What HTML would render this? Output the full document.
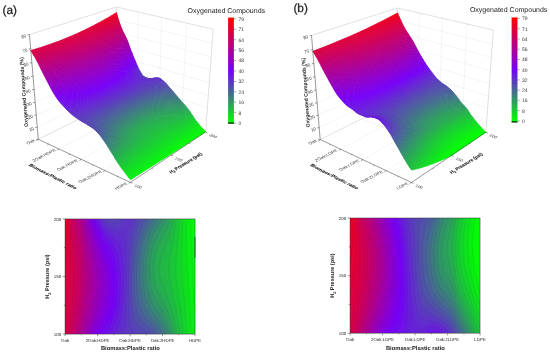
<!DOCTYPE html>
<html><head><meta charset="utf-8"><title>Figure</title><style>html,body{margin:0;padding:0;background:#fff}svg{display:block}</style></head><body>
<svg width="550" height="354" viewBox="0 0 550 354" font-family="'Liberation Sans', sans-serif" text-rendering="geometricPrecision">
<rect width="550" height="354" fill="#fff"/>
<path d="M37.2,127.2 L117.1,89.2 L206.5,120.1 M36.2,114.9 L117,78.2 L207.4,108 M35.1,102.3 L116.9,66.9 L208.3,95.6 M34.1,89.4 L116.7,55.4 L209.2,82.9 M33,76.2 L116.6,43.7 L210.2,69.9 M31.8,62.7 L116.5,31.7 L211.2,56.7 M30.7,48.8 L116.4,19.5 L212.2,43.1 M59,149 L137.4,107.3 L138.3,12 M81.3,159.4 L158.8,115 L161.7,17.4 M105,170.5 L181.5,123.2 L186.6,23.1 M171.1,155.1 L80.5,118.3" fill="none" stroke="#eaeaea" stroke-width="0.5"/>
<path d="M29.5,34.6 L116.3,7 L213.2,29.2 L205.6,131.9 M116.3,7 L117.2,100 M38.3,139.3 L117.2,100 L205.6,131.9" fill="none" stroke="#cbcbcb" stroke-width="0.6"/>
<defs><linearGradient id="sa0" gradientUnits="userSpaceOnUse" x1="31.3" y1="51.3" x2="116.8" y2="14.2"><stop offset="0" stop-color="#da0043"/><stop offset="0.11" stop-color="#da0044"/><stop offset="0.218" stop-color="#da0043"/><stop offset="0.323" stop-color="#da0042"/><stop offset="0.426" stop-color="#dc0040"/><stop offset="0.526" stop-color="#dd003d"/><stop offset="0.625" stop-color="#e00038"/><stop offset="0.721" stop-color="#e30033"/><stop offset="0.816" stop-color="#e6002d"/><stop offset="0.909" stop-color="#ea0026"/><stop offset="1" stop-color="#ef001d"/></linearGradient><linearGradient id="sa1" gradientUnits="userSpaceOnUse" x1="32.3" y1="52.9" x2="117.7" y2="17.2"><stop offset="0" stop-color="#d70049"/><stop offset="0.113" stop-color="#d70048"/><stop offset="0.222" stop-color="#d80046"/><stop offset="0.328" stop-color="#d90044"/><stop offset="0.432" stop-color="#db0042"/><stop offset="0.533" stop-color="#dc003f"/><stop offset="0.631" stop-color="#de003c"/><stop offset="0.727" stop-color="#e00038"/><stop offset="0.82" stop-color="#e20034"/><stop offset="0.911" stop-color="#e40030"/><stop offset="1" stop-color="#e7002b"/></linearGradient><linearGradient id="sa2" gradientUnits="userSpaceOnUse" x1="33.3" y1="54.5" x2="118.6" y2="20.1"><stop offset="0" stop-color="#d3004f"/><stop offset="0.115" stop-color="#d5004c"/><stop offset="0.226" stop-color="#d70049"/><stop offset="0.333" stop-color="#d80047"/><stop offset="0.437" stop-color="#d90044"/><stop offset="0.538" stop-color="#db0042"/><stop offset="0.636" stop-color="#dc0040"/><stop offset="0.731" stop-color="#dd003e"/><stop offset="0.824" stop-color="#de003c"/><stop offset="0.913" stop-color="#df003a"/><stop offset="1" stop-color="#e00039"/></linearGradient><linearGradient id="sa3" gradientUnits="userSpaceOnUse" x1="34.3" y1="56.3" x2="119.5" y2="22.8"><stop offset="0" stop-color="#d00055"/><stop offset="0.116" stop-color="#d20051"/><stop offset="0.229" stop-color="#d5004d"/><stop offset="0.337" stop-color="#d6004a"/><stop offset="0.442" stop-color="#d80047"/><stop offset="0.544" stop-color="#d90045"/><stop offset="0.641" stop-color="#da0044"/><stop offset="0.736" stop-color="#da0043"/><stop offset="0.827" stop-color="#da0043"/><stop offset="0.915" stop-color="#d90044"/><stop offset="1" stop-color="#d90045"/></linearGradient><linearGradient id="sa4" gradientUnits="userSpaceOnUse" x1="35.4" y1="58.1" x2="120.4" y2="25.3"><stop offset="0" stop-color="#cc005c"/><stop offset="0.118" stop-color="#d00056"/><stop offset="0.232" stop-color="#d20051"/><stop offset="0.341" stop-color="#d4004d"/><stop offset="0.446" stop-color="#d6004a"/><stop offset="0.548" stop-color="#d70049"/><stop offset="0.646" stop-color="#d70048"/><stop offset="0.739" stop-color="#d70049"/><stop offset="0.83" stop-color="#d6004a"/><stop offset="0.917" stop-color="#d4004d"/><stop offset="1" stop-color="#d20051"/></linearGradient><linearGradient id="sa5" gradientUnits="userSpaceOnUse" x1="36.4" y1="60" x2="121.3" y2="27.7"><stop offset="0" stop-color="#c80063"/><stop offset="0.119" stop-color="#cc005b"/><stop offset="0.234" stop-color="#d00055"/><stop offset="0.344" stop-color="#d20051"/><stop offset="0.45" stop-color="#d4004e"/><stop offset="0.552" stop-color="#d5004c"/><stop offset="0.649" stop-color="#d5004c"/><stop offset="0.743" stop-color="#d4004e"/><stop offset="0.832" stop-color="#d20051"/><stop offset="0.918" stop-color="#d00056"/><stop offset="1" stop-color="#cc005c"/></linearGradient><linearGradient id="sa6" gradientUnits="userSpaceOnUse" x1="37.4" y1="61.9" x2="122.2" y2="29.9"><stop offset="0" stop-color="#c4006a"/><stop offset="0.12" stop-color="#c90061"/><stop offset="0.236" stop-color="#cd005a"/><stop offset="0.347" stop-color="#d00055"/><stop offset="0.453" stop-color="#d20052"/><stop offset="0.555" stop-color="#d30050"/><stop offset="0.653" stop-color="#d20051"/><stop offset="0.746" stop-color="#d10053"/><stop offset="0.835" stop-color="#ce0058"/><stop offset="0.919" stop-color="#cb005e"/><stop offset="1" stop-color="#c60066"/></linearGradient><linearGradient id="sa7" gradientUnits="userSpaceOnUse" x1="38.5" y1="64" x2="123.1" y2="31.9"><stop offset="0" stop-color="#c00072"/><stop offset="0.122" stop-color="#c60068"/><stop offset="0.238" stop-color="#ca0060"/><stop offset="0.35" stop-color="#cd005a"/><stop offset="0.457" stop-color="#cf0056"/><stop offset="0.558" stop-color="#d00055"/><stop offset="0.656" stop-color="#d00055"/><stop offset="0.748" stop-color="#ce0059"/><stop offset="0.837" stop-color="#cb005e"/><stop offset="0.92" stop-color="#c70065"/><stop offset="1" stop-color="#c2006f"/></linearGradient><linearGradient id="sa8" gradientUnits="userSpaceOnUse" x1="39.5" y1="66.1" x2="124" y2="33.6"><stop offset="0" stop-color="#bb007b"/><stop offset="0.123" stop-color="#c2006f"/><stop offset="0.24" stop-color="#c70066"/><stop offset="0.352" stop-color="#cb005f"/><stop offset="0.459" stop-color="#cd005b"/><stop offset="0.561" stop-color="#ce0059"/><stop offset="0.659" stop-color="#cd005a"/><stop offset="0.751" stop-color="#cb005d"/><stop offset="0.839" stop-color="#c80063"/><stop offset="0.922" stop-color="#c3006c"/><stop offset="1" stop-color="#bd0077"/></linearGradient><linearGradient id="sa9" gradientUnits="userSpaceOnUse" x1="40.6" y1="68.3" x2="124.9" y2="35.3"><stop offset="0" stop-color="#b70083"/><stop offset="0.124" stop-color="#be0076"/><stop offset="0.242" stop-color="#c3006c"/><stop offset="0.355" stop-color="#c80064"/><stop offset="0.462" stop-color="#ca0060"/><stop offset="0.564" stop-color="#cb005e"/><stop offset="0.661" stop-color="#cb005f"/><stop offset="0.753" stop-color="#c90062"/><stop offset="0.84" stop-color="#c50069"/><stop offset="0.923" stop-color="#c00072"/><stop offset="1" stop-color="#b9007e"/></linearGradient><linearGradient id="sa10" gradientUnits="userSpaceOnUse" x1="41.6" y1="70.4" x2="125.8" y2="37"><stop offset="0" stop-color="#b2008b"/><stop offset="0.124" stop-color="#ba007d"/><stop offset="0.243" stop-color="#c00072"/><stop offset="0.357" stop-color="#c4006a"/><stop offset="0.464" stop-color="#c70065"/><stop offset="0.567" stop-color="#c80063"/><stop offset="0.664" stop-color="#c80064"/><stop offset="0.756" stop-color="#c60068"/><stop offset="0.842" stop-color="#c2006f"/><stop offset="0.924" stop-color="#bc0079"/><stop offset="1" stop-color="#b50086"/></linearGradient><linearGradient id="sa11" gradientUnits="userSpaceOnUse" x1="42.7" y1="72.5" x2="126.7" y2="38.8"><stop offset="0" stop-color="#ae0093"/><stop offset="0.125" stop-color="#b60084"/><stop offset="0.245" stop-color="#bc0079"/><stop offset="0.358" stop-color="#c10070"/><stop offset="0.466" stop-color="#c4006b"/><stop offset="0.569" stop-color="#c50069"/><stop offset="0.666" stop-color="#c5006a"/><stop offset="0.757" stop-color="#c2006e"/><stop offset="0.843" stop-color="#be0076"/><stop offset="0.924" stop-color="#b80080"/><stop offset="1" stop-color="#b1008e"/></linearGradient><linearGradient id="sa12" gradientUnits="userSpaceOnUse" x1="43.7" y1="74.6" x2="127.6" y2="40.9"><stop offset="0" stop-color="#a9009b"/><stop offset="0.126" stop-color="#b2008c"/><stop offset="0.246" stop-color="#b90080"/><stop offset="0.36" stop-color="#bd0077"/><stop offset="0.468" stop-color="#c00071"/><stop offset="0.571" stop-color="#c2006f"/><stop offset="0.668" stop-color="#c10071"/><stop offset="0.759" stop-color="#be0075"/><stop offset="0.845" stop-color="#ba007d"/><stop offset="0.925" stop-color="#b30089"/><stop offset="1" stop-color="#ab0098"/></linearGradient><linearGradient id="sa13" gradientUnits="userSpaceOnUse" x1="44.8" y1="76.6" x2="128.5" y2="43.3"><stop offset="0" stop-color="#a500a3"/><stop offset="0.126" stop-color="#ae0093"/><stop offset="0.247" stop-color="#b50087"/><stop offset="0.361" stop-color="#ba007e"/><stop offset="0.47" stop-color="#bd0078"/><stop offset="0.573" stop-color="#be0076"/><stop offset="0.669" stop-color="#bd0078"/><stop offset="0.76" stop-color="#ba007d"/><stop offset="0.846" stop-color="#b50086"/><stop offset="0.926" stop-color="#ae0093"/><stop offset="1" stop-color="#a500a3"/></linearGradient><linearGradient id="sa14" gradientUnits="userSpaceOnUse" x1="45.8" y1="78.6" x2="129.4" y2="45.9"><stop offset="0" stop-color="#a100ab"/><stop offset="0.127" stop-color="#aa009a"/><stop offset="0.248" stop-color="#b1008d"/><stop offset="0.363" stop-color="#b60084"/><stop offset="0.472" stop-color="#b9007f"/><stop offset="0.575" stop-color="#ba007d"/><stop offset="0.671" stop-color="#b80080"/><stop offset="0.762" stop-color="#b50086"/><stop offset="0.847" stop-color="#b00090"/><stop offset="0.926" stop-color="#a8009d"/><stop offset="1" stop-color="#9e00af"/></linearGradient><linearGradient id="sa15" gradientUnits="userSpaceOnUse" x1="46.9" y1="80.6" x2="130.2" y2="48.4"><stop offset="0" stop-color="#9c00b3"/><stop offset="0.128" stop-color="#a600a1"/><stop offset="0.249" stop-color="#ad0094"/><stop offset="0.365" stop-color="#b2008b"/><stop offset="0.474" stop-color="#b50086"/><stop offset="0.576" stop-color="#b60085"/><stop offset="0.673" stop-color="#b40087"/><stop offset="0.764" stop-color="#b0008e"/><stop offset="0.848" stop-color="#a09"/><stop offset="0.927" stop-color="#a200a8"/><stop offset="1" stop-color="#9800bb"/></linearGradient><linearGradient id="sa16" gradientUnits="userSpaceOnUse" x1="47.9" y1="82.6" x2="131.1" y2="50.8"><stop offset="0" stop-color="#9800ba"/><stop offset="0.128" stop-color="#a200a8"/><stop offset="0.25" stop-color="#a9009b"/><stop offset="0.366" stop-color="#af0092"/><stop offset="0.475" stop-color="#b1008c"/><stop offset="0.578" stop-color="#b2008b"/><stop offset="0.675" stop-color="#b0008f"/><stop offset="0.765" stop-color="#ac0096"/><stop offset="0.849" stop-color="#a600a2"/><stop offset="0.928" stop-color="#9d00b2"/><stop offset="1" stop-color="#9200c6"/></linearGradient><linearGradient id="sa17" gradientUnits="userSpaceOnUse" x1="48.9" y1="84.6" x2="132" y2="53.1"><stop offset="0" stop-color="#9400c2"/><stop offset="0.129" stop-color="#9e00af"/><stop offset="0.252" stop-color="#a600a1"/><stop offset="0.368" stop-color="#ab0098"/><stop offset="0.477" stop-color="#ae0093"/><stop offset="0.58" stop-color="#ae0092"/><stop offset="0.677" stop-color="#ac0095"/><stop offset="0.767" stop-color="#a8009e"/><stop offset="0.851" stop-color="#a100aa"/><stop offset="0.928" stop-color="#9800bb"/><stop offset="1" stop-color="#8c00d1"/></linearGradient><linearGradient id="sa18" gradientUnits="userSpaceOnUse" x1="50" y1="86.6" x2="132.9" y2="55.3"><stop offset="0" stop-color="#9000ca"/><stop offset="0.13" stop-color="#9a00b6"/><stop offset="0.253" stop-color="#a200a8"/><stop offset="0.37" stop-color="#a8009e"/><stop offset="0.479" stop-color="#ab0098"/><stop offset="0.583" stop-color="#ab0098"/><stop offset="0.679" stop-color="#a9009c"/><stop offset="0.769" stop-color="#a400a5"/><stop offset="0.852" stop-color="#9d00b2"/><stop offset="0.929" stop-color="#9300c4"/><stop offset="1" stop-color="#8600db"/></linearGradient><linearGradient id="sa19" gradientUnits="userSpaceOnUse" x1="51" y1="88.5" x2="133.8" y2="57.4"><stop offset="0" stop-color="#8c00d1"/><stop offset="0.131" stop-color="#9700bd"/><stop offset="0.254" stop-color="#9f00ae"/><stop offset="0.371" stop-color="#a500a4"/><stop offset="0.481" stop-color="#a8009e"/><stop offset="0.585" stop-color="#a8009e"/><stop offset="0.681" stop-color="#a500a2"/><stop offset="0.771" stop-color="#a000ac"/><stop offset="0.853" stop-color="#9800ba"/><stop offset="0.93" stop-color="#8e00cd"/><stop offset="1" stop-color="#8100e5"/></linearGradient><linearGradient id="sa20" gradientUnits="userSpaceOnUse" x1="52" y1="90.4" x2="134.7" y2="59.5"><stop offset="0" stop-color="#8800d8"/><stop offset="0.131" stop-color="#9300c3"/><stop offset="0.255" stop-color="#9c00b4"/><stop offset="0.373" stop-color="#a100a9"/><stop offset="0.483" stop-color="#a400a4"/><stop offset="0.586" stop-color="#a500a4"/><stop offset="0.683" stop-color="#a200a9"/><stop offset="0.772" stop-color="#9c00b2"/><stop offset="0.855" stop-color="#9400c1"/><stop offset="0.931" stop-color="#8900d5"/><stop offset="1" stop-color="#7b00ef"/></linearGradient><linearGradient id="sa21" gradientUnits="userSpaceOnUse" x1="53.1" y1="92.1" x2="135.6" y2="61.6"><stop offset="0" stop-color="#8400de"/><stop offset="0.132" stop-color="#9000c9"/><stop offset="0.256" stop-color="#9900b9"/><stop offset="0.374" stop-color="#9e00af"/><stop offset="0.484" stop-color="#a100aa"/><stop offset="0.588" stop-color="#a100aa"/><stop offset="0.684" stop-color="#9e00af"/><stop offset="0.773" stop-color="#9900b9"/><stop offset="0.856" stop-color="#9000c9"/><stop offset="0.931" stop-color="#8400de"/><stop offset="1" stop-color="#7600f8"/></linearGradient><linearGradient id="sa22" gradientUnits="userSpaceOnUse" x1="54.1" y1="93.8" x2="136.4" y2="63.7"><stop offset="0" stop-color="#8100e4"/><stop offset="0.132" stop-color="#8d00cf"/><stop offset="0.257" stop-color="#9600bf"/><stop offset="0.375" stop-color="#9b00b4"/><stop offset="0.486" stop-color="#9e00af"/><stop offset="0.589" stop-color="#9e00af"/><stop offset="0.685" stop-color="#9b00b5"/><stop offset="0.774" stop-color="#9500c0"/><stop offset="0.856" stop-color="#8c00d1"/><stop offset="0.932" stop-color="#8000e7"/><stop offset="1" stop-color="#710aee"/></linearGradient><linearGradient id="sa23" gradientUnits="userSpaceOnUse" x1="55.1" y1="95.4" x2="137.3" y2="65.8"><stop offset="0" stop-color="#7e00ea"/><stop offset="0.133" stop-color="#8a00d4"/><stop offset="0.258" stop-color="#9300c4"/><stop offset="0.376" stop-color="#9800ba"/><stop offset="0.487" stop-color="#9b00b5"/><stop offset="0.59" stop-color="#9b00b5"/><stop offset="0.687" stop-color="#9800bb"/><stop offset="0.775" stop-color="#9100c7"/><stop offset="0.857" stop-color="#8800d8"/><stop offset="0.932" stop-color="#7b00ef"/><stop offset="1" stop-color="#6d14e4"/></linearGradient><linearGradient id="sa24" gradientUnits="userSpaceOnUse" x1="56.1" y1="97" x2="138.2" y2="67.8"><stop offset="0" stop-color="#7b00f0"/><stop offset="0.133" stop-color="#8700da"/><stop offset="0.258" stop-color="#9000c9"/><stop offset="0.377" stop-color="#9600bf"/><stop offset="0.488" stop-color="#9800ba"/><stop offset="0.591" stop-color="#9800bb"/><stop offset="0.687" stop-color="#9400c1"/><stop offset="0.776" stop-color="#8d00ce"/><stop offset="0.858" stop-color="#8400e0"/><stop offset="0.932" stop-color="#7600f7"/><stop offset="1" stop-color="#681ddb"/></linearGradient><linearGradient id="sa25" gradientUnits="userSpaceOnUse" x1="57.1" y1="98.4" x2="139.1" y2="69.6"><stop offset="0" stop-color="#7800f5"/><stop offset="0.133" stop-color="#8400df"/><stop offset="0.259" stop-color="#8d00ce"/><stop offset="0.377" stop-color="#9300c4"/><stop offset="0.488" stop-color="#9500bf"/><stop offset="0.592" stop-color="#9500c0"/><stop offset="0.688" stop-color="#9100c7"/><stop offset="0.777" stop-color="#8a00d4"/><stop offset="0.858" stop-color="#8000e6"/><stop offset="0.933" stop-color="#7307f1"/><stop offset="1" stop-color="#6526d3"/></linearGradient><linearGradient id="sa26" gradientUnits="userSpaceOnUse" x1="58.1" y1="99.8" x2="140" y2="71.1"><stop offset="0" stop-color="#7502f6"/><stop offset="0.133" stop-color="#8100e4"/><stop offset="0.259" stop-color="#8a00d3"/><stop offset="0.378" stop-color="#9000c9"/><stop offset="0.489" stop-color="#9200c5"/><stop offset="0.592" stop-color="#9200c6"/><stop offset="0.688" stop-color="#8e00cd"/><stop offset="0.777" stop-color="#8700da"/><stop offset="0.858" stop-color="#7c00ec"/><stop offset="0.933" stop-color="#700deb"/><stop offset="1" stop-color="#612dcd"/></linearGradient><linearGradient id="sa27" gradientUnits="userSpaceOnUse" x1="59.1" y1="101.1" x2="140.9" y2="72.6"><stop offset="0" stop-color="#7306f2"/><stop offset="0.133" stop-color="#7f00e8"/><stop offset="0.259" stop-color="#8800d8"/><stop offset="0.378" stop-color="#8d00ce"/><stop offset="0.489" stop-color="#9000ca"/><stop offset="0.592" stop-color="#8f00cb"/><stop offset="0.688" stop-color="#8b00d2"/><stop offset="0.777" stop-color="#8300e0"/><stop offset="0.858" stop-color="#7900f3"/><stop offset="0.933" stop-color="#6d14e5"/><stop offset="1" stop-color="#5e33c6"/></linearGradient><linearGradient id="sa28" gradientUnits="userSpaceOnUse" x1="60.1" y1="102.3" x2="141.8" y2="74"><stop offset="0" stop-color="#710aee"/><stop offset="0.133" stop-color="#7c00ec"/><stop offset="0.259" stop-color="#8500dd"/><stop offset="0.377" stop-color="#8b00d3"/><stop offset="0.488" stop-color="#8d00cf"/><stop offset="0.592" stop-color="#8c00d1"/><stop offset="0.688" stop-color="#8800d8"/><stop offset="0.777" stop-color="#8000e5"/><stop offset="0.858" stop-color="#7600f8"/><stop offset="0.933" stop-color="#6a1adf"/><stop offset="1" stop-color="#5b3ac0"/></linearGradient><linearGradient id="sa29" gradientUnits="userSpaceOnUse" x1="61.1" y1="103.5" x2="142.6" y2="75.3"><stop offset="0" stop-color="#700eea"/><stop offset="0.133" stop-color="#7a00f1"/><stop offset="0.259" stop-color="#8300e1"/><stop offset="0.377" stop-color="#8800d8"/><stop offset="0.488" stop-color="#8a00d4"/><stop offset="0.592" stop-color="#8900d6"/><stop offset="0.688" stop-color="#8500dd"/><stop offset="0.777" stop-color="#7d00eb"/><stop offset="0.858" stop-color="#7306f2"/><stop offset="0.932" stop-color="#6720d9"/><stop offset="1" stop-color="#593fba"/></linearGradient><linearGradient id="sa30" gradientUnits="userSpaceOnUse" x1="62.1" y1="104.6" x2="143.5" y2="76.4"><stop offset="0" stop-color="#6e11e7"/><stop offset="0.133" stop-color="#7800f5"/><stop offset="0.258" stop-color="#8000e6"/><stop offset="0.377" stop-color="#8500dc"/><stop offset="0.487" stop-color="#8700d9"/><stop offset="0.591" stop-color="#8600db"/><stop offset="0.687" stop-color="#8200e3"/><stop offset="0.776" stop-color="#7a00f0"/><stop offset="0.858" stop-color="#710bed"/><stop offset="0.932" stop-color="#6524d5"/><stop offset="1" stop-color="#5743b6"/></linearGradient><linearGradient id="sa31" gradientUnits="userSpaceOnUse" x1="63.1" y1="105.7" x2="144.4" y2="77.1"><stop offset="0" stop-color="#6c15e4"/><stop offset="0.132" stop-color="#7601f7"/><stop offset="0.258" stop-color="#7e00ea"/><stop offset="0.376" stop-color="#8200e1"/><stop offset="0.487" stop-color="#8400de"/><stop offset="0.59" stop-color="#8300e0"/><stop offset="0.686" stop-color="#7f00e8"/><stop offset="0.775" stop-color="#7800f4"/><stop offset="0.857" stop-color="#6f0fe9"/><stop offset="0.932" stop-color="#6428d1"/><stop offset="1" stop-color="#5646b4"/></linearGradient><linearGradient id="sa32" gradientUnits="userSpaceOnUse" x1="64.1" y1="106.7" x2="145.4" y2="77.4"><stop offset="0" stop-color="#6b18e1"/><stop offset="0.132" stop-color="#7405f3"/><stop offset="0.257" stop-color="#7b00ef"/><stop offset="0.375" stop-color="#8000e7"/><stop offset="0.485" stop-color="#8100e3"/><stop offset="0.589" stop-color="#8000e5"/><stop offset="0.685" stop-color="#7c00ec"/><stop offset="0.774" stop-color="#7601f7"/><stop offset="0.856" stop-color="#6d12e6"/><stop offset="0.931" stop-color="#632ad0"/><stop offset="1" stop-color="#5646b4"/></linearGradient><linearGradient id="sa33" gradientUnits="userSpaceOnUse" x1="65.1" y1="107.8" x2="146.3" y2="77.8"><stop offset="0" stop-color="#691bdd"/><stop offset="0.132" stop-color="#7209ef"/><stop offset="0.256" stop-color="#7800f4"/><stop offset="0.373" stop-color="#7d00ec"/><stop offset="0.484" stop-color="#7e00e9"/><stop offset="0.587" stop-color="#7e00ea"/><stop offset="0.683" stop-color="#7a00f1"/><stop offset="0.773" stop-color="#7405f3"/><stop offset="0.855" stop-color="#6c16e3"/><stop offset="0.931" stop-color="#622bce"/><stop offset="1" stop-color="#5546b4"/></linearGradient><linearGradient id="sa34" gradientUnits="userSpaceOnUse" x1="66.1" y1="108.8" x2="147.2" y2="78.1"><stop offset="0" stop-color="#681fda"/><stop offset="0.131" stop-color="#700deb"/><stop offset="0.255" stop-color="#7601f7"/><stop offset="0.372" stop-color="#7a00f1"/><stop offset="0.482" stop-color="#7c00ee"/><stop offset="0.585" stop-color="#7b00f0"/><stop offset="0.682" stop-color="#7700f6"/><stop offset="0.771" stop-color="#7209ef"/><stop offset="0.854" stop-color="#6b19e0"/><stop offset="0.93" stop-color="#612dcc"/><stop offset="1" stop-color="#5547b3"/></linearGradient><linearGradient id="sa35" gradientUnits="userSpaceOnUse" x1="67.1" y1="109.9" x2="148.1" y2="78.4"><stop offset="0" stop-color="#6622d7"/><stop offset="0.13" stop-color="#6e11e7"/><stop offset="0.254" stop-color="#7306f3"/><stop offset="0.371" stop-color="#7700f6"/><stop offset="0.48" stop-color="#7900f3"/><stop offset="0.583" stop-color="#7800f5"/><stop offset="0.68" stop-color="#7503f5"/><stop offset="0.769" stop-color="#700deb"/><stop offset="0.853" stop-color="#691cdd"/><stop offset="0.929" stop-color="#602fca"/><stop offset="1" stop-color="#5547b3"/></linearGradient><linearGradient id="sa36" gradientUnits="userSpaceOnUse" x1="68.1" y1="110.9" x2="149" y2="78.8"><stop offset="0" stop-color="#6525d4"/><stop offset="0.13" stop-color="#6c16e3"/><stop offset="0.253" stop-color="#710aee"/><stop offset="0.369" stop-color="#7403f5"/><stop offset="0.478" stop-color="#7601f7"/><stop offset="0.581" stop-color="#7502f6"/><stop offset="0.678" stop-color="#7307f1"/><stop offset="0.767" stop-color="#6e11e7"/><stop offset="0.851" stop-color="#681fda"/><stop offset="0.929" stop-color="#5f31c8"/><stop offset="1" stop-color="#5547b3"/></linearGradient><linearGradient id="sa37" gradientUnits="userSpaceOnUse" x1="69.1" y1="111.9" x2="149.9" y2="79"><stop offset="0" stop-color="#6428d1"/><stop offset="0.129" stop-color="#6a19df"/><stop offset="0.251" stop-color="#6f0fe9"/><stop offset="0.367" stop-color="#7209f0"/><stop offset="0.476" stop-color="#7306f2"/><stop offset="0.579" stop-color="#7307f1"/><stop offset="0.675" stop-color="#700cec"/><stop offset="0.765" stop-color="#6c15e3"/><stop offset="0.85" stop-color="#6622d7"/><stop offset="0.928" stop-color="#5f32c7"/><stop offset="1" stop-color="#5547b3"/></linearGradient><linearGradient id="sa38" gradientUnits="userSpaceOnUse" x1="70" y1="112.8" x2="150.9" y2="79"><stop offset="0" stop-color="#622acf"/><stop offset="0.128" stop-color="#681ddc"/><stop offset="0.249" stop-color="#6d14e5"/><stop offset="0.364" stop-color="#700eea"/><stop offset="0.473" stop-color="#710bed"/><stop offset="0.576" stop-color="#700cec"/><stop offset="0.672" stop-color="#6e11e8"/><stop offset="0.763" stop-color="#6b19e0"/><stop offset="0.848" stop-color="#6524d5"/><stop offset="0.927" stop-color="#5e33c6"/><stop offset="1" stop-color="#5645b5"/></linearGradient><linearGradient id="sa39" gradientUnits="userSpaceOnUse" x1="71" y1="113.6" x2="151.8" y2="78.8"><stop offset="0" stop-color="#612ccd"/><stop offset="0.126" stop-color="#6721d8"/><stop offset="0.247" stop-color="#6b19e0"/><stop offset="0.361" stop-color="#6d13e5"/><stop offset="0.469" stop-color="#6e11e8"/><stop offset="0.572" stop-color="#6e12e7"/><stop offset="0.668" stop-color="#6c15e3"/><stop offset="0.759" stop-color="#691cdd"/><stop offset="0.845" stop-color="#6426d3"/><stop offset="0.925" stop-color="#5f33c7"/><stop offset="1" stop-color="#5743b7"/></linearGradient><linearGradient id="sa40" gradientUnits="userSpaceOnUse" x1="72" y1="114.5" x2="152.8" y2="78.5"><stop offset="0" stop-color="#602ecb"/><stop offset="0.125" stop-color="#6525d4"/><stop offset="0.244" stop-color="#681ddc"/><stop offset="0.357" stop-color="#6b19e0"/><stop offset="0.465" stop-color="#6c16e2"/><stop offset="0.567" stop-color="#6b17e2"/><stop offset="0.664" stop-color="#6a1adf"/><stop offset="0.756" stop-color="#681fda"/><stop offset="0.842" stop-color="#6427d2"/><stop offset="0.924" stop-color="#5f32c7"/><stop offset="1" stop-color="#593fba"/></linearGradient><linearGradient id="sa41" gradientUnits="userSpaceOnUse" x1="73" y1="115.3" x2="153.7" y2="78.2"><stop offset="0" stop-color="#6030c9"/><stop offset="0.123" stop-color="#6328d1"/><stop offset="0.241" stop-color="#6622d7"/><stop offset="0.353" stop-color="#681edb"/><stop offset="0.461" stop-color="#691cdd"/><stop offset="0.563" stop-color="#691cdd"/><stop offset="0.66" stop-color="#681edb"/><stop offset="0.752" stop-color="#6623d6"/><stop offset="0.839" stop-color="#6329d0"/><stop offset="0.922" stop-color="#5f32c8"/><stop offset="1" stop-color="#5a3cbd"/></linearGradient><linearGradient id="sa42" gradientUnits="userSpaceOnUse" x1="74" y1="116" x2="154.6" y2="78.1"><stop offset="0" stop-color="#5f32c7"/><stop offset="0.122" stop-color="#622cce"/><stop offset="0.238" stop-color="#6427d2"/><stop offset="0.349" stop-color="#6623d6"/><stop offset="0.456" stop-color="#6622d7"/><stop offset="0.558" stop-color="#6721d7"/><stop offset="0.655" stop-color="#6623d6"/><stop offset="0.748" stop-color="#6426d3"/><stop offset="0.836" stop-color="#622bce"/><stop offset="0.92" stop-color="#5f32c8"/><stop offset="1" stop-color="#5b3ac0"/></linearGradient><linearGradient id="sa43" gradientUnits="userSpaceOnUse" x1="75" y1="116.8" x2="155.6" y2="78"><stop offset="0" stop-color="#5e34c5"/><stop offset="0.12" stop-color="#602fca"/><stop offset="0.235" stop-color="#622bce"/><stop offset="0.345" stop-color="#6329d0"/><stop offset="0.451" stop-color="#6427d2"/><stop offset="0.553" stop-color="#6427d2"/><stop offset="0.65" stop-color="#6428d1"/><stop offset="0.743" stop-color="#632acf"/><stop offset="0.833" stop-color="#612dcc"/><stop offset="0.918" stop-color="#5f32c7"/><stop offset="1" stop-color="#5c38c2"/></linearGradient><linearGradient id="sa44" gradientUnits="userSpaceOnUse" x1="76" y1="117.5" x2="156.5" y2="77.9"><stop offset="0" stop-color="#5d36c4"/><stop offset="0.118" stop-color="#5f32c7"/><stop offset="0.231" stop-color="#6030c9"/><stop offset="0.34" stop-color="#612ecb"/><stop offset="0.446" stop-color="#612dcc"/><stop offset="0.547" stop-color="#612dcc"/><stop offset="0.645" stop-color="#612dcc"/><stop offset="0.739" stop-color="#612ecb"/><stop offset="0.829" stop-color="#6030c9"/><stop offset="0.916" stop-color="#5f32c7"/><stop offset="1" stop-color="#5d35c4"/></linearGradient><linearGradient id="sa45" gradientUnits="userSpaceOnUse" x1="77" y1="118.3" x2="157.5" y2="77.8"><stop offset="0" stop-color="#5c37c2"/><stop offset="0.116" stop-color="#5d36c4"/><stop offset="0.227" stop-color="#5e35c5"/><stop offset="0.335" stop-color="#5e34c6"/><stop offset="0.44" stop-color="#5e33c6"/><stop offset="0.541" stop-color="#5f33c7"/><stop offset="0.639" stop-color="#5f32c7"/><stop offset="0.734" stop-color="#5f32c7"/><stop offset="0.825" stop-color="#5f33c7"/><stop offset="0.914" stop-color="#5e33c6"/><stop offset="1" stop-color="#5e34c6"/></linearGradient><linearGradient id="sa46" gradientUnits="userSpaceOnUse" x1="78" y1="119" x2="158.4" y2="77.9"><stop offset="0" stop-color="#5c39c1"/><stop offset="0.113" stop-color="#5b39c0"/><stop offset="0.223" stop-color="#5b3ac0"/><stop offset="0.33" stop-color="#5b3ac0"/><stop offset="0.434" stop-color="#5b3ac0"/><stop offset="0.535" stop-color="#5c39c0"/><stop offset="0.633" stop-color="#5c38c1"/><stop offset="0.728" stop-color="#5c37c2"/><stop offset="0.821" stop-color="#5d36c4"/><stop offset="0.912" stop-color="#5e34c5"/><stop offset="1" stop-color="#5f32c7"/></linearGradient><linearGradient id="sa47" gradientUnits="userSpaceOnUse" x1="79" y1="119.6" x2="159.4" y2="78.1"><stop offset="0" stop-color="#5b3ac0"/><stop offset="0.111" stop-color="#5a3dbd"/><stop offset="0.219" stop-color="#593fbb"/><stop offset="0.325" stop-color="#5840ba"/><stop offset="0.428" stop-color="#5840b9"/><stop offset="0.528" stop-color="#5840ba"/><stop offset="0.627" stop-color="#593fbb"/><stop offset="0.723" stop-color="#5a3dbd"/><stop offset="0.817" stop-color="#5b3ac0"/><stop offset="0.909" stop-color="#5d36c3"/><stop offset="1" stop-color="#5f32c8"/></linearGradient><linearGradient id="sa48" gradientUnits="userSpaceOnUse" x1="80" y1="120.3" x2="160.3" y2="78.5"><stop offset="0" stop-color="#5b3bbf"/><stop offset="0.109" stop-color="#5840ba"/><stop offset="0.216" stop-color="#5744b6"/><stop offset="0.32" stop-color="#5646b4"/><stop offset="0.422" stop-color="#5547b3"/><stop offset="0.522" stop-color="#5547b3"/><stop offset="0.621" stop-color="#5645b4"/><stop offset="0.718" stop-color="#5743b7"/><stop offset="0.813" stop-color="#593fbb"/><stop offset="0.907" stop-color="#5c39c0"/><stop offset="1" stop-color="#5f32c7"/></linearGradient><linearGradient id="sa49" gradientUnits="userSpaceOnUse" x1="81" y1="120.9" x2="161.3" y2="79.1"><stop offset="0" stop-color="#5a3cbe"/><stop offset="0.107" stop-color="#5743b7"/><stop offset="0.212" stop-color="#5448b2"/><stop offset="0.315" stop-color="#534cae"/><stop offset="0.417" stop-color="#524eac"/><stop offset="0.517" stop-color="#524eac"/><stop offset="0.615" stop-color="#534cae"/><stop offset="0.713" stop-color="#5449b1"/><stop offset="0.81" stop-color="#5744b6"/><stop offset="0.905" stop-color="#5a3dbd"/><stop offset="1" stop-color="#5e34c5"/></linearGradient><linearGradient id="sa50" gradientUnits="userSpaceOnUse" x1="82" y1="121.5" x2="162.2" y2="79.9"><stop offset="0" stop-color="#5a3dbd"/><stop offset="0.105" stop-color="#5646b4"/><stop offset="0.209" stop-color="#524dad"/><stop offset="0.311" stop-color="#5052a8"/><stop offset="0.412" stop-color="#4f55a6"/><stop offset="0.512" stop-color="#4f55a5"/><stop offset="0.611" stop-color="#4f53a7"/><stop offset="0.709" stop-color="#514fab"/><stop offset="0.806" stop-color="#5449b1"/><stop offset="0.903" stop-color="#5841b9"/><stop offset="1" stop-color="#5d37c3"/></linearGradient><linearGradient id="sa51" gradientUnits="userSpaceOnUse" x1="83" y1="122" x2="163.2" y2="80.8"><stop offset="0" stop-color="#593ebc"/><stop offset="0.104" stop-color="#5449b1"/><stop offset="0.206" stop-color="#5051a9"/><stop offset="0.307" stop-color="#4e57a3"/><stop offset="0.407" stop-color="#4c5ba0"/><stop offset="0.507" stop-color="#4c5c9f"/><stop offset="0.606" stop-color="#4c5aa0"/><stop offset="0.705" stop-color="#4e56a4"/><stop offset="0.803" stop-color="#514fab"/><stop offset="0.902" stop-color="#5646b4"/><stop offset="1" stop-color="#5b3ac0"/></linearGradient><linearGradient id="sa52" gradientUnits="userSpaceOnUse" x1="84" y1="122.6" x2="164.1" y2="81.7"><stop offset="0" stop-color="#593ebb"/><stop offset="0.102" stop-color="#534baf"/><stop offset="0.203" stop-color="#4e56a5"/><stop offset="0.304" stop-color="#4b5d9e"/><stop offset="0.403" stop-color="#49619a"/><stop offset="0.503" stop-color="#496298"/><stop offset="0.602" stop-color="#49619a"/><stop offset="0.701" stop-color="#4b5c9e"/><stop offset="0.801" stop-color="#4f55a6"/><stop offset="0.9" stop-color="#544ab0"/><stop offset="1" stop-color="#5a3dbd"/></linearGradient><linearGradient id="sa53" gradientUnits="userSpaceOnUse" x1="85" y1="123.2" x2="165" y2="82.5"><stop offset="0" stop-color="#593fba"/><stop offset="0.101" stop-color="#524eac"/><stop offset="0.201" stop-color="#4d59a1"/><stop offset="0.3" stop-color="#496299"/><stop offset="0.4" stop-color="#476794"/><stop offset="0.499" stop-color="#466893"/><stop offset="0.598" stop-color="#466794"/><stop offset="0.698" stop-color="#496299"/><stop offset="0.798" stop-color="#4c5aa1"/><stop offset="0.899" stop-color="#524fac"/><stop offset="1" stop-color="#5840ba"/></linearGradient><linearGradient id="sa54" gradientUnits="userSpaceOnUse" x1="86.1" y1="123.8" x2="166" y2="83.5"><stop offset="0" stop-color="#5840ba"/><stop offset="0.1" stop-color="#5150aa"/><stop offset="0.199" stop-color="#4b5d9d"/><stop offset="0.298" stop-color="#476694"/><stop offset="0.397" stop-color="#446c8f"/><stop offset="0.496" stop-color="#436e8d"/><stop offset="0.595" stop-color="#446d8e"/><stop offset="0.695" stop-color="#466893"/><stop offset="0.796" stop-color="#4a5f9b"/><stop offset="0.897" stop-color="#4f53a7"/><stop offset="1" stop-color="#5744b6"/></linearGradient><linearGradient id="sa55" gradientUnits="userSpaceOnUse" x1="87.1" y1="124.5" x2="166.9" y2="84.5"><stop offset="0" stop-color="#5841b9"/><stop offset="0.099" stop-color="#5053a7"/><stop offset="0.197" stop-color="#49619a"/><stop offset="0.295" stop-color="#446b90"/><stop offset="0.394" stop-color="#42718a"/><stop offset="0.493" stop-color="#407487"/><stop offset="0.592" stop-color="#417389"/><stop offset="0.693" stop-color="#436e8d"/><stop offset="0.794" stop-color="#476596"/><stop offset="0.896" stop-color="#4d58a2"/><stop offset="1" stop-color="#5548b2"/></linearGradient><linearGradient id="sa56" gradientUnits="userSpaceOnUse" x1="88.1" y1="125.1" x2="167.9" y2="85.6"><stop offset="0" stop-color="#5742b8"/><stop offset="0.098" stop-color="#4f55a5"/><stop offset="0.195" stop-color="#486496"/><stop offset="0.293" stop-color="#426f8c"/><stop offset="0.391" stop-color="#3f7685"/><stop offset="0.49" stop-color="#3e7982"/><stop offset="0.59" stop-color="#3e7883"/><stop offset="0.691" stop-color="#417388"/><stop offset="0.792" stop-color="#456a91"/><stop offset="0.895" stop-color="#4b5d9e"/><stop offset="1" stop-color="#534cae"/></linearGradient><linearGradient id="sa57" gradientUnits="userSpaceOnUse" x1="89.1" y1="125.7" x2="168.8" y2="86.7"><stop offset="0" stop-color="#5743b7"/><stop offset="0.097" stop-color="#4d58a3"/><stop offset="0.194" stop-color="#466893"/><stop offset="0.291" stop-color="#407487"/><stop offset="0.389" stop-color="#3d7b80"/><stop offset="0.488" stop-color="#3b7f7d"/><stop offset="0.588" stop-color="#3c7e7d"/><stop offset="0.689" stop-color="#3e7982"/><stop offset="0.791" stop-color="#42708c"/><stop offset="0.895" stop-color="#496299"/><stop offset="1" stop-color="#5150aa"/></linearGradient><linearGradient id="sa58" gradientUnits="userSpaceOnUse" x1="90.1" y1="126.4" x2="169.7" y2="87.8"><stop offset="0" stop-color="#5644b6"/><stop offset="0.096" stop-color="#4c5aa0"/><stop offset="0.192" stop-color="#446b90"/><stop offset="0.289" stop-color="#3e7883"/><stop offset="0.387" stop-color="#3b807b"/><stop offset="0.486" stop-color="#398477"/><stop offset="0.586" stop-color="#398378"/><stop offset="0.687" stop-color="#3c7e7d"/><stop offset="0.789" stop-color="#407586"/><stop offset="0.894" stop-color="#466794"/><stop offset="1" stop-color="#4f54a6"/></linearGradient><linearGradient id="sa59" gradientUnits="userSpaceOnUse" x1="91.2" y1="127" x2="170.7" y2="88.9"><stop offset="0" stop-color="#5646b4"/><stop offset="0.095" stop-color="#4b5c9e"/><stop offset="0.191" stop-color="#436f8c"/><stop offset="0.288" stop-color="#3d7c7f"/><stop offset="0.385" stop-color="#388577"/><stop offset="0.484" stop-color="#378973"/><stop offset="0.584" stop-color="#378973"/><stop offset="0.685" stop-color="#398478"/><stop offset="0.788" stop-color="#3e7a81"/><stop offset="0.893" stop-color="#446b8f"/><stop offset="1" stop-color="#4d58a2"/></linearGradient><linearGradient id="sa60" gradientUnits="userSpaceOnUse" x1="92.2" y1="127.7" x2="171.6" y2="89.9"><stop offset="0" stop-color="#5547b3"/><stop offset="0.095" stop-color="#4a5f9c"/><stop offset="0.19" stop-color="#417289"/><stop offset="0.286" stop-color="#3b807b"/><stop offset="0.383" stop-color="#368a72"/><stop offset="0.482" stop-color="#348e6e"/><stop offset="0.582" stop-color="#348e6e"/><stop offset="0.683" stop-color="#378973"/><stop offset="0.787" stop-color="#3b7f7d"/><stop offset="0.892" stop-color="#42708b"/><stop offset="1" stop-color="#4b5c9e"/></linearGradient><linearGradient id="sa61" gradientUnits="userSpaceOnUse" x1="93.2" y1="128.5" x2="172.6" y2="91"><stop offset="0" stop-color="#5448b2"/><stop offset="0.094" stop-color="#496199"/><stop offset="0.189" stop-color="#407586"/><stop offset="0.285" stop-color="#398477"/><stop offset="0.382" stop-color="#348e6e"/><stop offset="0.48" stop-color="#329369"/><stop offset="0.58" stop-color="#329369"/><stop offset="0.682" stop-color="#348e6e"/><stop offset="0.786" stop-color="#398478"/><stop offset="0.892" stop-color="#407586"/><stop offset="1" stop-color="#49619a"/></linearGradient><linearGradient id="sa62" gradientUnits="userSpaceOnUse" x1="94.3" y1="129.3" x2="173.5" y2="92.1"><stop offset="0" stop-color="#544ab0"/><stop offset="0.093" stop-color="#486497"/><stop offset="0.188" stop-color="#3e7983"/><stop offset="0.283" stop-color="#378873"/><stop offset="0.38" stop-color="#329369"/><stop offset="0.479" stop-color="#309864"/><stop offset="0.579" stop-color="#309864"/><stop offset="0.681" stop-color="#329369"/><stop offset="0.785" stop-color="#378973"/><stop offset="0.891" stop-color="#3e7982"/><stop offset="1" stop-color="#476596"/></linearGradient><linearGradient id="sa63" gradientUnits="userSpaceOnUse" x1="95.3" y1="130.3" x2="174.5" y2="93.2"><stop offset="0" stop-color="#524dad"/><stop offset="0.093" stop-color="#466794"/><stop offset="0.187" stop-color="#3c7d7f"/><stop offset="0.282" stop-color="#358c6f"/><stop offset="0.379" stop-color="#309765"/><stop offset="0.477" stop-color="#2e9d60"/><stop offset="0.577" stop-color="#2d9d5f"/><stop offset="0.68" stop-color="#309864"/><stop offset="0.784" stop-color="#358d6e"/><stop offset="0.891" stop-color="#3c7e7e"/><stop offset="1" stop-color="#456992"/></linearGradient><linearGradient id="sa64" gradientUnits="userSpaceOnUse" x1="96.4" y1="131.3" x2="175.4" y2="94.3"><stop offset="0" stop-color="#5150aa"/><stop offset="0.093" stop-color="#456b90"/><stop offset="0.186" stop-color="#3b807b"/><stop offset="0.281" stop-color="#33916b"/><stop offset="0.378" stop-color="#2e9c61"/><stop offset="0.476" stop-color="#2ba15b"/><stop offset="0.576" stop-color="#2ba15b"/><stop offset="0.679" stop-color="#2e9c60"/><stop offset="0.783" stop-color="#32926a"/><stop offset="0.89" stop-color="#3a8279"/><stop offset="1" stop-color="#436d8e"/></linearGradient><linearGradient id="sa65" gradientUnits="userSpaceOnUse" x1="97.4" y1="132.4" x2="176.4" y2="95.4"><stop offset="0" stop-color="#5053a7"/><stop offset="0.092" stop-color="#436e8d"/><stop offset="0.186" stop-color="#398478"/><stop offset="0.281" stop-color="#319568"/><stop offset="0.377" stop-color="#2ca05d"/><stop offset="0.476" stop-color="#29a557"/><stop offset="0.576" stop-color="#29a657"/><stop offset="0.678" stop-color="#2ca15c"/><stop offset="0.783" stop-color="#309666"/><stop offset="0.89" stop-color="#388775"/><stop offset="1" stop-color="#41718a"/></linearGradient><linearGradient id="sa66" gradientUnits="userSpaceOnUse" x1="98.5" y1="133.6" x2="177.3" y2="96.5"><stop offset="0" stop-color="#4e57a4"/><stop offset="0.092" stop-color="#417289"/><stop offset="0.186" stop-color="#378874"/><stop offset="0.281" stop-color="#309864"/><stop offset="0.377" stop-color="#2aa359"/><stop offset="0.476" stop-color="#28a954"/><stop offset="0.576" stop-color="#28a953"/><stop offset="0.678" stop-color="#2aa458"/><stop offset="0.783" stop-color="#2f9a62"/><stop offset="0.89" stop-color="#368b71"/><stop offset="1" stop-color="#407686"/></linearGradient><linearGradient id="sa67" gradientUnits="userSpaceOnUse" x1="99.6" y1="134.9" x2="178.3" y2="97.6"><stop offset="0" stop-color="#4c5aa0"/><stop offset="0.093" stop-color="#407586"/><stop offset="0.186" stop-color="#368b71"/><stop offset="0.281" stop-color="#2e9b61"/><stop offset="0.378" stop-color="#29a656"/><stop offset="0.476" stop-color="#26ac51"/><stop offset="0.576" stop-color="#26ac50"/><stop offset="0.679" stop-color="#28a855"/><stop offset="0.783" stop-color="#2d9e5f"/><stop offset="0.89" stop-color="#348e6d"/><stop offset="1" stop-color="#3e7a81"/></linearGradient><linearGradient id="sa68" gradientUnits="userSpaceOnUse" x1="100.6" y1="136.2" x2="179.2" y2="98.7"><stop offset="0" stop-color="#4a5e9c"/><stop offset="0.093" stop-color="#3e7983"/><stop offset="0.187" stop-color="#348e6e"/><stop offset="0.282" stop-color="#2d9e5e"/><stop offset="0.379" stop-color="#28a954"/><stop offset="0.477" stop-color="#25ae4e"/><stop offset="0.578" stop-color="#25af4e"/><stop offset="0.68" stop-color="#27ab52"/><stop offset="0.784" stop-color="#2ca15c"/><stop offset="0.891" stop-color="#32926a"/><stop offset="1" stop-color="#3c7e7d"/></linearGradient><linearGradient id="sa69" gradientUnits="userSpaceOnUse" x1="101.7" y1="137.5" x2="180.2" y2="99.8"><stop offset="0" stop-color="#486398"/><stop offset="0.094" stop-color="#3c7c7f"/><stop offset="0.188" stop-color="#33916b"/><stop offset="0.284" stop-color="#2ca05c"/><stop offset="0.381" stop-color="#27ab52"/><stop offset="0.479" stop-color="#24b14c"/><stop offset="0.579" stop-color="#24b14c"/><stop offset="0.681" stop-color="#26ad50"/><stop offset="0.785" stop-color="#2aa459"/><stop offset="0.891" stop-color="#319667"/><stop offset="1" stop-color="#3a8279"/></linearGradient><linearGradient id="sa70" gradientUnits="userSpaceOnUse" x1="102.8" y1="139" x2="181.1" y2="100.9"><stop offset="0" stop-color="#466893"/><stop offset="0.094" stop-color="#3b807b"/><stop offset="0.189" stop-color="#319468"/><stop offset="0.285" stop-color="#2ba359"/><stop offset="0.383" stop-color="#26ad50"/><stop offset="0.481" stop-color="#23b34a"/><stop offset="0.581" stop-color="#23b34a"/><stop offset="0.683" stop-color="#25af4e"/><stop offset="0.786" stop-color="#29a756"/><stop offset="0.892" stop-color="#2f9963"/><stop offset="1" stop-color="#388775"/></linearGradient><linearGradient id="sa71" gradientUnits="userSpaceOnUse" x1="103.9" y1="140.6" x2="182.1" y2="102.1"><stop offset="0" stop-color="#436d8e"/><stop offset="0.095" stop-color="#398477"/><stop offset="0.191" stop-color="#309765"/><stop offset="0.287" stop-color="#29a657"/><stop offset="0.385" stop-color="#25af4e"/><stop offset="0.483" stop-color="#22b448"/><stop offset="0.583" stop-color="#22b548"/><stop offset="0.685" stop-color="#24b14b"/><stop offset="0.788" stop-color="#28a954"/><stop offset="0.893" stop-color="#2e9c60"/><stop offset="1" stop-color="#368b71"/></linearGradient><linearGradient id="sa72" gradientUnits="userSpaceOnUse" x1="104.9" y1="142.1" x2="183" y2="103.2"><stop offset="0" stop-color="#417389"/><stop offset="0.096" stop-color="#378973"/><stop offset="0.192" stop-color="#2f9a62"/><stop offset="0.289" stop-color="#28a855"/><stop offset="0.387" stop-color="#24b14c"/><stop offset="0.486" stop-color="#22b647"/><stop offset="0.586" stop-color="#21b746"/><stop offset="0.687" stop-color="#23b34a"/><stop offset="0.79" stop-color="#27ac51"/><stop offset="0.894" stop-color="#2ca05d"/><stop offset="1" stop-color="#348f6d"/></linearGradient><linearGradient id="sa73" gradientUnits="userSpaceOnUse" x1="106" y1="143.7" x2="184" y2="104.3"><stop offset="0" stop-color="#3e7883"/><stop offset="0.097" stop-color="#358d6f"/><stop offset="0.194" stop-color="#2d9e5f"/><stop offset="0.292" stop-color="#27aa52"/><stop offset="0.39" stop-color="#23b34a"/><stop offset="0.488" stop-color="#21b845"/><stop offset="0.588" stop-color="#21b944"/><stop offset="0.689" stop-color="#22b548"/><stop offset="0.791" stop-color="#25ae4f"/><stop offset="0.895" stop-color="#2ba35a"/><stop offset="1" stop-color="#329369"/></linearGradient><linearGradient id="sa74" gradientUnits="userSpaceOnUse" x1="107.1" y1="145.4" x2="184.9" y2="105.4"><stop offset="0" stop-color="#3c7e7e"/><stop offset="0.098" stop-color="#33916b"/><stop offset="0.196" stop-color="#2ba15b"/><stop offset="0.294" stop-color="#26ad50"/><stop offset="0.392" stop-color="#22b548"/><stop offset="0.491" stop-color="#20ba43"/><stop offset="0.591" stop-color="#20ba43"/><stop offset="0.691" stop-color="#21b746"/><stop offset="0.793" stop-color="#24b04c"/><stop offset="0.896" stop-color="#29a657"/><stop offset="1" stop-color="#309765"/></linearGradient><linearGradient id="sa75" gradientUnits="userSpaceOnUse" x1="108.2" y1="147.1" x2="185.9" y2="106.5"><stop offset="0" stop-color="#398478"/><stop offset="0.099" stop-color="#319666"/><stop offset="0.198" stop-color="#2aa558"/><stop offset="0.296" stop-color="#25b04d"/><stop offset="0.395" stop-color="#21b845"/><stop offset="0.494" stop-color="#1fbc41"/><stop offset="0.594" stop-color="#1fbc41"/><stop offset="0.694" stop-color="#20b944"/><stop offset="0.795" stop-color="#23b34a"/><stop offset="0.897" stop-color="#28a954"/><stop offset="1" stop-color="#2e9c61"/></linearGradient><linearGradient id="sa76" gradientUnits="userSpaceOnUse" x1="109.3" y1="148.9" x2="186.9" y2="107.6"><stop offset="0" stop-color="#368a71"/><stop offset="0.1" stop-color="#2e9b61"/><stop offset="0.199" stop-color="#28a954"/><stop offset="0.299" stop-color="#23b34a"/><stop offset="0.398" stop-color="#20ba43"/><stop offset="0.497" stop-color="#1ebe3f"/><stop offset="0.596" stop-color="#1ebe3f"/><stop offset="0.696" stop-color="#1fbc42"/><stop offset="0.797" stop-color="#22b647"/><stop offset="0.898" stop-color="#26ad50"/><stop offset="1" stop-color="#2ca05c"/></linearGradient><linearGradient id="sa77" gradientUnits="userSpaceOnUse" x1="110.4" y1="150.7" x2="187.8" y2="108.8"><stop offset="0" stop-color="#33916b"/><stop offset="0.101" stop-color="#2ca05c"/><stop offset="0.201" stop-color="#26ad50"/><stop offset="0.301" stop-color="#22b647"/><stop offset="0.4" stop-color="#1fbd41"/><stop offset="0.5" stop-color="#1dc03d"/><stop offset="0.599" stop-color="#1dc13d"/><stop offset="0.699" stop-color="#1ebe3f"/><stop offset="0.799" stop-color="#21b944"/><stop offset="0.899" stop-color="#24b04d"/><stop offset="1" stop-color="#2aa558"/></linearGradient><linearGradient id="sa78" gradientUnits="userSpaceOnUse" x1="111.4" y1="152.5" x2="188.8" y2="110.1"><stop offset="0" stop-color="#309765"/><stop offset="0.102" stop-color="#2aa557"/><stop offset="0.203" stop-color="#24b14c"/><stop offset="0.303" stop-color="#20b944"/><stop offset="0.403" stop-color="#1dbf3e"/><stop offset="0.503" stop-color="#1cc23b"/><stop offset="0.602" stop-color="#1cc33a"/><stop offset="0.701" stop-color="#1dc13d"/><stop offset="0.801" stop-color="#1fbc41"/><stop offset="0.9" stop-color="#23b449"/><stop offset="1" stop-color="#28aa53"/></linearGradient><linearGradient id="sa79" gradientUnits="userSpaceOnUse" x1="112.5" y1="154.2" x2="189.7" y2="111.4"><stop offset="0" stop-color="#2d9d5f"/><stop offset="0.103" stop-color="#27aa53"/><stop offset="0.205" stop-color="#22b548"/><stop offset="0.306" stop-color="#1fbd41"/><stop offset="0.406" stop-color="#1cc23b"/><stop offset="0.506" stop-color="#1bc538"/><stop offset="0.605" stop-color="#1bc638"/><stop offset="0.704" stop-color="#1bc43a"/><stop offset="0.803" stop-color="#1ebf3e"/><stop offset="0.901" stop-color="#21b845"/><stop offset="1" stop-color="#25af4e"/></linearGradient><linearGradient id="sa80" gradientUnits="userSpaceOnUse" x1="113.6" y1="156" x2="190.7" y2="112.7"><stop offset="0" stop-color="#2aa459"/><stop offset="0.104" stop-color="#25af4e"/><stop offset="0.207" stop-color="#21b944"/><stop offset="0.309" stop-color="#1dc03d"/><stop offset="0.41" stop-color="#1bc539"/><stop offset="0.509" stop-color="#1ac836"/><stop offset="0.608" stop-color="#19c835"/><stop offset="0.707" stop-color="#1ac737"/><stop offset="0.805" stop-color="#1cc33b"/><stop offset="0.903" stop-color="#1fbd40"/><stop offset="1" stop-color="#22b448"/></linearGradient><linearGradient id="sa81" gradientUnits="userSpaceOnUse" x1="114.7" y1="157.8" x2="191.6" y2="114.1"><stop offset="0" stop-color="#27aa53"/><stop offset="0.106" stop-color="#23b449"/><stop offset="0.21" stop-color="#1fbd41"/><stop offset="0.312" stop-color="#1cc33a"/><stop offset="0.413" stop-color="#1ac836"/><stop offset="0.513" stop-color="#18ca33"/><stop offset="0.612" stop-color="#18cb33"/><stop offset="0.71" stop-color="#19ca34"/><stop offset="0.807" stop-color="#1ac637"/><stop offset="0.904" stop-color="#1dc13c"/><stop offset="1" stop-color="#20ba43"/></linearGradient><linearGradient id="sa82" gradientUnits="userSpaceOnUse" x1="115.8" y1="159.6" x2="192.6" y2="115.6"><stop offset="0" stop-color="#25b04d"/><stop offset="0.107" stop-color="#20b944"/><stop offset="0.212" stop-color="#1dc13d"/><stop offset="0.315" stop-color="#1ac637"/><stop offset="0.417" stop-color="#18cb33"/><stop offset="0.517" stop-color="#17cd31"/><stop offset="0.615" stop-color="#17ce30"/><stop offset="0.713" stop-color="#17cd31"/><stop offset="0.809" stop-color="#18ca33"/><stop offset="0.905" stop-color="#1ac637"/><stop offset="1" stop-color="#1dc03d"/></linearGradient><linearGradient id="sa83" gradientUnits="userSpaceOnUse" x1="116.9" y1="161.3" x2="193.5" y2="117"><stop offset="0" stop-color="#22b647"/><stop offset="0.108" stop-color="#1ebe3f"/><stop offset="0.214" stop-color="#1bc539"/><stop offset="0.318" stop-color="#19ca34"/><stop offset="0.42" stop-color="#17ce30"/><stop offset="0.52" stop-color="#16d02e"/><stop offset="0.619" stop-color="#15d12d"/><stop offset="0.716" stop-color="#16d02e"/><stop offset="0.812" stop-color="#17ce30"/><stop offset="0.906" stop-color="#18cb33"/><stop offset="1" stop-color="#1ac638"/></linearGradient><linearGradient id="sa84" gradientUnits="userSpaceOnUse" x1="118" y1="162.9" x2="194.5" y2="118.4"><stop offset="0" stop-color="#1fbc41"/><stop offset="0.109" stop-color="#1cc33b"/><stop offset="0.216" stop-color="#19c935"/><stop offset="0.321" stop-color="#17cd31"/><stop offset="0.423" stop-color="#16d02d"/><stop offset="0.523" stop-color="#15d32b"/><stop offset="0.622" stop-color="#14d42a"/><stop offset="0.718" stop-color="#14d32a"/><stop offset="0.814" stop-color="#15d22c"/><stop offset="0.907" stop-color="#16cf2e"/><stop offset="1" stop-color="#18cc32"/></linearGradient><linearGradient id="sa85" gradientUnits="userSpaceOnUse" x1="119.1" y1="164.5" x2="195.4" y2="119.7"><stop offset="0" stop-color="#1dc13c"/><stop offset="0.11" stop-color="#1ac736"/><stop offset="0.218" stop-color="#17cc31"/><stop offset="0.323" stop-color="#16d02d"/><stop offset="0.426" stop-color="#14d42a"/><stop offset="0.526" stop-color="#13d628"/><stop offset="0.624" stop-color="#13d727"/><stop offset="0.721" stop-color="#13d727"/><stop offset="0.815" stop-color="#13d628"/><stop offset="0.908" stop-color="#14d42a"/><stop offset="1" stop-color="#15d12d"/></linearGradient><linearGradient id="sa86" gradientUnits="userSpaceOnUse" x1="120.1" y1="166.1" x2="196.4" y2="121"><stop offset="0" stop-color="#1ac637"/><stop offset="0.111" stop-color="#18cc32"/><stop offset="0.22" stop-color="#16d02e"/><stop offset="0.325" stop-color="#14d42a"/><stop offset="0.428" stop-color="#13d727"/><stop offset="0.528" stop-color="#12d925"/><stop offset="0.627" stop-color="#11da24"/><stop offset="0.723" stop-color="#11da24"/><stop offset="0.817" stop-color="#11da24"/><stop offset="0.909" stop-color="#12d826"/><stop offset="1" stop-color="#13d628"/></linearGradient><linearGradient id="sa87" gradientUnits="userSpaceOnUse" x1="121.2" y1="167.6" x2="197.3" y2="122.2"><stop offset="0" stop-color="#18cb32"/><stop offset="0.112" stop-color="#16d02e"/><stop offset="0.221" stop-color="#14d42a"/><stop offset="0.327" stop-color="#12d727"/><stop offset="0.43" stop-color="#11da24"/><stop offset="0.531" stop-color="#10dc22"/><stop offset="0.629" stop-color="#10dd21"/><stop offset="0.725" stop-color="#10dd21"/><stop offset="0.818" stop-color="#10dd21"/><stop offset="0.91" stop-color="#10dc22"/><stop offset="1" stop-color="#11db23"/></linearGradient><linearGradient id="sa88" gradientUnits="userSpaceOnUse" x1="122.3" y1="169.1" x2="198.3" y2="123.5"><stop offset="0" stop-color="#16d02d"/><stop offset="0.113" stop-color="#14d42a"/><stop offset="0.222" stop-color="#12d826"/><stop offset="0.328" stop-color="#11db23"/><stop offset="0.432" stop-color="#10dd21"/><stop offset="0.533" stop-color="#0fdf1f"/><stop offset="0.631" stop-color="#0ee01e"/><stop offset="0.726" stop-color="#0ee11d"/><stop offset="0.82" stop-color="#0ee11d"/><stop offset="0.911" stop-color="#0ee11e"/><stop offset="1" stop-color="#0ee01e"/></linearGradient><linearGradient id="sa89" gradientUnits="userSpaceOnUse" x1="123.4" y1="170.6" x2="199.3" y2="124.7"><stop offset="0" stop-color="#13d529"/><stop offset="0.113" stop-color="#12d825"/><stop offset="0.223" stop-color="#10db23"/><stop offset="0.33" stop-color="#0fde20"/><stop offset="0.434" stop-color="#0ee01e"/><stop offset="0.534" stop-color="#0de21c"/><stop offset="0.632" stop-color="#0de31b"/><stop offset="0.728" stop-color="#0ce41a"/><stop offset="0.821" stop-color="#0ce51a"/><stop offset="0.911" stop-color="#0ce51a"/><stop offset="1" stop-color="#0ce41a"/></linearGradient><linearGradient id="sa90" gradientUnits="userSpaceOnUse" x1="124.5" y1="172" x2="200.2" y2="125.8"><stop offset="0" stop-color="#11da24"/><stop offset="0.114" stop-color="#10dd21"/><stop offset="0.224" stop-color="#0fdf1f"/><stop offset="0.331" stop-color="#0ee21d"/><stop offset="0.435" stop-color="#0de41b"/><stop offset="0.536" stop-color="#0ce519"/><stop offset="0.634" stop-color="#0be718"/><stop offset="0.729" stop-color="#0be817"/><stop offset="0.822" stop-color="#0be816"/><stop offset="0.912" stop-color="#0ae916"/><stop offset="1" stop-color="#0ae916"/></linearGradient><linearGradient id="sa91" gradientUnits="userSpaceOnUse" x1="125.6" y1="173.5" x2="201.2" y2="127"><stop offset="0" stop-color="#0fde20"/><stop offset="0.114" stop-color="#0ee11d"/><stop offset="0.225" stop-color="#0de31b"/><stop offset="0.332" stop-color="#0ce519"/><stop offset="0.436" stop-color="#0be717"/><stop offset="0.537" stop-color="#0ae916"/><stop offset="0.635" stop-color="#0aea14"/><stop offset="0.73" stop-color="#09eb13"/><stop offset="0.823" stop-color="#09ec13"/><stop offset="0.913" stop-color="#08ed12"/><stop offset="1" stop-color="#08ed11"/></linearGradient><linearGradient id="sa92" gradientUnits="userSpaceOnUse" x1="126.7" y1="174.9" x2="202.2" y2="128.1"><stop offset="0" stop-color="#0de31b"/><stop offset="0.115" stop-color="#0ce519"/><stop offset="0.226" stop-color="#0be717"/><stop offset="0.333" stop-color="#0ae916"/><stop offset="0.437" stop-color="#09ea14"/><stop offset="0.538" stop-color="#09ec12"/><stop offset="0.636" stop-color="#08ed11"/><stop offset="0.731" stop-color="#08ef10"/><stop offset="0.823" stop-color="#07f00f"/><stop offset="0.913" stop-color="#07f10e"/><stop offset="1" stop-color="#06f10d"/></linearGradient><linearGradient id="sa93" gradientUnits="userSpaceOnUse" x1="127.8" y1="176.3" x2="203.2" y2="129.2"><stop offset="0" stop-color="#0be717"/><stop offset="0.115" stop-color="#0ae915"/><stop offset="0.226" stop-color="#09eb14"/><stop offset="0.334" stop-color="#09ed12"/><stop offset="0.438" stop-color="#08ee10"/><stop offset="0.539" stop-color="#07ef0f"/><stop offset="0.637" stop-color="#07f10e"/><stop offset="0.732" stop-color="#06f20d"/><stop offset="0.824" stop-color="#05f30b"/><stop offset="0.913" stop-color="#05f40a"/><stop offset="1" stop-color="#04f509"/></linearGradient><linearGradient id="sa94" gradientUnits="userSpaceOnUse" x1="128.9" y1="177.7" x2="204.2" y2="130.3"><stop offset="0" stop-color="#09ec13"/><stop offset="0.115" stop-color="#08ed11"/><stop offset="0.227" stop-color="#07ef10"/><stop offset="0.335" stop-color="#07f00e"/><stop offset="0.439" stop-color="#06f20d"/><stop offset="0.54" stop-color="#06f30c"/><stop offset="0.638" stop-color="#05f40a"/><stop offset="0.732" stop-color="#04f609"/><stop offset="0.824" stop-color="#04f708"/><stop offset="0.913" stop-color="#03f807"/><stop offset="1" stop-color="#03f905"/></linearGradient><linearGradient id="sa95" gradientUnits="userSpaceOnUse" x1="130" y1="179.1" x2="205.1" y2="131.4"><stop offset="0" stop-color="#07f00f"/><stop offset="0.116" stop-color="#06f10d"/><stop offset="0.227" stop-color="#06f30c"/><stop offset="0.335" stop-color="#05f40b"/><stop offset="0.439" stop-color="#04f509"/><stop offset="0.54" stop-color="#04f708"/><stop offset="0.638" stop-color="#03f807"/><stop offset="0.733" stop-color="#03f906"/><stop offset="0.825" stop-color="#02fb04"/><stop offset="0.914" stop-color="#01fc03"/><stop offset="1" stop-color="#01fd02"/></linearGradient></defs>
<g stroke-width="0.8" stroke-linejoin="round"><path d="M30.8,50.5 40.6,47.5 50.1,44.3 59.3,41 68.2,37.4 76.8,33.7 85.2,29.8 93.3,25.7 101.2,21.5 108.9,17.2 116.4,12.6 117.3,15.7 109.8,19.5 102.1,23.3 94.2,27 86.1,30.7 77.7,34.4 69.1,38 60.2,41.6 51.1,45.1 41.6,48.6 31.8,52.1Z" fill="url(#sa0)" stroke="url(#sa0)"/><path d="M31.8,52.1 41.6,48.6 51.1,45.1 60.2,41.6 69.1,38 77.7,34.4 86.1,30.7 94.2,27 102.1,23.3 109.8,19.5 117.3,15.7 118.2,18.6 110.7,21.8 103,25.1 95.1,28.4 87,31.7 78.7,35.2 70,38.7 61.2,42.3 52,46 42.6,49.8 32.8,53.7Z" fill="url(#sa1)" stroke="url(#sa1)"/><path d="M32.8,53.7 42.6,49.8 52,46 61.2,42.3 70,38.7 78.7,35.2 87,31.7 95.1,28.4 103,25.1 110.7,21.8 118.2,18.6 119.1,21.4 111.6,24 104,26.8 96.1,29.7 87.9,32.8 79.6,36.1 71,39.5 62.1,43.2 53,47.1 43.5,51.1 33.8,55.4Z" fill="url(#sa2)" stroke="url(#sa2)"/><path d="M33.8,55.4 43.5,51.1 53,47.1 62.1,43.2 71,39.5 79.6,36.1 87.9,32.8 96.1,29.7 104,26.8 111.6,24 119.1,21.4 120,24.1 112.5,26.1 104.9,28.5 97,31.1 88.9,33.9 80.5,37 71.9,40.4 63,44.1 53.9,48.2 44.5,52.5 34.9,57.2Z" fill="url(#sa3)" stroke="url(#sa3)"/><path d="M34.9,57.2 44.5,52.5 53.9,48.2 63,44.1 71.9,40.4 80.5,37 88.9,33.9 97,31.1 104.9,28.5 112.5,26.1 120,24.1 120.9,26.5 113.4,28.2 105.8,30.1 97.9,32.4 89.8,35 81.4,38.1 72.8,41.4 64,45.2 54.9,49.4 45.5,54 35.9,59Z" fill="url(#sa4)" stroke="url(#sa4)"/><path d="M35.9,59 45.5,54 54.9,49.4 64,45.2 72.8,41.4 81.4,38.1 89.8,35 97.9,32.4 105.8,30.1 113.4,28.2 120.9,26.5 121.8,28.8 114.4,30.1 106.7,31.7 98.8,33.8 90.7,36.2 82.4,39.1 73.8,42.5 64.9,46.3 55.8,50.7 46.5,55.5 36.9,60.9Z" fill="url(#sa5)" stroke="url(#sa5)"/><path d="M36.9,60.9 46.5,55.5 55.8,50.7 64.9,46.3 73.8,42.5 82.4,39.1 90.7,36.2 98.8,33.8 106.7,31.7 114.4,30.1 121.8,28.8 122.7,30.9 115.3,31.9 107.6,33.2 99.8,35.1 91.7,37.4 83.3,40.3 74.7,43.6 65.9,47.6 56.8,52.1 47.5,57.2 38,62.9Z" fill="url(#sa6)" stroke="url(#sa6)"/><path d="M38,62.9 47.5,57.2 56.8,52.1 65.9,47.6 74.7,43.6 83.3,40.3 91.7,37.4 99.8,35.1 107.6,33.2 115.3,31.9 122.7,30.9 123.6,32.8 116.2,33.5 108.5,34.6 100.7,36.3 92.6,38.6 84.2,41.4 75.7,44.9 66.9,48.9 57.8,53.6 48.5,59 39,65Z" fill="url(#sa7)" stroke="url(#sa7)"/><path d="M39,65 48.5,59 57.8,53.6 66.9,48.9 75.7,44.9 84.2,41.4 92.6,38.6 100.7,36.3 108.5,34.6 116.2,33.5 123.6,32.8 124.5,34.5 117.1,35 109.5,36 101.6,37.6 93.5,39.8 85.2,42.7 76.6,46.2 67.8,50.3 58.8,55.2 49.5,60.8 40.1,67.2Z" fill="url(#sa8)" stroke="url(#sa8)"/><path d="M40.1,67.2 49.5,60.8 58.8,55.2 67.8,50.3 76.6,46.2 85.2,42.7 93.5,39.8 101.6,37.6 109.5,36 117.1,35 124.5,34.5 125.3,36.1 118,36.4 110.4,37.3 102.5,38.9 94.5,41 86.1,43.9 77.6,47.5 68.8,51.8 59.8,56.8 50.6,62.7 41.1,69.4Z" fill="url(#sa9)" stroke="url(#sa9)"/><path d="M41.1,69.4 50.6,62.7 59.8,56.8 68.8,51.8 77.6,47.5 86.1,43.9 94.5,41 102.5,38.9 110.4,37.3 118,36.4 125.3,36.1 126.2,37.9 118.9,38 111.3,38.8 103.5,40.3 95.4,42.5 87.1,45.3 78.6,49 69.8,53.3 60.8,58.5 51.6,64.6 42.2,71.5Z" fill="url(#sa10)" stroke="url(#sa10)"/><path d="M42.2,71.5 51.6,64.6 60.8,58.5 69.8,53.3 78.6,49 87.1,45.3 95.4,42.5 103.5,40.3 111.3,38.8 118.9,38 126.2,37.9 127.1,39.8 119.8,39.9 112.2,40.6 104.4,41.9 96.3,44.1 88,46.9 79.5,50.6 70.8,55 61.8,60.3 52.6,66.5 43.2,73.5Z" fill="url(#sa11)" stroke="url(#sa11)"/><path d="M43.2,73.5 52.6,66.5 61.8,60.3 70.8,55 79.5,50.6 88,46.9 96.3,44.1 104.4,41.9 112.2,40.6 119.8,39.9 127.1,39.8 128,42.1 120.7,41.9 113.1,42.5 105.3,43.8 97.3,45.8 89,48.6 80.5,52.2 71.8,56.7 62.8,62.1 53.6,68.4 44.3,75.6Z" fill="url(#sa12)" stroke="url(#sa12)"/><path d="M44.3,75.6 53.6,68.4 62.8,62.1 71.8,56.7 80.5,52.2 89,48.6 97.3,45.8 105.3,43.8 113.1,42.5 120.7,41.9 128,42.1 128.9,44.6 121.6,44.2 114.1,44.6 106.3,45.7 98.2,47.6 90,50.4 81.5,54 72.7,58.5 63.8,63.9 54.6,70.3 45.3,77.6Z" fill="url(#sa13)" stroke="url(#sa13)"/><path d="M45.3,77.6 54.6,70.3 63.8,63.9 72.7,58.5 81.5,54 90,50.4 98.2,47.6 106.3,45.7 114.1,44.6 121.6,44.2 128.9,44.6 129.8,47.2 122.5,46.6 115,46.7 107.2,47.7 99.2,49.5 90.9,52.1 82.4,55.7 73.7,60.2 64.8,65.7 55.7,72.1 46.3,79.6Z" fill="url(#sa14)" stroke="url(#sa14)"/><path d="M46.3,79.6 55.7,72.1 64.8,65.7 73.7,60.2 82.4,55.7 90.9,52.1 99.2,49.5 107.2,47.7 115,46.7 122.5,46.6 129.8,47.2 130.7,49.6 123.4,48.8 115.9,48.8 108.2,49.6 100.1,51.3 91.9,53.8 83.4,57.4 74.7,61.9 65.8,67.4 56.7,74 47.4,81.6Z" fill="url(#sa15)" stroke="url(#sa15)"/><path d="M47.4,81.6 56.7,74 65.8,67.4 74.7,61.9 83.4,57.4 91.9,53.8 100.1,51.3 108.2,49.6 115.9,48.8 123.4,48.8 130.7,49.6 131.6,51.9 124.3,50.9 116.8,50.7 109.1,51.4 101.1,53 92.9,55.5 84.4,59 75.7,63.5 66.8,69.1 57.7,75.8 48.4,83.6Z" fill="url(#sa16)" stroke="url(#sa16)"/><path d="M48.4,83.6 57.7,75.8 66.8,69.1 75.7,63.5 84.4,59 92.9,55.5 101.1,53 109.1,51.4 116.8,50.7 124.3,50.9 131.6,51.9 132.5,54.2 125.2,53 117.8,52.6 110,53.1 102,54.6 93.8,57.1 85.4,60.6 76.7,65.1 67.8,70.8 58.7,77.6 49.5,85.6Z" fill="url(#sa17)" stroke="url(#sa17)"/><path d="M49.5,85.6 58.7,77.6 67.8,70.8 76.7,65.1 85.4,60.6 93.8,57.1 102,54.6 110,53.1 117.8,52.6 125.2,53 132.5,54.2 133.3,56.4 126.1,54.9 118.7,54.4 111,54.8 103,56.2 94.8,58.6 86.3,62.1 77.7,66.7 68.8,72.5 59.7,79.4 50.5,87.6Z" fill="url(#sa18)" stroke="url(#sa18)"/><path d="M50.5,87.6 59.7,79.4 68.8,72.5 77.7,66.7 86.3,62.1 94.8,58.6 103,56.2 111,54.8 118.7,54.4 126.1,54.9 133.3,56.4 134.2,58.5 127,56.9 119.6,56.2 111.9,56.5 103.9,57.7 95.7,60.1 87.3,63.6 78.7,68.2 69.8,74.1 60.8,81.1 51.5,89.5Z" fill="url(#sa19)" stroke="url(#sa19)"/><path d="M51.5,89.5 60.8,81.1 69.8,74.1 78.7,68.2 87.3,63.6 95.7,60.1 103.9,57.7 111.9,56.5 119.6,56.2 127,56.9 134.2,58.5 135.1,60.6 127.9,58.8 120.5,57.9 112.8,58.1 104.9,59.3 96.7,61.6 88.3,65.1 79.6,69.7 70.8,75.6 61.8,82.8 52.6,91.3Z" fill="url(#sa20)" stroke="url(#sa20)"/><path d="M52.6,91.3 61.8,82.8 70.8,75.6 79.6,69.7 88.3,65.1 96.7,61.6 104.9,59.3 112.8,58.1 120.5,57.9 127.9,58.8 135.1,60.6 136,62.7 128.9,60.7 121.4,59.7 113.8,59.7 105.8,60.9 97.7,63.1 89.2,66.5 80.6,71.2 71.8,77.1 62.8,84.4 53.6,93Z" fill="url(#sa21)" stroke="url(#sa21)"/><path d="M53.6,93 62.8,84.4 71.8,77.1 80.6,71.2 89.2,66.5 97.7,63.1 105.8,60.9 113.8,59.7 121.4,59.7 128.9,60.7 136,62.7 136.9,64.8 129.8,62.6 122.4,61.5 114.7,61.4 106.8,62.4 98.6,64.6 90.2,68 81.6,72.6 72.8,78.6 63.8,85.9 54.6,94.6Z" fill="url(#sa22)" stroke="url(#sa22)"/><path d="M54.6,94.6 63.8,85.9 72.8,78.6 81.6,72.6 90.2,68 98.6,64.6 106.8,62.4 114.7,61.4 122.4,61.5 129.8,62.6 136.9,64.8 137.8,66.8 130.7,64.5 123.3,63.2 115.6,63 107.7,63.9 99.6,66 91.2,69.4 82.6,74 73.8,80 64.8,87.4 55.6,96.2Z" fill="url(#sa23)" stroke="url(#sa23)"/><path d="M55.6,96.2 64.8,87.4 73.8,80 82.6,74 91.2,69.4 99.6,66 107.7,63.9 115.6,63 123.3,63.2 130.7,64.5 137.8,66.8 138.6,68.7 131.6,66.3 124.2,64.9 116.6,64.6 108.7,65.4 100.5,67.5 92.2,70.8 83.6,75.5 74.8,81.5 65.8,88.9 56.6,97.7Z" fill="url(#sa24)" stroke="url(#sa24)"/><path d="M56.6,97.7 65.8,88.9 74.8,81.5 83.6,75.5 92.2,70.8 100.5,67.5 108.7,65.4 116.6,64.6 124.2,64.9 131.6,66.3 138.6,68.7 139.5,70.4 132.5,67.9 125.1,66.4 117.5,66.1 109.6,66.9 101.5,68.9 93.1,72.2 84.5,76.9 75.7,82.9 66.8,90.3 57.6,99.1Z" fill="url(#sa25)" stroke="url(#sa25)"/><path d="M57.6,99.1 66.8,90.3 75.7,82.9 84.5,76.9 93.1,72.2 101.5,68.9 109.6,66.9 117.5,66.1 125.1,66.4 132.5,67.9 139.5,70.4 140.4,71.8 133.4,69.3 126,67.9 118.4,67.5 110.6,68.3 102.5,70.3 94.1,73.6 85.5,78.3 76.7,84.2 67.8,91.6 58.6,100.5Z" fill="url(#sa26)" stroke="url(#sa26)"/><path d="M58.6,100.5 67.8,91.6 76.7,84.2 85.5,78.3 94.1,73.6 102.5,70.3 110.6,68.3 118.4,67.5 126,67.9 133.4,69.3 140.4,71.8 141.3,73.3 134.3,70.8 127,69.3 119.4,69 111.5,69.7 103.4,71.7 95.1,75 86.5,79.6 77.7,85.6 68.8,92.9 59.6,101.7Z" fill="url(#sa27)" stroke="url(#sa27)"/><path d="M59.6,101.7 68.8,92.9 77.7,85.6 86.5,79.6 95.1,75 103.4,71.7 111.5,69.7 119.4,69 127,69.3 134.3,70.8 141.3,73.3 142.2,74.7 135.2,72.2 127.9,70.8 120.3,70.4 112.5,71.1 104.4,73.1 96,76.4 87.5,80.9 78.7,86.8 69.7,94.2 60.6,102.9Z" fill="url(#sa28)" stroke="url(#sa28)"/><path d="M60.6,102.9 69.7,94.2 78.7,86.8 87.5,80.9 96,76.4 104.4,73.1 112.5,71.1 120.3,70.4 127.9,70.8 135.2,72.2 142.2,74.7 143.1,75.9 136.1,73.5 128.8,72.1 121.2,71.7 113.4,72.5 105.3,74.5 97,77.7 88.5,82.3 79.7,88.1 70.7,95.4 61.6,104Z" fill="url(#sa29)" stroke="url(#sa29)"/><path d="M61.6,104 70.7,95.4 79.7,88.1 88.5,82.3 97,77.7 105.3,74.5 113.4,72.5 121.2,71.7 128.8,72.1 136.1,73.5 143.1,75.9 144,76.8 137,74.5 129.7,73.2 122.2,73 114.4,73.8 106.3,75.9 98,79.1 89.4,83.6 80.7,89.4 71.7,96.6 62.6,105.1Z" fill="url(#sa30)" stroke="url(#sa30)"/><path d="M62.6,105.1 71.7,96.6 80.7,89.4 89.4,83.6 98,79.1 106.3,75.9 114.4,73.8 122.2,73 129.7,73.2 137,74.5 144,76.8 144.9,77.3 137.9,75.2 130.7,74.2 123.1,74.1 115.3,75.1 107.3,77.2 99,80.5 90.4,85 81.7,90.8 72.7,97.8 63.6,106.2Z" fill="url(#sa31)" stroke="url(#sa31)"/><path d="M63.6,106.2 72.7,97.8 81.7,90.8 90.4,85 99,80.5 107.3,77.2 115.3,75.1 123.1,74.1 130.7,74.2 137.9,75.2 144.9,77.3 145.8,77.6 138.8,75.9 131.6,75.1 124.1,75.2 116.3,76.4 108.2,78.6 99.9,81.9 91.4,86.4 82.7,92.1 73.7,99.1 64.6,107.3Z" fill="url(#sa32)" stroke="url(#sa32)"/><path d="M64.6,107.3 73.7,99.1 82.7,92.1 91.4,86.4 99.9,81.9 108.2,78.6 116.3,76.4 124.1,75.2 131.6,75.1 138.8,75.9 145.8,77.6 146.7,78 139.7,76.5 132.5,76 125,76.3 117.2,77.6 109.2,80 100.9,83.3 92.4,87.8 83.7,93.5 74.7,100.3 65.6,108.3Z" fill="url(#sa33)" stroke="url(#sa33)"/><path d="M65.6,108.3 74.7,100.3 83.7,93.5 92.4,87.8 100.9,83.3 109.2,80 117.2,77.6 125,76.3 132.5,76 139.7,76.5 146.7,78 147.6,78.3 140.7,77.2 133.4,76.8 125.9,77.4 118.2,78.9 110.2,81.3 101.9,84.8 93.4,89.3 84.7,94.8 75.7,101.5 66.6,109.4Z" fill="url(#sa34)" stroke="url(#sa34)"/><path d="M66.6,109.4 75.7,101.5 84.7,94.8 93.4,89.3 101.9,84.8 110.2,81.3 118.2,78.9 125.9,77.4 133.4,76.8 140.7,77.2 147.6,78.3 148.6,78.6 141.6,77.8 134.4,77.7 126.9,78.5 119.1,80.2 111.1,82.7 102.9,86.2 94.4,90.7 85.7,96.2 76.7,102.8 67.6,110.4Z" fill="url(#sa35)" stroke="url(#sa35)"/><path d="M67.6,110.4 76.7,102.8 85.7,96.2 94.4,90.7 102.9,86.2 111.1,82.7 119.1,80.2 126.9,78.5 134.4,77.7 141.6,77.8 148.6,78.6 149.5,78.9 142.5,78.4 135.3,78.6 127.8,79.6 120.1,81.4 112.1,84.1 103.9,87.6 95.4,92.1 86.7,97.5 77.7,103.9 68.6,111.4Z" fill="url(#sa36)" stroke="url(#sa36)"/><path d="M68.6,111.4 77.7,103.9 86.7,97.5 95.4,92.1 103.9,87.6 112.1,84.1 120.1,81.4 127.8,79.6 135.3,78.6 142.5,78.4 149.5,78.9 150.4,79.1 143.4,78.9 136.2,79.4 128.8,80.7 121,82.6 113.1,85.4 104.8,89 96.4,93.5 87.7,98.8 78.7,105.1 69.6,112.3Z" fill="url(#sa37)" stroke="url(#sa37)"/><path d="M69.6,112.3 78.7,105.1 87.7,98.8 96.4,93.5 104.8,89 113.1,85.4 121,82.6 128.8,80.7 136.2,79.4 143.4,78.9 150.4,79.1 151.3,79 144.4,79.2 137.2,80.1 129.7,81.6 122,83.8 114,86.8 105.8,90.5 97.4,94.9 88.7,100.2 79.7,106.3 70.5,113.2Z" fill="url(#sa38)" stroke="url(#sa38)"/><path d="M70.5,113.2 79.7,106.3 88.7,100.2 97.4,94.9 105.8,90.5 114,86.8 122,83.8 129.7,81.6 137.2,80.1 144.4,79.2 151.3,79 152.3,78.7 145.3,79.4 138.1,80.7 130.7,82.6 122.9,85 115,88.1 106.8,91.9 98.3,96.3 89.7,101.5 80.7,107.4 71.5,114Z" fill="url(#sa39)" stroke="url(#sa39)"/><path d="M71.5,114 80.7,107.4 89.7,101.5 98.3,96.3 106.8,91.9 115,88.1 122.9,85 130.7,82.6 138.1,80.7 145.3,79.4 152.3,78.7 153.2,78.4 146.3,79.6 139,81.3 131.6,83.5 123.9,86.2 116,89.5 107.8,93.3 99.3,97.8 90.7,102.8 81.7,108.5 72.5,114.9Z" fill="url(#sa40)" stroke="url(#sa40)"/><path d="M72.5,114.9 81.7,108.5 90.7,102.8 99.3,97.8 107.8,93.3 116,89.5 123.9,86.2 131.6,83.5 139,81.3 146.3,79.6 153.2,78.4 154.2,78.1 147.2,79.8 140,81.9 132.5,84.5 124.9,87.4 116.9,90.9 108.8,94.8 100.3,99.2 91.7,104.1 82.7,109.6 73.5,115.7Z" fill="url(#sa41)" stroke="url(#sa41)"/><path d="M73.5,115.7 82.7,109.6 91.7,104.1 100.3,99.2 108.8,94.8 116.9,90.9 124.9,87.4 132.5,84.5 140,81.9 147.2,79.8 154.2,78.1 155.1,78 148.1,80.2 140.9,82.7 133.5,85.5 125.8,88.7 117.9,92.3 109.7,96.2 101.3,100.6 92.7,105.4 83.7,110.7 74.5,116.4Z" fill="url(#sa42)" stroke="url(#sa42)"/><path d="M74.5,116.4 83.7,110.7 92.7,105.4 101.3,100.6 109.7,96.2 117.9,92.3 125.8,88.7 133.5,85.5 140.9,82.7 148.1,80.2 155.1,78 156.1,77.9 149.1,80.6 141.9,83.4 134.4,86.6 126.8,90 118.9,93.7 110.7,97.7 102.3,102.1 93.7,106.8 84.7,111.8 75.5,117.2Z" fill="url(#sa43)" stroke="url(#sa43)"/><path d="M75.5,117.2 84.7,111.8 93.7,106.8 102.3,102.1 110.7,97.7 118.9,93.7 126.8,90 134.4,86.6 141.9,83.4 149.1,80.6 156.1,77.9 157,77.9 150,80.9 142.8,84.2 135.4,87.7 127.7,91.3 119.9,95.2 111.7,99.3 103.3,103.6 94.7,108.1 85.7,112.9 76.5,117.9Z" fill="url(#sa44)" stroke="url(#sa44)"/><path d="M76.5,117.9 85.7,112.9 94.7,108.1 103.3,103.6 111.7,99.3 119.9,95.2 127.7,91.3 135.4,87.7 142.8,84.2 150,80.9 157,77.9 158,77.8 151,81.4 143.8,85.1 136.4,88.9 128.7,92.8 120.8,96.8 112.7,100.9 104.3,105.1 95.7,109.5 86.7,114 77.5,118.6Z" fill="url(#sa45)" stroke="url(#sa45)"/><path d="M77.5,118.6 86.7,114 95.7,109.5 104.3,105.1 112.7,100.9 120.8,96.8 128.7,92.8 136.4,88.9 143.8,85.1 151,81.4 158,77.8 158.9,78 151.9,82 144.7,86.1 137.3,90.2 129.7,94.3 121.8,98.4 113.7,102.5 105.3,106.7 96.7,110.9 87.8,115.1 78.5,119.3Z" fill="url(#sa46)" stroke="url(#sa46)"/><path d="M78.5,119.3 87.8,115.1 96.7,110.9 105.3,106.7 113.7,102.5 121.8,98.4 129.7,94.3 137.3,90.2 144.7,86.1 151.9,82 158.9,78 159.9,78.3 152.9,82.8 145.7,87.2 138.3,91.6 130.6,95.9 122.8,100.1 114.7,104.2 106.3,108.3 97.7,112.3 88.8,116.1 79.5,119.9Z" fill="url(#sa47)" stroke="url(#sa47)"/><path d="M79.5,119.9 88.8,116.1 97.7,112.3 106.3,108.3 114.7,104.2 122.8,100.1 130.6,95.9 138.3,91.6 145.7,87.2 152.9,82.8 159.9,78.3 160.8,78.8 153.8,83.7 146.6,88.5 139.2,93.1 131.6,97.5 123.8,101.8 115.7,105.9 107.3,109.9 98.7,113.6 89.8,117.2 80.5,120.6Z" fill="url(#sa48)" stroke="url(#sa48)"/><path d="M80.5,120.6 89.8,117.2 98.7,113.6 107.3,109.9 115.7,105.9 123.8,101.8 131.6,97.5 139.2,93.1 146.6,88.5 153.8,83.7 160.8,78.8 161.8,79.5 154.7,84.8 147.5,89.8 140.2,94.7 132.6,99.2 124.7,103.5 116.7,107.6 108.3,111.4 99.7,115 90.8,118.2 81.5,121.2Z" fill="url(#sa49)" stroke="url(#sa49)"/><path d="M81.5,121.2 90.8,118.2 99.7,115 108.3,111.4 116.7,107.6 124.7,103.5 132.6,99.2 140.2,94.7 147.5,89.8 154.7,84.8 161.8,79.5 162.7,80.4 155.7,85.9 148.5,91.2 141.1,96.2 133.5,100.9 125.7,105.2 117.7,109.3 109.3,112.9 100.7,116.2 91.8,119.2 82.5,121.8Z" fill="url(#sa50)" stroke="url(#sa50)"/><path d="M82.5,121.8 91.8,119.2 100.7,116.2 109.3,112.9 117.7,109.3 125.7,105.2 133.5,100.9 141.1,96.2 148.5,91.2 155.7,85.9 162.7,80.4 163.6,81.2 156.6,87.1 149.4,92.6 142.1,97.8 134.5,102.5 126.7,106.9 118.7,110.8 110.3,114.4 101.7,117.5 92.8,120.2 83.5,122.3Z" fill="url(#sa51)" stroke="url(#sa51)"/><path d="M83.5,122.3 92.8,120.2 101.7,117.5 110.3,114.4 118.7,110.8 126.7,106.9 134.5,102.5 142.1,97.8 149.4,92.6 156.6,87.1 163.6,81.2 164.6,82.1 157.6,88.2 150.4,94 143,99.2 135.5,104.1 127.7,108.4 119.6,112.4 111.3,115.8 102.7,118.7 93.8,121.1 84.5,122.9Z" fill="url(#sa52)" stroke="url(#sa52)"/><path d="M84.5,122.9 93.8,121.1 102.7,118.7 111.3,115.8 119.6,112.4 127.7,108.4 135.5,104.1 143,99.2 150.4,94 157.6,88.2 164.6,82.1 165.5,83 158.5,89.4 151.3,95.3 144,100.7 136.4,105.6 128.6,110 120.6,113.8 112.3,117.1 103.8,119.9 94.8,122 85.5,123.5Z" fill="url(#sa53)" stroke="url(#sa53)"/><path d="M85.5,123.5 94.8,122 103.8,119.9 112.3,117.1 120.6,113.8 128.6,110 136.4,105.6 144,100.7 151.3,95.3 158.5,89.4 165.5,83 166.5,84 159.4,90.6 152.3,96.6 144.9,102.1 137.4,107.1 129.6,111.4 121.6,115.2 113.4,118.4 104.8,121 95.9,122.9 86.6,124.1Z" fill="url(#sa54)" stroke="url(#sa54)"/><path d="M86.6,124.1 95.9,122.9 104.8,121 113.4,118.4 121.6,115.2 129.6,111.4 137.4,107.1 144.9,102.1 152.3,96.6 159.4,90.6 166.5,84 167.4,85.1 160.4,91.8 153.2,98 145.9,103.5 138.4,108.5 130.6,112.9 122.6,116.6 114.4,119.7 105.8,122.1 96.9,123.8 87.6,124.8Z" fill="url(#sa55)" stroke="url(#sa55)"/><path d="M87.6,124.8 96.9,123.8 105.8,122.1 114.4,119.7 122.6,116.6 130.6,112.9 138.4,108.5 145.9,103.5 153.2,98 160.4,91.8 167.4,85.1 168.3,86.2 161.3,93 154.2,99.3 146.8,105 139.3,110 131.6,114.3 123.6,118 115.4,121 106.8,123.2 97.9,124.7 88.6,125.4Z" fill="url(#sa56)" stroke="url(#sa56)"/><path d="M88.6,125.4 97.9,124.7 106.8,123.2 115.4,121 123.6,118 131.6,114.3 139.3,110 146.8,105 154.2,99.3 161.3,93 168.3,86.2 169.3,87.3 162.3,94.3 155.1,100.7 147.8,106.4 140.3,111.4 132.6,115.7 124.6,119.4 116.4,122.2 107.8,124.3 98.9,125.6 89.6,126Z" fill="url(#sa57)" stroke="url(#sa57)"/><path d="M89.6,126 98.9,125.6 107.8,124.3 116.4,122.2 124.6,119.4 132.6,115.7 140.3,111.4 147.8,106.4 155.1,100.7 162.3,94.3 169.3,87.3 170.2,88.3 163.2,95.5 156.1,102 148.8,107.7 141.3,112.8 133.6,117.1 125.6,120.7 117.4,123.4 108.8,125.4 99.9,126.5 90.7,126.7Z" fill="url(#sa58)" stroke="url(#sa58)"/><path d="M90.7,126.7 99.9,126.5 108.8,125.4 117.4,123.4 125.6,120.7 133.6,117.1 141.3,112.8 148.8,107.7 156.1,102 163.2,95.5 170.2,88.3 171.2,89.4 164.2,96.7 157,103.2 149.7,109.1 142.2,114.1 134.5,118.4 126.6,122 118.4,124.6 109.9,126.5 101,127.4 91.7,127.4Z" fill="url(#sa59)" stroke="url(#sa59)"/><path d="M91.7,127.4 101,127.4 109.9,126.5 118.4,124.6 126.6,122 134.5,118.4 142.2,114.1 149.7,109.1 157,103.2 164.2,96.7 171.2,89.4 172.1,90.5 165.1,97.9 158,104.5 150.7,110.4 143.2,115.5 135.5,119.7 127.6,123.2 119.4,125.8 110.9,127.5 102,128.3 92.7,128.1Z" fill="url(#sa60)" stroke="url(#sa60)"/><path d="M92.7,128.1 102,128.3 110.9,127.5 119.4,125.8 127.6,123.2 135.5,119.7 143.2,115.5 150.7,110.4 158,104.5 165.1,97.9 172.1,90.5 173,91.6 166.1,99.1 158.9,105.8 151.6,111.7 144.2,116.8 136.5,121.1 128.6,124.5 120.4,127 111.9,128.6 103,129.3 93.8,128.9Z" fill="url(#sa61)" stroke="url(#sa61)"/><path d="M93.8,128.9 103,129.3 111.9,128.6 120.4,127 128.6,124.5 136.5,121.1 144.2,116.8 151.6,111.7 158.9,105.8 166.1,99.1 173,91.6 174,92.7 167,100.2 159.9,107 152.6,113 145.2,118.1 137.5,122.4 129.6,125.8 121.4,128.3 112.9,129.8 104.1,130.3 94.8,129.8Z" fill="url(#sa62)" stroke="url(#sa62)"/><path d="M94.8,129.8 104.1,130.3 112.9,129.8 121.4,128.3 129.6,125.8 137.5,122.4 145.2,118.1 152.6,113 159.9,107 167,100.2 174,92.7 174.9,93.8 168,101.4 160.8,108.2 153.6,114.2 146.1,119.4 138.5,123.7 130.6,127 122.4,129.5 113.9,131 105.1,131.4 95.9,130.8Z" fill="url(#sa63)" stroke="url(#sa63)"/><path d="M95.9,130.8 105.1,131.4 113.9,131 122.4,129.5 130.6,127 138.5,123.7 146.1,119.4 153.6,114.2 160.8,108.2 168,101.4 174.9,93.8 175.9,94.9 168.9,102.5 161.8,109.4 154.5,115.4 147.1,120.6 139.5,124.9 131.6,128.3 123.4,130.7 115,132.1 106.2,132.6 96.9,131.9Z" fill="url(#sa64)" stroke="url(#sa64)"/><path d="M96.9,131.9 106.2,132.6 115,132.1 123.4,130.7 131.6,128.3 139.5,124.9 147.1,120.6 154.5,115.4 161.8,109.4 168.9,102.5 175.9,94.9 176.8,96 169.9,103.6 162.8,110.5 155.5,116.5 148.1,121.7 140.5,126 132.6,129.4 124.5,131.8 116,133.3 107.2,133.7 98,133Z" fill="url(#sa65)" stroke="url(#sa65)"/><path d="M98,133 107.2,133.7 116,133.3 124.5,131.8 132.6,129.4 140.5,126 148.1,121.7 155.5,116.5 162.8,110.5 169.9,103.6 176.8,96 177.8,97.1 170.8,104.7 163.7,111.5 156.5,117.6 149.1,122.7 141.5,127 133.6,130.4 125.5,132.9 117,134.4 108.2,134.9 99,134.2Z" fill="url(#sa66)" stroke="url(#sa66)"/><path d="M99,134.2 108.2,134.9 117,134.4 125.5,132.9 133.6,130.4 141.5,127 149.1,122.7 156.5,117.6 163.7,111.5 170.8,104.7 177.8,97.1 178.7,98.2 171.8,105.7 164.7,112.5 157.5,118.5 150.1,123.6 142.5,127.9 134.6,131.4 126.5,133.9 118.1,135.4 109.3,136 100.1,135.5Z" fill="url(#sa67)" stroke="url(#sa67)"/><path d="M100.1,135.5 109.3,136 118.1,135.4 126.5,133.9 134.6,131.4 142.5,127.9 150.1,123.6 157.5,118.5 164.7,112.5 171.8,105.7 178.7,98.2 179.7,99.3 172.7,106.7 165.7,113.4 158.5,119.3 151.1,124.5 143.5,128.8 135.6,132.2 127.5,134.8 119.1,136.5 110.3,137.2 101.2,136.8Z" fill="url(#sa68)" stroke="url(#sa68)"/><path d="M101.2,136.8 110.3,137.2 119.1,136.5 127.5,134.8 135.6,132.2 143.5,128.8 151.1,124.5 158.5,119.3 165.7,113.4 172.7,106.7 179.7,99.3 180.6,100.4 173.7,107.7 166.7,114.3 159.4,120.2 152.1,125.3 144.5,129.6 136.6,133.1 128.5,135.7 120.1,137.5 111.4,138.4 102.2,138.3Z" fill="url(#sa69)" stroke="url(#sa69)"/><path d="M102.2,138.3 111.4,138.4 120.1,137.5 128.5,135.7 136.6,133.1 144.5,129.6 152.1,125.3 159.4,120.2 166.7,114.3 173.7,107.7 180.6,100.4 181.6,101.5 174.7,108.7 167.6,115.2 160.4,120.9 153,126 145.5,130.3 137.6,133.9 129.6,136.6 121.2,138.6 112.4,139.7 103.3,139.8Z" fill="url(#sa70)" stroke="url(#sa70)"/><path d="M103.3,139.8 112.4,139.7 121.2,138.6 129.6,136.6 137.6,133.9 145.5,130.3 153,126 160.4,120.9 167.6,115.2 174.7,108.7 181.6,101.5 182.5,102.6 175.6,109.6 168.6,116 161.4,121.7 154,126.7 146.5,131.1 138.7,134.7 130.6,137.6 122.2,139.7 113.5,140.9 104.4,141.4Z" fill="url(#sa71)" stroke="url(#sa71)"/><path d="M104.4,141.4 113.5,140.9 122.2,139.7 130.6,137.6 138.7,134.7 146.5,131.1 154,126.7 161.4,121.7 168.6,116 175.6,109.6 182.5,102.6 183.5,103.7 176.6,110.6 169.6,116.8 162.4,122.4 155.1,127.4 147.5,131.8 139.7,135.5 131.6,138.5 123.3,140.7 114.6,142.2 105.5,142.9Z" fill="url(#sa72)" stroke="url(#sa72)"/><path d="M105.5,142.9 114.6,142.2 123.3,140.7 131.6,138.5 139.7,135.5 147.5,131.8 155.1,127.4 162.4,122.4 169.6,116.8 176.6,110.6 183.5,103.7 184.5,104.8 177.6,111.5 170.6,117.6 163.4,123.2 156.1,128.1 148.5,132.5 140.7,136.3 132.6,139.4 124.3,141.8 115.6,143.6 106.6,144.6Z" fill="url(#sa73)" stroke="url(#sa73)"/><path d="M106.6,144.6 115.6,143.6 124.3,141.8 132.6,139.4 140.7,136.3 148.5,132.5 156.1,128.1 163.4,123.2 170.6,117.6 177.6,111.5 184.5,104.8 185.4,105.9 178.6,112.4 171.6,118.4 164.4,123.9 157.1,128.9 149.5,133.3 141.7,137.1 133.7,140.3 125.3,143 116.7,145 107.6,146.3Z" fill="url(#sa74)" stroke="url(#sa74)"/><path d="M107.6,146.3 116.7,145 125.3,143 133.7,140.3 141.7,137.1 149.5,133.3 157.1,128.9 164.4,123.9 171.6,118.4 178.6,112.4 185.4,105.9 186.4,107.1 179.5,113.4 172.6,119.3 165.4,124.7 158.1,129.6 150.5,134 142.7,138 134.7,141.3 126.4,144.2 117.7,146.4 108.7,148Z" fill="url(#sa75)" stroke="url(#sa75)"/><path d="M108.7,148 117.7,146.4 126.4,144.2 134.7,141.3 142.7,138 150.5,134 158.1,129.6 165.4,124.7 172.6,119.3 179.5,113.4 186.4,107.1 187.3,108.2 180.5,114.4 173.5,120.2 166.4,125.5 159.1,130.4 151.5,134.9 143.8,138.9 135.7,142.4 127.4,145.4 118.8,147.9 109.8,149.8Z" fill="url(#sa76)" stroke="url(#sa76)"/><path d="M109.8,149.8 118.8,147.9 127.4,145.4 135.7,142.4 143.8,138.9 151.5,134.9 159.1,130.4 166.4,125.5 173.5,120.2 180.5,114.4 187.3,108.2 188.3,109.4 181.5,115.4 174.5,121.1 167.4,126.4 160.1,131.3 152.6,135.7 144.8,139.8 136.8,143.4 128.5,146.6 119.9,149.4 110.9,151.6Z" fill="url(#sa77)" stroke="url(#sa77)"/><path d="M110.9,151.6 119.9,149.4 128.5,146.6 136.8,143.4 144.8,139.8 152.6,135.7 160.1,131.3 167.4,126.4 174.5,121.1 181.5,115.4 188.3,109.4 189.2,110.7 182.5,116.6 175.5,122.1 168.4,127.3 161.1,132.1 153.6,136.6 145.8,140.7 137.8,144.5 129.5,147.9 120.9,150.8 112,153.4Z" fill="url(#sa78)" stroke="url(#sa78)"/><path d="M112,153.4 120.9,150.8 129.5,147.9 137.8,144.5 145.8,140.7 153.6,136.6 161.1,132.1 168.4,127.3 175.5,122.1 182.5,116.6 189.2,110.7 190.2,112 183.4,117.7 176.5,123.1 169.4,128.2 162.1,133 154.6,137.5 146.9,141.7 138.9,145.6 130.6,149.1 122,152.3 113.1,155.1Z" fill="url(#sa79)" stroke="url(#sa79)"/><path d="M113.1,155.1 122,152.3 130.6,149.1 138.9,145.6 146.9,141.7 154.6,137.5 162.1,133 169.4,128.2 176.5,123.1 183.4,117.7 190.2,112 191.1,113.4 184.4,118.9 177.5,124.2 170.4,129.2 163.1,133.9 155.6,138.4 147.9,142.7 139.9,146.7 131.6,150.4 123.1,153.8 114.2,156.9Z" fill="url(#sa80)" stroke="url(#sa80)"/><path d="M114.2,156.9 123.1,153.8 131.6,150.4 139.9,146.7 147.9,142.7 155.6,138.4 163.1,133.9 170.4,129.2 177.5,124.2 184.4,118.9 191.1,113.4 192.1,114.8 185.4,120.1 178.5,125.2 171.4,130.1 164.1,134.8 156.7,139.4 148.9,143.7 140.9,147.7 132.7,151.6 124.1,155.3 115.2,158.7Z" fill="url(#sa81)" stroke="url(#sa81)"/><path d="M115.2,158.7 124.1,155.3 132.7,151.6 140.9,147.7 148.9,143.7 156.7,139.4 164.1,134.8 171.4,130.1 178.5,125.2 185.4,120.1 192.1,114.8 193,116.3 186.3,121.4 179.5,126.3 172.4,131.1 165.2,135.8 157.7,140.3 150,144.6 142,148.8 133.7,152.9 125.2,156.7 116.3,160.4Z" fill="url(#sa82)" stroke="url(#sa82)"/><path d="M116.3,160.4 125.2,156.7 133.7,152.9 142,148.8 150,144.6 157.7,140.3 165.2,135.8 172.4,131.1 179.5,126.3 186.3,121.4 193,116.3 194,117.7 187.3,122.6 180.5,127.4 173.4,132.1 166.2,136.7 158.7,141.3 151,145.7 143,149.9 134.8,154.1 126.3,158.2 117.4,162.1Z" fill="url(#sa83)" stroke="url(#sa83)"/><path d="M117.4,162.1 126.3,158.2 134.8,154.1 143,149.9 151,145.7 158.7,141.3 166.2,136.7 173.4,132.1 180.5,127.4 187.3,122.6 194,117.7 194.9,119.1 188.3,123.8 181.5,128.5 174.4,133.2 167.2,137.7 159.7,142.2 152,146.7 144.1,151 135.9,155.3 127.3,159.6 118.5,163.7Z" fill="url(#sa84)" stroke="url(#sa84)"/><path d="M118.5,163.7 127.3,159.6 135.9,155.3 144.1,151 152,146.7 159.7,142.2 167.2,137.7 174.4,133.2 181.5,128.5 188.3,123.8 194.9,119.1 195.9,120.4 189.3,125 182.5,129.6 175.4,134.2 168.2,138.7 160.8,143.2 153.1,147.7 145.1,152.1 136.9,156.5 128.4,160.9 119.6,165.3Z" fill="url(#sa85)" stroke="url(#sa85)"/><path d="M119.6,165.3 128.4,160.9 136.9,156.5 145.1,152.1 153.1,147.7 160.8,143.2 168.2,138.7 175.4,134.2 182.5,129.6 189.3,125 195.9,120.4 196.9,121.6 190.2,126.2 183.4,130.7 176.4,135.2 169.2,139.7 161.8,144.2 154.1,148.7 146.2,153.2 138,157.8 129.5,162.3 120.7,166.8Z" fill="url(#sa86)" stroke="url(#sa86)"/><path d="M120.7,166.8 129.5,162.3 138,157.8 146.2,153.2 154.1,148.7 161.8,144.2 169.2,139.7 176.4,135.2 183.4,130.7 190.2,126.2 196.9,121.6 197.8,122.9 191.2,127.3 184.4,131.7 177.5,136.2 170.3,140.7 162.8,145.2 155.2,149.8 147.2,154.4 139,159 130.6,163.6 121.8,168.4Z" fill="url(#sa87)" stroke="url(#sa87)"/><path d="M121.8,168.4 130.6,163.6 139,159 147.2,154.4 155.2,149.8 162.8,145.2 170.3,140.7 177.5,136.2 184.4,131.7 191.2,127.3 197.8,122.9 198.8,124.1 192.2,128.4 185.4,132.8 178.5,137.2 171.3,141.7 163.9,146.2 156.2,150.8 148.3,155.5 140.1,160.2 131.6,165 122.9,169.8Z" fill="url(#sa88)" stroke="url(#sa88)"/><path d="M122.9,169.8 131.6,165 140.1,160.2 148.3,155.5 156.2,150.8 163.9,146.2 171.3,141.7 178.5,137.2 185.4,132.8 192.2,128.4 198.8,124.1 199.8,125.2 193.2,129.5 186.4,133.9 179.5,138.3 172.3,142.7 164.9,147.3 157.3,151.9 149.4,156.6 141.2,161.4 132.7,166.3 124,171.3Z" fill="url(#sa89)" stroke="url(#sa89)"/><path d="M124,171.3 132.7,166.3 141.2,161.4 149.4,156.6 157.3,151.9 164.9,147.3 172.3,142.7 179.5,138.3 186.4,133.9 193.2,129.5 199.8,125.2 200.7,126.4 194.2,130.6 187.4,134.9 180.5,139.3 173.3,143.8 165.9,148.4 158.3,153 150.4,157.8 142.2,162.7 133.8,167.7 125.1,172.8Z" fill="url(#sa90)" stroke="url(#sa90)"/><path d="M125.1,172.8 133.8,167.7 142.2,162.7 150.4,157.8 158.3,153 165.9,148.4 173.3,143.8 180.5,139.3 187.4,134.9 194.2,130.6 200.7,126.4 201.7,127.6 195.2,131.7 188.4,136 181.5,140.4 174.4,144.8 167,149.4 159.3,154.1 151.5,158.9 143.3,163.9 134.9,169 126.2,174.2Z" fill="url(#sa91)" stroke="url(#sa91)"/><path d="M126.2,174.2 134.9,169 143.3,163.9 151.5,158.9 159.3,154.1 167,149.4 174.4,144.8 181.5,140.4 188.4,136 195.2,131.7 201.7,127.6 202.7,128.7 196.2,132.8 189.4,137.1 182.5,141.4 175.4,145.9 168,150.5 160.4,155.3 152.5,160.1 144.4,165.1 136,170.3 127.2,175.6Z" fill="url(#sa92)" stroke="url(#sa92)"/><path d="M127.2,175.6 136,170.3 144.4,165.1 152.5,160.1 160.4,155.3 168,150.5 175.4,145.9 182.5,141.4 189.4,137.1 196.2,132.8 202.7,128.7 203.7,129.8 197.2,133.9 190.5,138.1 183.5,142.5 176.4,147 169.1,151.6 161.4,156.4 153.6,161.3 145.5,166.4 137.1,171.6 128.3,177Z" fill="url(#sa93)" stroke="url(#sa93)"/><path d="M128.3,177 137.1,171.6 145.5,166.4 153.6,161.3 161.4,156.4 169.1,151.6 176.4,147 183.5,142.5 190.5,138.1 197.2,133.9 203.7,129.8 204.6,130.8 198.2,135 191.5,139.2 184.6,143.6 177.4,148.1 170.1,152.8 162.5,157.6 154.7,162.5 146.5,167.6 138.1,172.9 129.4,178.4Z" fill="url(#sa94)" stroke="url(#sa94)"/><path d="M129.4,178.4 138.1,172.9 146.5,167.6 154.7,162.5 162.5,157.6 170.1,152.8 177.4,148.1 184.6,143.6 191.5,139.2 198.2,135 204.6,130.8 205.6,131.9 199.1,136 192.5,140.3 185.6,144.7 178.5,149.2 171.1,153.9 163.6,158.7 155.7,163.7 147.6,168.9 139.2,174.2 130.5,179.8Z" fill="url(#sa95)" stroke="url(#sa95)"/></g>
<path d="M29.5,34.6 L38.3,139.3 L130.5,182.4 L205.6,131.9 M38.3,139.3 l-2,0.4 M37.2,127.2 l-2,0.4 M36.2,114.9 l-2,0.4 M35.1,102.3 l-2,0.4 M34.1,89.4 l-2,0.4 M33,76.2 l-2,0.4 M31.8,62.7 l-2,0.4 M30.7,48.8 l-2,0.4 M29.5,34.6 l-2,0.4 M38.3,139.3 l-1.8,1.2 M59,149 l-1.8,1.2 M81.3,159.4 l-1.8,1.2 M105,170.5 l-1.8,1.2 M130.5,182.4 l-1.8,1.2 M48.5,144.1 l-1,0.7 M70,154.1 l-1,0.7 M92.9,164.8 l-1,0.7 M117.6,176.3 l-1,0.7 M130.5,182.4 l2,0.9 M171.1,155.1 l2,0.9 M205.6,131.9 l2,0.9 M151.7,168.2 l1.1,0.5 M189,143.1 l1.1,0.5" fill="none" stroke="#444" stroke-width="0.55"/>
<text transform="translate(34.3 129.5) rotate(-22)" font-size="4.5" text-anchor="end" fill="#333">10</text>
<text transform="translate(33.3 117.2) rotate(-22)" font-size="4.5" text-anchor="end" fill="#333">20</text>
<text transform="translate(32.2 104.6) rotate(-22)" font-size="4.5" text-anchor="end" fill="#333">30</text>
<text transform="translate(31.2 91.7) rotate(-22)" font-size="4.5" text-anchor="end" fill="#333">40</text>
<text transform="translate(30.1 78.5) rotate(-22)" font-size="4.5" text-anchor="end" fill="#333">50</text>
<text transform="translate(28.9 65) rotate(-22)" font-size="4.5" text-anchor="end" fill="#333">60</text>
<text transform="translate(27.8 51.1) rotate(-22)" font-size="4.5" text-anchor="end" fill="#333">70</text>
<text transform="translate(26.6 36.9) rotate(-22)" font-size="4.5" text-anchor="end" fill="#333">80</text>
<text transform="translate(25.5 91.9) rotate(-94)" font-size="5.1" font-weight="bold" text-anchor="middle" fill="#222">Oxygenated Compounds (%)</text>
<text transform="matrix(0.891 -0.454 0.600 0.660 35.353 140.979)" font-size="4.6" text-anchor="end" fill="#333">Oak</text>
<text transform="matrix(0.891 -0.454 0.600 0.660 56.143 150.694)" font-size="4.6" text-anchor="end" fill="#333">2Oak:HDPE</text>
<text transform="matrix(0.891 -0.454 0.600 0.660 78.350 161.071)" font-size="4.6" text-anchor="end" fill="#333">Oak:HDPE</text>
<text transform="matrix(0.891 -0.454 0.600 0.660 102.125 172.180)" font-size="4.6" text-anchor="end" fill="#333">Oak:2HDPE</text>
<text transform="matrix(0.891 -0.454 0.600 0.660 127.639 184.102)" font-size="4.6" text-anchor="end" fill="#333">HDPE</text>
<text transform="matrix(0.891 0.454 -0.720 0.500 51.650 177.371)" font-size="5.2" text-anchor="middle" font-weight="bold" stroke="#222" stroke-width="0.12" fill="#222">Biomass:Plastic ratio</text>
<text transform="matrix(0.940 0.342 -0.600 0.620 133.539 186.202)" font-size="4.6" fill="#333">100</text>
<text transform="matrix(0.940 0.342 -0.600 0.620 174.082 158.932)" font-size="4.6" fill="#333">150</text>
<text transform="matrix(0.940 0.342 -0.600 0.620 208.628 135.695)" font-size="4.6" fill="#333">200</text>
<text transform="matrix(0.785 -0.479 0.640 0.660 186.682 164.132)" font-size="5.0" text-anchor="middle" font-weight="bold" stroke="#222" stroke-width="0.12" fill="#222">H<tspan font-size="3.4" dy="1">2</tspan><tspan dy="-1"> Pressure (psi)</tspan></text>
<text x="187.6" y="13" font-size="7" fill="#222">Oxygenated Compounds</text>
<defs><linearGradient id="g228" x1="0" y1="0" x2="0" y2="1"><stop offset="0.011" stop-color="#f00"/><stop offset="0.504" stop-color="#7600f8"/><stop offset="0.996" stop-color="#0f0"/></linearGradient></defs>
<rect x="228.1" y="17.6" width="5.8" height="105.9" fill="url(#g228)"/>
<rect x="228.1" y="122.5" width="5.8" height="1.2" fill="#111"/>
<rect x="228.1" y="17.3" width="5.8" height="0.7" fill="#e99"/>
<text x="238.4" y="20.6" font-size="5" fill="#333">79</text>
<text x="238.4" y="31" font-size="5" fill="#333">71</text>
<text x="238.4" y="41.5" font-size="5" fill="#333">64</text>
<text x="238.4" y="51.9" font-size="5" fill="#333">56</text>
<text x="238.4" y="62.3" font-size="5" fill="#333">48</text>
<text x="238.4" y="72.8" font-size="5" fill="#333">40</text>
<text x="238.4" y="83.2" font-size="5" fill="#333">32</text>
<text x="238.4" y="93.6" font-size="5" fill="#333">24</text>
<text x="238.4" y="104" font-size="5" fill="#333">16</text>
<text x="238.4" y="114.5" font-size="5" fill="#333">8</text>
<text x="238.4" y="124.9" font-size="5" fill="#333">0</text>
<path d="M234.2 18.8h1.8M234.2 29.2h1.8M234.2 39.7h1.8M234.2 50.1h1.8M234.2 60.5h1.8M234.2 71h1.8M234.2 81.4h1.8M234.2 91.8h1.8M234.2 102.2h1.8M234.2 112.7h1.8M234.2 123.1h1.8" stroke="#444" stroke-width="0.5" fill="none"/>
<text x="2.5" y="13.8" font-size="11.8" fill="#222" stroke="#222" stroke-width="0.25">(a)</text>
<defs><linearGradient id="ha0" x1="0" y1="0" x2="0" y2="1"><stop offset="0" stop-color="#ed0021"/><stop offset="0.125" stop-color="#e8002a"/><stop offset="0.25" stop-color="#e40032"/><stop offset="0.375" stop-color="#e00038"/><stop offset="0.5" stop-color="#dd003d"/><stop offset="0.625" stop-color="#db0041"/><stop offset="0.75" stop-color="#da0043"/><stop offset="0.875" stop-color="#d90044"/><stop offset="1" stop-color="#d90044"/></linearGradient><linearGradient id="ha1" x1="0" y1="0" x2="0" y2="1"><stop offset="0" stop-color="#e20035"/><stop offset="0.125" stop-color="#e00038"/><stop offset="0.25" stop-color="#de003b"/><stop offset="0.375" stop-color="#dd003e"/><stop offset="0.5" stop-color="#db0041"/><stop offset="0.625" stop-color="#d90044"/><stop offset="0.75" stop-color="#d80047"/><stop offset="0.875" stop-color="#d6004a"/><stop offset="1" stop-color="#d4004d"/></linearGradient><linearGradient id="ha2" x1="0" y1="0" x2="0" y2="1"><stop offset="0" stop-color="#d70048"/><stop offset="0.125" stop-color="#d90045"/><stop offset="0.25" stop-color="#d90044"/><stop offset="0.375" stop-color="#d90044"/><stop offset="0.5" stop-color="#d90046"/><stop offset="0.625" stop-color="#d70048"/><stop offset="0.75" stop-color="#d5004c"/><stop offset="0.875" stop-color="#d20051"/><stop offset="1" stop-color="#cf0057"/></linearGradient><linearGradient id="ha3" x1="0" y1="0" x2="0" y2="1"><stop offset="0" stop-color="#ce0059"/><stop offset="0.125" stop-color="#d20052"/><stop offset="0.25" stop-color="#d4004d"/><stop offset="0.375" stop-color="#d5004b"/><stop offset="0.5" stop-color="#d6004b"/><stop offset="0.625" stop-color="#d4004d"/><stop offset="0.75" stop-color="#d20051"/><stop offset="0.875" stop-color="#ce0058"/><stop offset="1" stop-color="#ca0061"/></linearGradient><linearGradient id="ha4" x1="0" y1="0" x2="0" y2="1"><stop offset="0" stop-color="#c60068"/><stop offset="0.125" stop-color="#cb005d"/><stop offset="0.25" stop-color="#cf0056"/><stop offset="0.375" stop-color="#d20052"/><stop offset="0.5" stop-color="#d20051"/><stop offset="0.625" stop-color="#d10053"/><stop offset="0.75" stop-color="#ce0058"/><stop offset="0.875" stop-color="#ca0060"/><stop offset="1" stop-color="#c4006c"/></linearGradient><linearGradient id="ha5" x1="0" y1="0" x2="0" y2="1"><stop offset="0" stop-color="#bf0074"/><stop offset="0.125" stop-color="#c60067"/><stop offset="0.25" stop-color="#cb005e"/><stop offset="0.375" stop-color="#ce0059"/><stop offset="0.5" stop-color="#cf0057"/><stop offset="0.625" stop-color="#cd005a"/><stop offset="0.75" stop-color="#ca0060"/><stop offset="0.875" stop-color="#c5006a"/><stop offset="1" stop-color="#bd0078"/></linearGradient><linearGradient id="ha6" x1="0" y1="0" x2="0" y2="1"><stop offset="0" stop-color="#b9007f"/><stop offset="0.125" stop-color="#c10070"/><stop offset="0.25" stop-color="#c70066"/><stop offset="0.375" stop-color="#ca0060"/><stop offset="0.5" stop-color="#cb005e"/><stop offset="0.625" stop-color="#c90061"/><stop offset="0.75" stop-color="#c50068"/><stop offset="0.875" stop-color="#bf0074"/><stop offset="1" stop-color="#b60084"/></linearGradient><linearGradient id="ha7" x1="0" y1="0" x2="0" y2="1"><stop offset="0" stop-color="#b2008b"/><stop offset="0.125" stop-color="#bc007a"/><stop offset="0.25" stop-color="#c2006f"/><stop offset="0.375" stop-color="#c60068"/><stop offset="0.5" stop-color="#c70066"/><stop offset="0.625" stop-color="#c50069"/><stop offset="0.75" stop-color="#c00071"/><stop offset="0.875" stop-color="#b9007e"/><stop offset="1" stop-color="#af0090"/></linearGradient><linearGradient id="ha8" x1="0" y1="0" x2="0" y2="1"><stop offset="0" stop-color="#ab0098"/><stop offset="0.125" stop-color="#b50086"/><stop offset="0.25" stop-color="#bc0079"/><stop offset="0.375" stop-color="#c00072"/><stop offset="0.5" stop-color="#c10070"/><stop offset="0.625" stop-color="#c00073"/><stop offset="0.75" stop-color="#bb007b"/><stop offset="0.875" stop-color="#b30089"/><stop offset="1" stop-color="#a9009c"/></linearGradient><linearGradient id="ha9" x1="0" y1="0" x2="0" y2="1"><stop offset="0" stop-color="#a200a9"/><stop offset="0.125" stop-color="#ad0095"/><stop offset="0.25" stop-color="#b50086"/><stop offset="0.375" stop-color="#ba007d"/><stop offset="0.5" stop-color="#bc007a"/><stop offset="0.625" stop-color="#ba007d"/><stop offset="0.75" stop-color="#b50085"/><stop offset="0.875" stop-color="#ae0093"/><stop offset="1" stop-color="#a300a7"/></linearGradient><linearGradient id="ha10" x1="0" y1="0" x2="0" y2="1"><stop offset="0" stop-color="#9800bb"/><stop offset="0.125" stop-color="#a400a4"/><stop offset="0.25" stop-color="#ae0093"/><stop offset="0.375" stop-color="#b30089"/><stop offset="0.5" stop-color="#b60085"/><stop offset="0.625" stop-color="#b50087"/><stop offset="0.75" stop-color="#b0008f"/><stop offset="0.875" stop-color="#a8009e"/><stop offset="1" stop-color="#9c00b3"/></linearGradient><linearGradient id="ha11" x1="0" y1="0" x2="0" y2="1"><stop offset="0" stop-color="#8f00cb"/><stop offset="0.125" stop-color="#9d00b2"/><stop offset="0.25" stop-color="#a7009f"/><stop offset="0.375" stop-color="#ad0094"/><stop offset="0.5" stop-color="#b0008f"/><stop offset="0.625" stop-color="#af0090"/><stop offset="0.75" stop-color="#ab0099"/><stop offset="0.875" stop-color="#a200a8"/><stop offset="1" stop-color="#9600be"/></linearGradient><linearGradient id="ha12" x1="0" y1="0" x2="0" y2="1"><stop offset="0" stop-color="#8600da"/><stop offset="0.125" stop-color="#9600bf"/><stop offset="0.25" stop-color="#a100aa"/><stop offset="0.375" stop-color="#a8009d"/><stop offset="0.5" stop-color="#ab0098"/><stop offset="0.625" stop-color="#a09"/><stop offset="0.75" stop-color="#a600a2"/><stop offset="0.875" stop-color="#9d00b2"/><stop offset="1" stop-color="#9000c9"/></linearGradient><linearGradient id="ha13" x1="0" y1="0" x2="0" y2="1"><stop offset="0" stop-color="#7e00e9"/><stop offset="0.125" stop-color="#8f00cb"/><stop offset="0.25" stop-color="#9b00b5"/><stop offset="0.375" stop-color="#a300a7"/><stop offset="0.5" stop-color="#a600a0"/><stop offset="0.625" stop-color="#a600a2"/><stop offset="0.75" stop-color="#a100ab"/><stop offset="0.875" stop-color="#9700bb"/><stop offset="1" stop-color="#8a00d4"/></linearGradient><linearGradient id="ha14" x1="0" y1="0" x2="0" y2="1"><stop offset="0" stop-color="#7600f7"/><stop offset="0.125" stop-color="#8800d8"/><stop offset="0.25" stop-color="#9500c0"/><stop offset="0.375" stop-color="#9e00b0"/><stop offset="0.5" stop-color="#a200a9"/><stop offset="0.625" stop-color="#a100aa"/><stop offset="0.75" stop-color="#9c00b3"/><stop offset="0.875" stop-color="#9300c4"/><stop offset="1" stop-color="#8500de"/></linearGradient><linearGradient id="ha15" x1="0" y1="0" x2="0" y2="1"><stop offset="0" stop-color="#6f0eea"/><stop offset="0.125" stop-color="#8100e4"/><stop offset="0.25" stop-color="#8f00cb"/><stop offset="0.375" stop-color="#9800ba"/><stop offset="0.5" stop-color="#9d00b2"/><stop offset="0.625" stop-color="#9d00b2"/><stop offset="0.75" stop-color="#9800bb"/><stop offset="0.875" stop-color="#8e00cc"/><stop offset="1" stop-color="#8000e7"/></linearGradient><linearGradient id="ha16" x1="0" y1="0" x2="0" y2="1"><stop offset="0" stop-color="#691cdd"/><stop offset="0.125" stop-color="#7b00f0"/><stop offset="0.25" stop-color="#8900d5"/><stop offset="0.375" stop-color="#9300c3"/><stop offset="0.5" stop-color="#9800ba"/><stop offset="0.625" stop-color="#9800ba"/><stop offset="0.75" stop-color="#9300c3"/><stop offset="0.875" stop-color="#8a00d4"/><stop offset="1" stop-color="#7b00ef"/></linearGradient><linearGradient id="ha17" x1="0" y1="0" x2="0" y2="1"><stop offset="0" stop-color="#6328d1"/><stop offset="0.125" stop-color="#7502f6"/><stop offset="0.25" stop-color="#8400de"/><stop offset="0.375" stop-color="#8e00cc"/><stop offset="0.5" stop-color="#9400c2"/><stop offset="0.625" stop-color="#9400c2"/><stop offset="0.75" stop-color="#8f00ca"/><stop offset="0.875" stop-color="#8600dc"/><stop offset="1" stop-color="#7700f7"/></linearGradient><linearGradient id="ha18" x1="0" y1="0" x2="0" y2="1"><stop offset="0" stop-color="#5f32c7"/><stop offset="0.125" stop-color="#710ced"/><stop offset="0.25" stop-color="#7f00e7"/><stop offset="0.375" stop-color="#8a00d4"/><stop offset="0.5" stop-color="#8f00ca"/><stop offset="0.625" stop-color="#9000c9"/><stop offset="0.75" stop-color="#8b00d2"/><stop offset="0.875" stop-color="#8200e3"/><stop offset="1" stop-color="#7405f3"/></linearGradient><linearGradient id="ha19" x1="0" y1="0" x2="0" y2="1"><stop offset="0" stop-color="#5b3bbe"/><stop offset="0.125" stop-color="#6c15e4"/><stop offset="0.25" stop-color="#7a00f0"/><stop offset="0.375" stop-color="#8500dc"/><stop offset="0.5" stop-color="#8b00d2"/><stop offset="0.625" stop-color="#8c00d1"/><stop offset="0.75" stop-color="#8700d8"/><stop offset="0.875" stop-color="#7e00e9"/><stop offset="1" stop-color="#710bed"/></linearGradient><linearGradient id="ha20" x1="0" y1="0" x2="0" y2="1"><stop offset="0" stop-color="#5743b7"/><stop offset="0.125" stop-color="#691ddc"/><stop offset="0.25" stop-color="#7600f8"/><stop offset="0.375" stop-color="#8100e4"/><stop offset="0.5" stop-color="#8700da"/><stop offset="0.625" stop-color="#8800d8"/><stop offset="0.75" stop-color="#8400df"/><stop offset="0.875" stop-color="#7b00ef"/><stop offset="1" stop-color="#6e11e8"/></linearGradient><linearGradient id="ha21" x1="0" y1="0" x2="0" y2="1"><stop offset="0" stop-color="#5646b4"/><stop offset="0.125" stop-color="#6622d7"/><stop offset="0.25" stop-color="#7306f2"/><stop offset="0.375" stop-color="#7d00eb"/><stop offset="0.5" stop-color="#8200e1"/><stop offset="0.625" stop-color="#8300e0"/><stop offset="0.75" stop-color="#8000e6"/><stop offset="0.875" stop-color="#7700f6"/><stop offset="1" stop-color="#6c16e3"/></linearGradient><linearGradient id="ha22" x1="0" y1="0" x2="0" y2="1"><stop offset="0" stop-color="#5546b4"/><stop offset="0.125" stop-color="#6525d4"/><stop offset="0.25" stop-color="#710bed"/><stop offset="0.375" stop-color="#7900f2"/><stop offset="0.5" stop-color="#7e00e9"/><stop offset="0.625" stop-color="#7f00e8"/><stop offset="0.75" stop-color="#7c00ee"/><stop offset="0.875" stop-color="#7404f4"/><stop offset="1" stop-color="#6a1ade"/></linearGradient><linearGradient id="ha23" x1="0" y1="0" x2="0" y2="1"><stop offset="0" stop-color="#5547b3"/><stop offset="0.125" stop-color="#6328d1"/><stop offset="0.25" stop-color="#6e11e8"/><stop offset="0.375" stop-color="#7601f7"/><stop offset="0.5" stop-color="#7a00f1"/><stop offset="0.625" stop-color="#7b00ef"/><stop offset="0.75" stop-color="#7800f5"/><stop offset="0.875" stop-color="#710bee"/><stop offset="1" stop-color="#681fda"/></linearGradient><linearGradient id="ha24" x1="0" y1="0" x2="0" y2="1"><stop offset="0" stop-color="#5547b3"/><stop offset="0.125" stop-color="#622bce"/><stop offset="0.25" stop-color="#6c16e2"/><stop offset="0.375" stop-color="#7208f0"/><stop offset="0.5" stop-color="#7600f8"/><stop offset="0.625" stop-color="#7600f7"/><stop offset="0.75" stop-color="#7405f3"/><stop offset="0.875" stop-color="#6e11e7"/><stop offset="1" stop-color="#6524d5"/></linearGradient><linearGradient id="ha25" x1="0" y1="0" x2="0" y2="1"><stop offset="0" stop-color="#5547b3"/><stop offset="0.125" stop-color="#612ecb"/><stop offset="0.25" stop-color="#691cdd"/><stop offset="0.375" stop-color="#6f0fea"/><stop offset="0.5" stop-color="#7208f0"/><stop offset="0.625" stop-color="#7307f1"/><stop offset="0.75" stop-color="#700cec"/><stop offset="0.875" stop-color="#6b17e1"/><stop offset="1" stop-color="#6328d1"/></linearGradient><linearGradient id="ha26" x1="0" y1="0" x2="0" y2="1"><stop offset="0" stop-color="#5744b6"/><stop offset="0.125" stop-color="#602fca"/><stop offset="0.25" stop-color="#6720d9"/><stop offset="0.375" stop-color="#6c15e3"/><stop offset="0.5" stop-color="#6f10e9"/><stop offset="0.625" stop-color="#6f0fe9"/><stop offset="0.75" stop-color="#6d14e5"/><stop offset="0.875" stop-color="#691ddc"/><stop offset="1" stop-color="#622cce"/></linearGradient><linearGradient id="ha27" x1="0" y1="0" x2="0" y2="1"><stop offset="0" stop-color="#593fbb"/><stop offset="0.125" stop-color="#602fca"/><stop offset="0.25" stop-color="#6623d6"/><stop offset="0.375" stop-color="#691bdd"/><stop offset="0.5" stop-color="#6b17e1"/><stop offset="0.625" stop-color="#6b17e1"/><stop offset="0.75" stop-color="#691bde"/><stop offset="0.875" stop-color="#6623d6"/><stop offset="1" stop-color="#602fcb"/></linearGradient><linearGradient id="ha28" x1="0" y1="0" x2="0" y2="1"><stop offset="0" stop-color="#5b3bbf"/><stop offset="0.125" stop-color="#602fca"/><stop offset="0.25" stop-color="#6427d2"/><stop offset="0.375" stop-color="#6622d7"/><stop offset="0.5" stop-color="#681fda"/><stop offset="0.625" stop-color="#6720d9"/><stop offset="0.75" stop-color="#6623d6"/><stop offset="0.875" stop-color="#6329d0"/><stop offset="1" stop-color="#5f32c8"/></linearGradient><linearGradient id="ha29" x1="0" y1="0" x2="0" y2="1"><stop offset="0" stop-color="#5c37c2"/><stop offset="0.125" stop-color="#5f31c9"/><stop offset="0.25" stop-color="#622ccd"/><stop offset="0.375" stop-color="#6329d0"/><stop offset="0.5" stop-color="#6427d2"/><stop offset="0.625" stop-color="#6428d1"/><stop offset="0.75" stop-color="#622acf"/><stop offset="0.875" stop-color="#612ecb"/><stop offset="1" stop-color="#5e34c5"/></linearGradient><linearGradient id="ha30" x1="0" y1="0" x2="0" y2="1"><stop offset="0" stop-color="#5e34c5"/><stop offset="0.125" stop-color="#5f32c7"/><stop offset="0.25" stop-color="#5f31c9"/><stop offset="0.375" stop-color="#6030c9"/><stop offset="0.5" stop-color="#6030c9"/><stop offset="0.625" stop-color="#6031c9"/><stop offset="0.75" stop-color="#5f32c7"/><stop offset="0.875" stop-color="#5e34c6"/><stop offset="1" stop-color="#5d37c3"/></linearGradient><linearGradient id="ha31" x1="0" y1="0" x2="0" y2="1"><stop offset="0" stop-color="#5f32c7"/><stop offset="0.125" stop-color="#5e35c5"/><stop offset="0.25" stop-color="#5d37c3"/><stop offset="0.375" stop-color="#5c38c1"/><stop offset="0.5" stop-color="#5b39c0"/><stop offset="0.625" stop-color="#5b3ac0"/><stop offset="0.75" stop-color="#5b3ac0"/><stop offset="0.875" stop-color="#5b3ac0"/><stop offset="1" stop-color="#5c39c1"/></linearGradient><linearGradient id="ha32" x1="0" y1="0" x2="0" y2="1"><stop offset="0" stop-color="#5f32c7"/><stop offset="0.125" stop-color="#5c39c1"/><stop offset="0.25" stop-color="#593ebc"/><stop offset="0.375" stop-color="#5842b8"/><stop offset="0.5" stop-color="#5743b6"/><stop offset="0.625" stop-color="#5744b6"/><stop offset="0.75" stop-color="#5742b8"/><stop offset="0.875" stop-color="#593fbb"/><stop offset="1" stop-color="#5b3abf"/></linearGradient><linearGradient id="ha33" x1="0" y1="0" x2="0" y2="1"><stop offset="0" stop-color="#5e34c5"/><stop offset="0.125" stop-color="#593fbb"/><stop offset="0.25" stop-color="#5546b3"/><stop offset="0.375" stop-color="#534caf"/><stop offset="0.5" stop-color="#524eac"/><stop offset="0.625" stop-color="#524dad"/><stop offset="0.75" stop-color="#544ab0"/><stop offset="0.875" stop-color="#5645b5"/><stop offset="1" stop-color="#5a3cbe"/></linearGradient><linearGradient id="ha34" x1="0" y1="0" x2="0" y2="1"><stop offset="0" stop-color="#5c38c1"/><stop offset="0.125" stop-color="#5646b4"/><stop offset="0.25" stop-color="#5150ab"/><stop offset="0.375" stop-color="#4e56a5"/><stop offset="0.5" stop-color="#4d58a2"/><stop offset="0.625" stop-color="#4e57a3"/><stop offset="0.75" stop-color="#5052a8"/><stop offset="0.875" stop-color="#5449b1"/><stop offset="1" stop-color="#5a3dbc"/></linearGradient><linearGradient id="ha35" x1="0" y1="0" x2="0" y2="1"><stop offset="0" stop-color="#5a3dbd"/><stop offset="0.125" stop-color="#524dad"/><stop offset="0.25" stop-color="#4d58a2"/><stop offset="0.375" stop-color="#4a5f9b"/><stop offset="0.5" stop-color="#496299"/><stop offset="0.625" stop-color="#4a609b"/><stop offset="0.75" stop-color="#4d59a1"/><stop offset="0.875" stop-color="#524eac"/><stop offset="1" stop-color="#593ebb"/></linearGradient><linearGradient id="ha36" x1="0" y1="0" x2="0" y2="1"><stop offset="0" stop-color="#5842b8"/><stop offset="0.125" stop-color="#4f54a7"/><stop offset="0.25" stop-color="#49619a"/><stop offset="0.375" stop-color="#466893"/><stop offset="0.5" stop-color="#456b90"/><stop offset="0.625" stop-color="#466893"/><stop offset="0.75" stop-color="#4a609b"/><stop offset="0.875" stop-color="#5052a8"/><stop offset="1" stop-color="#5940ba"/></linearGradient><linearGradient id="ha37" x1="0" y1="0" x2="0" y2="1"><stop offset="0" stop-color="#5547b3"/><stop offset="0.125" stop-color="#4c5ba0"/><stop offset="0.25" stop-color="#456992"/><stop offset="0.375" stop-color="#42718a"/><stop offset="0.5" stop-color="#417388"/><stop offset="0.625" stop-color="#42708c"/><stop offset="0.75" stop-color="#476695"/><stop offset="0.875" stop-color="#4e56a4"/><stop offset="1" stop-color="#5841b9"/></linearGradient><linearGradient id="ha38" x1="0" y1="0" x2="0" y2="1"><stop offset="0" stop-color="#524dad"/><stop offset="0.125" stop-color="#486298"/><stop offset="0.25" stop-color="#42718a"/><stop offset="0.375" stop-color="#3e7a82"/><stop offset="0.5" stop-color="#3d7b80"/><stop offset="0.625" stop-color="#3f7784"/><stop offset="0.75" stop-color="#446c8f"/><stop offset="0.875" stop-color="#4c5aa0"/><stop offset="1" stop-color="#5743b7"/></linearGradient><linearGradient id="ha39" x1="0" y1="0" x2="0" y2="1"><stop offset="0" stop-color="#4f54a7"/><stop offset="0.125" stop-color="#456a91"/><stop offset="0.25" stop-color="#3e7982"/><stop offset="0.375" stop-color="#3a827a"/><stop offset="0.5" stop-color="#398378"/><stop offset="0.625" stop-color="#3c7e7e"/><stop offset="0.75" stop-color="#41728a"/><stop offset="0.875" stop-color="#4a5e9c"/><stop offset="1" stop-color="#5644b6"/></linearGradient><linearGradient id="ha40" x1="0" y1="0" x2="0" y2="1"><stop offset="0" stop-color="#4d5aa1"/><stop offset="0.125" stop-color="#42718a"/><stop offset="0.25" stop-color="#3a817b"/><stop offset="0.375" stop-color="#368a72"/><stop offset="0.5" stop-color="#368b71"/><stop offset="0.625" stop-color="#398577"/><stop offset="0.75" stop-color="#3f7784"/><stop offset="0.875" stop-color="#496299"/><stop offset="1" stop-color="#5646b4"/></linearGradient><linearGradient id="ha41" x1="0" y1="0" x2="0" y2="1"><stop offset="0" stop-color="#4a609b"/><stop offset="0.125" stop-color="#3e7883"/><stop offset="0.25" stop-color="#378873"/><stop offset="0.375" stop-color="#33916b"/><stop offset="0.5" stop-color="#32926a"/><stop offset="0.625" stop-color="#368b71"/><stop offset="0.75" stop-color="#3c7d7f"/><stop offset="0.875" stop-color="#476695"/><stop offset="1" stop-color="#5548b2"/></linearGradient><linearGradient id="ha42" x1="0" y1="0" x2="0" y2="1"><stop offset="0" stop-color="#476695"/><stop offset="0.125" stop-color="#3b7f7d"/><stop offset="0.25" stop-color="#33906c"/><stop offset="0.375" stop-color="#2f9964"/><stop offset="0.5" stop-color="#2f9963"/><stop offset="0.625" stop-color="#33926a"/><stop offset="0.75" stop-color="#3a8279"/><stop offset="0.875" stop-color="#456b90"/><stop offset="1" stop-color="#534baf"/></linearGradient><linearGradient id="ha43" x1="0" y1="0" x2="0" y2="1"><stop offset="0" stop-color="#446c8f"/><stop offset="0.125" stop-color="#388676"/><stop offset="0.25" stop-color="#309765"/><stop offset="0.375" stop-color="#2ca05d"/><stop offset="0.5" stop-color="#2ca05c"/><stop offset="0.625" stop-color="#309864"/><stop offset="0.75" stop-color="#378874"/><stop offset="0.875" stop-color="#42708b"/><stop offset="1" stop-color="#514fab"/></linearGradient><linearGradient id="ha44" x1="0" y1="0" x2="0" y2="1"><stop offset="0" stop-color="#417289"/><stop offset="0.125" stop-color="#358c70"/><stop offset="0.25" stop-color="#2d9d5f"/><stop offset="0.375" stop-color="#29a657"/><stop offset="0.5" stop-color="#29a656"/><stop offset="0.625" stop-color="#2d9e5e"/><stop offset="0.75" stop-color="#348e6e"/><stop offset="0.875" stop-color="#407586"/><stop offset="1" stop-color="#4f54a6"/></linearGradient><linearGradient id="ha45" x1="0" y1="0" x2="0" y2="1"><stop offset="0" stop-color="#3e7983"/><stop offset="0.125" stop-color="#33926a"/><stop offset="0.25" stop-color="#2ba25a"/><stop offset="0.375" stop-color="#27ab52"/><stop offset="0.5" stop-color="#27ab52"/><stop offset="0.625" stop-color="#2ba359"/><stop offset="0.75" stop-color="#329369"/><stop offset="0.875" stop-color="#3d7a81"/><stop offset="1" stop-color="#4d59a1"/></linearGradient><linearGradient id="ha46" x1="0" y1="0" x2="0" y2="1"><stop offset="0" stop-color="#3b7f7d"/><stop offset="0.125" stop-color="#309765"/><stop offset="0.25" stop-color="#29a756"/><stop offset="0.375" stop-color="#25af4e"/><stop offset="0.5" stop-color="#25af4e"/><stop offset="0.625" stop-color="#29a756"/><stop offset="0.75" stop-color="#309765"/><stop offset="0.875" stop-color="#3b7f7c"/><stop offset="1" stop-color="#4a5f9b"/></linearGradient><linearGradient id="ha47" x1="0" y1="0" x2="0" y2="1"><stop offset="0" stop-color="#388576"/><stop offset="0.125" stop-color="#2e9c61"/><stop offset="0.25" stop-color="#27ab52"/><stop offset="0.375" stop-color="#24b24b"/><stop offset="0.5" stop-color="#24b24b"/><stop offset="0.625" stop-color="#27aa52"/><stop offset="0.75" stop-color="#2e9b61"/><stop offset="0.875" stop-color="#398477"/><stop offset="1" stop-color="#476695"/></linearGradient><linearGradient id="ha48" x1="0" y1="0" x2="0" y2="1"><stop offset="0" stop-color="#358c70"/><stop offset="0.125" stop-color="#2ca05c"/><stop offset="0.25" stop-color="#25ae4f"/><stop offset="0.375" stop-color="#22b548"/><stop offset="0.5" stop-color="#22b548"/><stop offset="0.625" stop-color="#26ae4f"/><stop offset="0.75" stop-color="#2c9f5d"/><stop offset="0.875" stop-color="#368a72"/><stop offset="1" stop-color="#436e8d"/></linearGradient><linearGradient id="ha49" x1="0" y1="0" x2="0" y2="1"><stop offset="0" stop-color="#33926a"/><stop offset="0.125" stop-color="#2aa558"/><stop offset="0.25" stop-color="#24b14c"/><stop offset="0.375" stop-color="#21b845"/><stop offset="0.5" stop-color="#21b746"/><stop offset="0.625" stop-color="#24b14c"/><stop offset="0.75" stop-color="#2aa359"/><stop offset="0.875" stop-color="#33906c"/><stop offset="1" stop-color="#3f7685"/></linearGradient><linearGradient id="ha50" x1="0" y1="0" x2="0" y2="1"><stop offset="0" stop-color="#309864"/><stop offset="0.125" stop-color="#28a954"/><stop offset="0.25" stop-color="#22b548"/><stop offset="0.375" stop-color="#20ba43"/><stop offset="0.5" stop-color="#20ba43"/><stop offset="0.625" stop-color="#23b449"/><stop offset="0.75" stop-color="#28a855"/><stop offset="0.875" stop-color="#319666"/><stop offset="1" stop-color="#3c7e7d"/></linearGradient><linearGradient id="ha51" x1="0" y1="0" x2="0" y2="1"><stop offset="0" stop-color="#2d9e5e"/><stop offset="0.125" stop-color="#26ae4f"/><stop offset="0.25" stop-color="#21b845"/><stop offset="0.375" stop-color="#1fbd40"/><stop offset="0.5" stop-color="#1fbd40"/><stop offset="0.625" stop-color="#21b746"/><stop offset="0.75" stop-color="#26ad50"/><stop offset="0.875" stop-color="#2d9d60"/><stop offset="1" stop-color="#378874"/></linearGradient><linearGradient id="ha52" x1="0" y1="0" x2="0" y2="1"><stop offset="0" stop-color="#2aa558"/><stop offset="0.125" stop-color="#23b34a"/><stop offset="0.25" stop-color="#1fbc41"/><stop offset="0.375" stop-color="#1dc03d"/><stop offset="0.5" stop-color="#1dc03d"/><stop offset="0.625" stop-color="#1fbb42"/><stop offset="0.75" stop-color="#24b24b"/><stop offset="0.875" stop-color="#2aa459"/><stop offset="1" stop-color="#33916b"/></linearGradient><linearGradient id="ha53" x1="0" y1="0" x2="0" y2="1"><stop offset="0" stop-color="#26ac50"/><stop offset="0.125" stop-color="#21b845"/><stop offset="0.25" stop-color="#1dc03d"/><stop offset="0.375" stop-color="#1bc439"/><stop offset="0.5" stop-color="#1bc43a"/><stop offset="0.625" stop-color="#1dbf3e"/><stop offset="0.75" stop-color="#21b746"/><stop offset="0.875" stop-color="#27ab52"/><stop offset="1" stop-color="#2f9a62"/></linearGradient><linearGradient id="ha54" x1="0" y1="0" x2="0" y2="1"><stop offset="0" stop-color="#23b449"/><stop offset="0.125" stop-color="#1ebe3f"/><stop offset="0.25" stop-color="#1bc539"/><stop offset="0.375" stop-color="#19c836"/><stop offset="0.5" stop-color="#1ac836"/><stop offset="0.625" stop-color="#1bc43a"/><stop offset="0.75" stop-color="#1fbc41"/><stop offset="0.875" stop-color="#24b24b"/><stop offset="1" stop-color="#2aa359"/></linearGradient><linearGradient id="ha55" x1="0" y1="0" x2="0" y2="1"><stop offset="0" stop-color="#1fbd40"/><stop offset="0.125" stop-color="#1bc539"/><stop offset="0.25" stop-color="#19ca34"/><stop offset="0.375" stop-color="#18cc31"/><stop offset="0.5" stop-color="#18cc32"/><stop offset="0.625" stop-color="#19c835"/><stop offset="0.75" stop-color="#1cc23b"/><stop offset="0.875" stop-color="#21b944"/><stop offset="1" stop-color="#26ad50"/></linearGradient><linearGradient id="ha56" x1="0" y1="0" x2="0" y2="1"><stop offset="0" stop-color="#1bc638"/><stop offset="0.125" stop-color="#18cb32"/><stop offset="0.25" stop-color="#16cf2f"/><stop offset="0.375" stop-color="#16d12d"/><stop offset="0.5" stop-color="#16d02e"/><stop offset="0.625" stop-color="#17cd31"/><stop offset="0.75" stop-color="#1ac736"/><stop offset="0.875" stop-color="#1dc03e"/><stop offset="1" stop-color="#22b647"/></linearGradient><linearGradient id="ha57" x1="0" y1="0" x2="0" y2="1"><stop offset="0" stop-color="#17ce30"/><stop offset="0.125" stop-color="#15d22c"/><stop offset="0.25" stop-color="#14d429"/><stop offset="0.375" stop-color="#13d529"/><stop offset="0.5" stop-color="#14d42a"/><stop offset="0.625" stop-color="#15d12d"/><stop offset="0.75" stop-color="#17cc31"/><stop offset="0.875" stop-color="#1ac637"/><stop offset="1" stop-color="#1ebe3f"/></linearGradient><linearGradient id="ha58" x1="0" y1="0" x2="0" y2="1"><stop offset="0" stop-color="#13d628"/><stop offset="0.125" stop-color="#12d826"/><stop offset="0.25" stop-color="#11da24"/><stop offset="0.375" stop-color="#11da24"/><stop offset="0.5" stop-color="#12d826"/><stop offset="0.625" stop-color="#13d628"/><stop offset="0.75" stop-color="#15d22c"/><stop offset="0.875" stop-color="#17cc31"/><stop offset="1" stop-color="#1ac638"/></linearGradient><linearGradient id="ha59" x1="0" y1="0" x2="0" y2="1"><stop offset="0" stop-color="#10dd21"/><stop offset="0.125" stop-color="#0fde20"/><stop offset="0.25" stop-color="#0fdf1f"/><stop offset="0.375" stop-color="#0fde20"/><stop offset="0.5" stop-color="#10dd21"/><stop offset="0.625" stop-color="#11da24"/><stop offset="0.75" stop-color="#13d727"/><stop offset="0.875" stop-color="#15d32b"/><stop offset="1" stop-color="#17cd30"/></linearGradient><linearGradient id="ha60" x1="0" y1="0" x2="0" y2="1"><stop offset="0" stop-color="#0de41b"/><stop offset="0.125" stop-color="#0ce41a"/><stop offset="0.25" stop-color="#0de41a"/><stop offset="0.375" stop-color="#0de31b"/><stop offset="0.5" stop-color="#0ee11d"/><stop offset="0.625" stop-color="#0fdf1f"/><stop offset="0.75" stop-color="#10dc22"/><stop offset="0.875" stop-color="#12d925"/><stop offset="1" stop-color="#14d429"/></linearGradient><linearGradient id="ha61" x1="0" y1="0" x2="0" y2="1"><stop offset="0" stop-color="#0aea14"/><stop offset="0.125" stop-color="#0aea15"/><stop offset="0.25" stop-color="#0ae915"/><stop offset="0.375" stop-color="#0be816"/><stop offset="0.5" stop-color="#0be618"/><stop offset="0.625" stop-color="#0ce41a"/><stop offset="0.75" stop-color="#0ee21c"/><stop offset="0.875" stop-color="#0fdf1f"/><stop offset="1" stop-color="#10db23"/></linearGradient><linearGradient id="ha62" x1="0" y1="0" x2="0" y2="1"><stop offset="0" stop-color="#07f10e"/><stop offset="0.125" stop-color="#07f00f"/><stop offset="0.25" stop-color="#08ee10"/><stop offset="0.375" stop-color="#08ed11"/><stop offset="0.5" stop-color="#09eb13"/><stop offset="0.625" stop-color="#0ae915"/><stop offset="0.75" stop-color="#0be717"/><stop offset="0.875" stop-color="#0ce519"/><stop offset="1" stop-color="#0de21c"/></linearGradient><linearGradient id="ha63" x1="0" y1="0" x2="0" y2="1"><stop offset="0" stop-color="#04f708"/><stop offset="0.125" stop-color="#05f50a"/><stop offset="0.25" stop-color="#05f40b"/><stop offset="0.375" stop-color="#06f20c"/><stop offset="0.5" stop-color="#07f10e"/><stop offset="0.625" stop-color="#08ef10"/><stop offset="0.75" stop-color="#08ed12"/><stop offset="0.875" stop-color="#09eb14"/><stop offset="1" stop-color="#0ae916"/></linearGradient><linearGradient id="ha64" x1="0" y1="0" x2="0" y2="1"><stop offset="0" stop-color="#01fc03"/><stop offset="0.125" stop-color="#02fb04"/><stop offset="0.25" stop-color="#03f906"/><stop offset="0.375" stop-color="#03f707"/><stop offset="0.5" stop-color="#04f609"/><stop offset="0.625" stop-color="#05f40b"/><stop offset="0.75" stop-color="#06f20c"/><stop offset="0.875" stop-color="#07f10e"/><stop offset="1" stop-color="#07ef10"/></linearGradient></defs>
<g shape-rendering="crispEdges"><path d="M65.1 218.9H67.1V334.2H65.1Z" fill="url(#ha0)"/><path d="M67.1 218.9H69.1V334.2H67.1Z" fill="url(#ha1)"/><path d="M69.1 218.9H71.1V334.2H69.1Z" fill="url(#ha2)"/><path d="M71.1 218.9H73.1V334.2H71.1Z" fill="url(#ha3)"/><path d="M73.1 218.9H75.1V334.2H73.1Z" fill="url(#ha4)"/><path d="M75.1 218.9H77.1V334.2H75.1Z" fill="url(#ha5)"/><path d="M77.1 218.9H79.1V334.2H77.1Z" fill="url(#ha6)"/><path d="M79.1 218.9H81.1V334.2H79.1Z" fill="url(#ha7)"/><path d="M81.1 218.9H83.1V334.2H81.1Z" fill="url(#ha8)"/><path d="M83.1 218.9H85.1V334.2H83.1Z" fill="url(#ha9)"/><path d="M85.1 218.9H87.1V334.2H85.1Z" fill="url(#ha10)"/><path d="M87.1 218.9H89.1V334.2H87.1Z" fill="url(#ha11)"/><path d="M89.1 218.9H91.1V334.2H89.1Z" fill="url(#ha12)"/><path d="M91.1 218.9H93.1V334.2H91.1Z" fill="url(#ha13)"/><path d="M93.1 218.9H95.1V334.2H93.1Z" fill="url(#ha14)"/><path d="M95.1 218.9H97.1V334.2H95.1Z" fill="url(#ha15)"/><path d="M97.1 218.9H99.1V334.2H97.1Z" fill="url(#ha16)"/><path d="M99.1 218.9H101.1V334.2H99.1Z" fill="url(#ha17)"/><path d="M101.1 218.9H103.1V334.2H101.1Z" fill="url(#ha18)"/><path d="M103.1 218.9H105.1V334.2H103.1Z" fill="url(#ha19)"/><path d="M105.1 218.9H107.1V334.2H105.1Z" fill="url(#ha20)"/><path d="M107.1 218.9H109.1V334.2H107.1Z" fill="url(#ha21)"/><path d="M109.1 218.9H111.1V334.2H109.1Z" fill="url(#ha22)"/><path d="M111.1 218.9H113.1V334.2H111.1Z" fill="url(#ha23)"/><path d="M113.1 218.9H115.1V334.2H113.1Z" fill="url(#ha24)"/><path d="M115.1 218.9H117.1V334.2H115.1Z" fill="url(#ha25)"/><path d="M117.1 218.9H119.1V334.2H117.1Z" fill="url(#ha26)"/><path d="M119.1 218.9H121.1V334.2H119.1Z" fill="url(#ha27)"/><path d="M121.1 218.9H123.1V334.2H121.1Z" fill="url(#ha28)"/><path d="M123.1 218.9H125.1V334.2H123.1Z" fill="url(#ha29)"/><path d="M125.1 218.9H127.1V334.2H125.1Z" fill="url(#ha30)"/><path d="M127.1 218.9H129.1V334.2H127.1Z" fill="url(#ha31)"/><path d="M129.1 218.9H131.1V334.2H129.1Z" fill="url(#ha32)"/><path d="M131.1 218.9H133.1V334.2H131.1Z" fill="url(#ha33)"/><path d="M133.1 218.9H135.1V334.2H133.1Z" fill="url(#ha34)"/><path d="M135.1 218.9H137.1V334.2H135.1Z" fill="url(#ha35)"/><path d="M137.1 218.9H139.1V334.2H137.1Z" fill="url(#ha36)"/><path d="M139.1 218.9H141.1V334.2H139.1Z" fill="url(#ha37)"/><path d="M141.1 218.9H143.1V334.2H141.1Z" fill="url(#ha38)"/><path d="M143.1 218.9H145.1V334.2H143.1Z" fill="url(#ha39)"/><path d="M145.1 218.9H147.1V334.2H145.1Z" fill="url(#ha40)"/><path d="M147.1 218.9H149.1V334.2H147.1Z" fill="url(#ha41)"/><path d="M149.1 218.9H151.1V334.2H149.1Z" fill="url(#ha42)"/><path d="M151.1 218.9H153.1V334.2H151.1Z" fill="url(#ha43)"/><path d="M153.1 218.9H155.1V334.2H153.1Z" fill="url(#ha44)"/><path d="M155.1 218.9H157.1V334.2H155.1Z" fill="url(#ha45)"/><path d="M157.1 218.9H159.1V334.2H157.1Z" fill="url(#ha46)"/><path d="M159.1 218.9H161.1V334.2H159.1Z" fill="url(#ha47)"/><path d="M161.1 218.9H163.1V334.2H161.1Z" fill="url(#ha48)"/><path d="M163.1 218.9H165.1V334.2H163.1Z" fill="url(#ha49)"/><path d="M165.1 218.9H167.1V334.2H165.1Z" fill="url(#ha50)"/><path d="M167.1 218.9H169.1V334.2H167.1Z" fill="url(#ha51)"/><path d="M169.1 218.9H171.1V334.2H169.1Z" fill="url(#ha52)"/><path d="M171.1 218.9H173.1V334.2H171.1Z" fill="url(#ha53)"/><path d="M173.1 218.9H175.1V334.2H173.1Z" fill="url(#ha54)"/><path d="M175.1 218.9H177.1V334.2H175.1Z" fill="url(#ha55)"/><path d="M177.1 218.9H179.1V334.2H177.1Z" fill="url(#ha56)"/><path d="M179.1 218.9H181.1V334.2H179.1Z" fill="url(#ha57)"/><path d="M181.1 218.9H183.1V334.2H181.1Z" fill="url(#ha58)"/><path d="M183.1 218.9H185.1V334.2H183.1Z" fill="url(#ha59)"/><path d="M185.1 218.9H187.1V334.2H185.1Z" fill="url(#ha60)"/><path d="M187.1 218.9H189.1V334.2H187.1Z" fill="url(#ha61)"/><path d="M189.1 218.9H191.1V334.2H189.1Z" fill="url(#ha62)"/><path d="M191.1 218.9H193.1V334.2H191.1Z" fill="url(#ha63)"/><path d="M193.1 218.9H195.1V334.2H193.1Z" fill="url(#ha64)"/></g>
<path d="M195.1,334.2 L194.9,328.4 L194.7,322.7 L194.4,316.9 L194.2,311.1 L194,305.4 L193.7,299.6 L193.5,294 L193.3,291 L193.1,285.2 L192.8,279.4 L192.6,273.7 L192.3,267.9 L192.1,262.1 L191.9,257.1 L191.7,253.5 L191.5,247.7 L191.3,242 L191.1,236.2 L190.9,230.4 L190.7,224.7 L190.6,218.9 M191,334.2 L190.7,328.4 L190.4,322.7 L190.2,319.8 L189.9,314 L189.5,308.3 L189.2,302.5 L188.8,296.7 L188.6,293.1 L188.3,288.1 L188,282.3 L187.6,276.6 L187.3,270.8 L187.1,265 L187,262 L186.8,256.4 L186.6,250.6 L186.5,244.8 L186.5,239.1 L186.5,233.3 L186.5,227.5 L186.5,221.8 M187.2,334.2 L187,331.3 L186.5,325.6 L186,319.8 L185.4,314 L185.2,311.1 L184.6,305.4 L184,299.6 L183.7,296.3 L183.2,291 L182.7,285.2 L182.3,279.4 L182.1,276.6 L181.8,270.8 L181.6,265 L181.5,259.3 L181.5,253.5 L181.6,247.7 L181.7,242 L182,236.2 L182.1,232.8 L182.4,227.5 L182.7,221.8 M183.6,334.2 L182.9,328.4 L182.1,322.7 L181.8,319.8 L181,314 L180.5,310.7 L179.7,305.4 L178.8,299.9 L178.4,296.7 L177.6,291 L177.2,288.1 L176.5,282.3 L176,276.6 L175.7,270.8 L175.7,265 L175.8,259.3 L176.2,253.5 L176.7,247.7 L177.2,242 L177.5,239.1 L178.1,233.3 L178.6,227.5 L178.9,224.7 L179.5,218.9 M180.2,334.2 L179.3,328.4 L178.8,325.6 L177.8,319.8 L177.2,316.9 L176.1,311.1 L175.5,308.3 L174.2,302.5 L173.6,299.6 L172.4,294.3 L171.6,291 L170.7,286.7 L169.9,282.3 L169.1,276.6 L168.8,273.7 L168.6,267.9 L169,262.1 L169.3,259.3 L170.2,253.5 L170.8,250.6 L171.9,244.8 L172.5,242 L173.6,236.2 L174.1,233.3 L175.1,227.5 L175.6,224.5 L176.4,218.9 M177.1,334.2 L176,328.4 L175.4,325.6 L174.1,319.8 L173.3,316.9 L172.4,313.3 L170.9,308.3 L170,305.4 L169,302.5 L167.5,297.9 L165.9,293.8 L164.7,291 L163.5,288.1 L162.3,285.2 L161,281.3 L159.8,276.6 L159.4,273.3 L159.2,267.9 L159.4,265 L160.3,259.3 L161.1,256.4 L162.6,251.9 L164.2,247.7 L165.4,244.8 L166.5,242 L167.7,239.1 L169.1,235.1 L170.5,230.4 L171.3,227.5 L172.4,223.6 L173.4,218.9 M174.3,334.2 L173.7,331.3 L172.4,326.4 L171.3,322.7 L170.3,319.8 L169.1,316 L167.5,311.6 L166,308.3 L164.6,305.4 L163.1,302.5 L161.4,299.6 L159.8,296.7 L158.3,293.8 L156.9,291 L155.8,288.1 L154.5,283 L153.9,279.4 L153.4,273.7 L153.3,267.9 L153.7,262.1 L154.5,256.9 L155.3,253.5 L156.1,250.4 L157.7,246.1 L159.4,242.6 L161,239.3 L162.6,236.2 L164,233.3 L165.5,230.4 L166.8,227.5 L168,224.7 L169.1,221.7 M171.6,334.2 L170.7,331.3 L169.1,326.4 L167.8,322.7 L166.6,319.8 L165.3,316.9 L163.8,314 L162.1,311.1 L160.3,308.3 L158.4,305.4 L156.6,302.5 L155,299.6 L153.8,296.7 L152.8,293.8 L151.2,288.1 L150.7,285.2 L149.9,279.4 L149.6,274.8 L149.5,270.8 L149.6,266.5 L149.9,262.1 L150.6,256.4 L151.2,252.7 L152.4,247.7 L153.3,244.8 L154.5,241.4 L156.1,237.8 L157.7,234.7 L159.4,231.7 L161,228.8 L162.6,225.8 L164.2,222.7 L165.8,219.4 M168.8,334.2 L167.5,330.5 L165.8,326.5 L164.2,323.1 L162.6,320.2 L161,317.5 L159.4,315.1 L157.7,312.8 L156.1,310.6 L154.5,308 L152.8,305 L151.2,301.3 L149.6,296.9 L148.7,293.8 L148,290.9 L146.9,285.2 L146.3,280.2 L146.1,276.6 L146,270.8 L146.2,265 L146.4,262.1 L147.1,256.4 L148,251.3 L148.7,247.7 L149.6,244.4 L151.2,239.3 L152.4,236.2 L153.7,233.3 L155.2,230.4 L156.9,227.5 L158.6,224.7 L160.3,221.8 L161.9,218.9 M166,334.2 L164.7,331.3 L163.2,328.4 L161.5,325.6 L159.7,322.7 L157.7,319.9 L156.1,317.8 L154.5,315.7 L152.8,313.2 L151.2,310.5 L149.6,307.4 L148,304 L146.3,299.8 L145.4,296.7 L144.7,293.8 L143.6,288.1 L143.1,283.3 L142.8,279.4 L142.7,273.7 L142.8,267.9 L143.1,262.8 L143.4,259.3 L144.2,253.5 L144.7,250.4 L146,244.8 L146.8,242 L148,238.2 L149.6,233.8 L151.1,230.4 L152.5,227.5 L154.2,224.7 L156,221.8 L157.7,219 M162.9,334.2 L161.2,331.3 L159.4,328.4 L157.7,326.1 L156.1,324.2 L154.5,322.2 L152.6,319.8 L150.5,316.9 L148.5,314 L146.7,311.1 L145.1,308.3 L143.9,305.4 L142.9,302.5 L141.5,296.9 L140.9,293.8 L140.2,288.1 L139.9,284.1 L139.6,279.4 L139.6,273.7 L139.7,267.9 L139.9,265 L140.4,259.3 L141.1,253.5 L141.5,250.6 L142.6,244.8 L143.3,242 L144.7,237.1 L146.1,233.3 L147.3,230.4 L148.6,227.5 L150.1,224.7 L151.8,221.8 L153.6,218.9 M159.5,334.2 L157.7,331.7 L156.1,329.8 L154.5,328 L152.3,325.6 L149.7,322.7 L148,320.8 L146.3,319 L144.7,316.9 L142.9,314 L141.5,311.1 L139.9,306.6 L138.8,302.5 L138.2,299.5 L137.4,293.8 L136.9,288.1 L136.7,282.3 L136.6,276.6 L136.6,276.6 L136.7,270.8 L137,265 L137.4,259.3 L138,253.5 L138.5,250.6 L139.5,244.8 L140.1,242 L141.5,236.7 L142.5,233.3 L143.6,230.4 L144.8,227.5 L146.3,224.3 L148,221.4 M155.3,334.2 L152.9,331.6 L151.2,330.1 L149.3,328.4 L146.3,326.1 L144.7,324.7 L142.7,322.7 L140.4,319.8 L138.9,316.9 L137.7,314 L136.6,310.5 L135.5,305.4 L135,301.4 L134.5,296.7 L134.2,291 L134,285.2 L133.9,279.4 L134,273.7 L134.1,267.9 L134.4,262.1 L134.8,256.4 L135.1,253.5 L135.8,247.7 L136.6,243.1 L137.5,239.1 L138.2,236.2 L139.9,230.9 L141.1,227.5 L142.3,224.7 L143.7,221.8 L145.3,218.9 M149.7,334.2 L148,333.2 L144.7,331.5 L143.1,330.6 L140,328.4 L138.2,326.7 L136.6,324.5 L135,321.3 L133.7,316.9 L133.1,314 L132.3,308.3 L131.9,302.5 L131.7,299.6 L131.5,293.8 L131.4,288.1 L131.4,282.3 L131.4,276.6 L131.5,270.8 L131.7,265 L131.8,262.1 L132.2,256.4 L132.6,250.6 L133.3,244.8 L133.7,242 L134.7,236.2 L135.4,233.3 L136.6,229.2 L138.2,225 L139.7,221.8 L141.1,218.9 M134.3,334.2 L131.7,331.5 L130.6,328.4 L130,325.6 L129.4,319.8 L129.1,314 L129,308.3 L128.9,302.5 L128.8,296.7 L128.8,291 L128.8,285.2 L128.9,279.4 L128.9,273.7 L129,267.9 L129.2,262.1 L129.4,256.4 L129.7,250.6 L130.1,245.7 L130.4,242 L131.2,236.2 L131.7,233.1 L133,227.5 L133.8,224.7 L135,221.6 M120.8,218.9 L119.1,221.8 L117.1,223.8 L113.8,223.5 L110.6,222.6 L107.7,221.8 L105.7,220.4 M121.3,334.2 L122.6,331.3 L123.6,328 L124.5,322.7 L125.1,316.9 L125.3,314 L125.6,308.3 L125.8,302.5 L126,296.7 L126.1,291 L126.1,285.2 L126.2,279.4 L126.2,273.7 L126.2,267.9 L126.2,262.1 L126.1,256.4 L126,250.6 L125.8,244.8 L125.3,239.1 L124.8,236.2 L123.6,233.3 L120.3,232 L117.1,232.3 L114.2,230.4 L112.2,229.2 L109.3,227.5 L107.3,226.6 L105.5,224.7 L103.6,221.8 L101.8,218.9 M113.9,334.2 L115.8,331.3 L117.3,328.4 L118.7,325.1 L120.3,319.8 L120.9,316.9 L121.7,311.1 L122.1,308.3 L122.5,302.5 L122.9,296.7 L123.1,291 L123.2,285.2 L123.2,279.4 L123.1,273.7 L122.9,267.9 L122.6,262.1 L122.1,256.4 L121.6,253.5 L120.3,248.1 L118.8,244.8 L117.1,242.4 L115.5,240.1 L113.8,237.9 L112.2,236 L109.2,233.3 L107.3,231.9 L105.7,229.9 L104.1,227.4 L102.5,224.6 L100.8,221.8 M108.5,334.2 L110.6,331.3 L112.2,328.5 L113.7,325.6 L114.9,322.7 L115.9,319.8 L117.1,315.5 L118,311.1 L118.7,306.6 L119.2,302.5 L119.6,296.7 L119.9,291 L120,285.2 L120,279.4 L119.8,273.7 L119.3,267.9 L118.7,263.3 L118,259.3 L117.1,255.8 L115.5,250.9 L114.2,247.7 L112.7,244.8 L110.9,242 L109,239.5 L107.3,237.7 L105.7,235.4 L104.1,232.6 L102.5,229.6 L100.8,226.5 L99.2,223.4 L97.6,219.7 M103.5,334.2 L105.7,331.3 L107.3,328.9 L109,326.1 L110.6,322.8 L111.8,319.8 L112.8,316.9 L113.8,313.1 L114.9,308.3 L115.5,304.9 L116.1,299.6 L116.6,293.8 L116.8,288.1 L116.8,282.3 L116.5,276.6 L116,270.8 L115.5,267 L114.6,262.1 L113.8,259.1 L112.2,253.8 L110.9,250.6 L109.4,247.7 L107.7,244.8 L106,242 L104.5,239.1 L103.1,236.2 L101.7,233.3 L100.2,230.4 L98.9,227.5 L97.6,224.5 L96,220.3 M99.6,334.2 L101.4,331.3 L103.2,328.4 L104.9,325.6 L106.5,322.7 L107.9,319.8 L109,316.9 L110.6,311.7 L111.4,308.3 L112.2,303.9 L112.8,299.6 L113.3,293.8 L113.6,288.1 L113.5,282.3 L113.2,276.6 L112.6,270.8 L112.1,267.9 L110.9,262.1 L110.1,259.3 L109,256.1 L107.3,252.3 L105.7,248.6 L104.1,244.8 L102.9,242 L101.6,239.1 L100.3,236.2 L99,233.3 L97.6,229.7 L96,225.3 L94.7,221.8 L93.7,218.9 M96.5,334.2 L98,331.3 L99.4,328.4 L100.9,325.6 L102.5,322.5 L104.1,319.1 L105.7,315.3 L107.2,311.1 L107.9,308.3 L109,303.3 L109.5,299.6 L110.1,293.8 L110.4,288.1 L110.3,282.3 L109.9,276.6 L109.2,270.8 L108.6,267.9 L107.3,262.7 L106.3,259.3 L105.4,256.4 L104.1,252.6 L102.5,248.1 L101.2,244.8 L100.1,242 L98.9,239.1 L97.6,235.5 L96,230.9 L94.9,227.5 L93.9,224.7 L92.7,221.2 M93.7,334.2 L95,331.3 L96.3,328.4 L97.6,325.4 L99.2,321.7 L100.8,317.8 L102.4,314 L103.4,311.1 L104.3,308.3 L105.7,302.5 L106.2,299.6 L106.9,293.8 L107.1,288.1 L107.1,282.3 L106.6,276.6 L105.8,270.8 L105.3,267.9 L104.1,262.9 L103.2,259.3 L102.3,256.4 L100.8,251.7 L99.5,247.7 L98.5,244.8 L97.6,242 L96,237.1 L94.8,233.3 L93.9,230.4 L92.7,226.9 L91.1,221.8 L90.3,218.9 M91.2,334.2 L92.7,330.1 L94.3,326 L95.7,322.7 L96.8,319.8 L97.9,316.9 L99.2,313 L100.7,308.3 L101.4,305.4 L102.5,300.5 L103.1,296.7 L103.7,291 L103.8,285.2 L103.6,279.4 L103,273.7 L102.5,270 L101.5,265 L100.8,261.9 L99.4,256.4 L98.6,253.5 L97.6,249.9 L96.1,244.8 L95.3,242 L94.3,238.7 L92.7,233.3 L91.9,230.4 L91,227.5 L89.5,222.1 L88.6,218.9 M88.9,334.2 L89.8,331.3 L91.1,327.5 L92.7,322.7 L93.7,319.8 L94.7,316.9 L96,312.9 L97.4,308.3 L98.1,305.4 L99.2,299.9 L99.7,296.7 L100.3,291 L100.6,285.2 L100.4,279.4 L99.9,273.7 L99.2,268.8 L98.6,265 L97.6,260.2 L96.7,256.4 L96,253.2 L94.6,247.7 L93.9,244.8 L92.7,240.7 L91.5,236.2 L90.7,233.3 L89.5,228.7 L88.4,224.7 L87.7,221.8 M86.7,334.2 L87.8,330.3 L89.3,325.6 L90.1,322.7 L91.1,319.3 L92.6,314 L93.4,311.1 L94.3,307.5 L95.5,302.5 L96,299.6 L96.9,293.8 L97.3,288.1 L97.4,282.3 L97.2,276.6 L96.6,270.8 L96,266.3 L95.3,262.1 L94.3,257.2 L93.6,253.5 L92.7,249.8 L91.6,244.8 L90.9,242 L89.5,236.3 L88.7,233.3 L87.8,229.6 L86.8,224.7 L86.1,221.8 M84.5,334.2 L85.3,331.3 L86.2,327.9 L87.6,322.7 L88.4,319.8 L89.5,315.5 L90.6,311.1 L91.2,308.3 L92.4,302.5 L92.9,299.6 L93.7,293.8 L94.2,288.1 L94.3,282.3 L94.2,276.6 L93.7,270.8 L93.1,265 L92.6,262.1 L91.6,256.4 L91.1,253.5 L89.9,247.7 L89.3,244.8 L88.1,239.1 L87.5,236.2 L86.3,230.4 L85.7,227.5 L84.7,221.8 L84.1,218.9 M82.3,334.2 L83.1,331.3 L84.5,325.6 L85.2,322.7 L86.2,318.6 L87.3,314 L87.9,311.1 L89,305.4 L89.5,302.5 L90.4,296.7 L91,291 L91.2,288.1 L91.4,282.3 L91.3,276.6 L91.1,272.9 L90.7,267.9 L90,262.1 L89.5,258.5 L88.7,253.5 L87.8,248.7 L87.2,244.8 L86.2,239.5 L85.7,236.2 L84.7,230.4 L84.2,227.5 L83.2,221.8 L82.7,218.9 M80.2,334.2 L81.3,329.2 L82.2,325.6 L83,322.3 L84.2,316.9 L84.8,314 L85.9,308.3 L86.4,305.4 L87.2,299.6 L87.8,294.1 L88.1,291 L88.5,285.2 L88.6,279.4 L88.4,273.7 L88,267.9 L87.8,265 L87.2,259.3 L86.5,253.5 L86.1,250.6 L85.3,244.8 L84.6,240.4 L84,236.2 L83.1,230.4 L82.6,227.5 L81.6,221.8 L81,218.9 M78.1,334.2 L78.7,331.3 L79.7,326.5 L80.6,322.7 L81.3,318.9 L82.3,314 L83,310.5 L83.8,305.4 L84.6,300 L85,296.7 L85.5,291 L85.8,285.2 L86,279.4 L85.9,273.7 L85.6,267.9 L85.2,262.1 L84.7,256.4 L84.4,253.5 L83.8,247.7 L83,242 L82.6,239.1 L81.7,233.3 L81.3,230.4 L80.2,224.7 L79.6,221.8 M76.1,334.2 L76.6,331.3 L77.6,325.6 L78.2,322.7 L79.3,316.9 L79.9,314 L80.9,308.3 L81.3,305.2 L82.1,299.6 L82.8,293.8 L83,291 L83.4,285.2 L83.5,279.4 L83.5,273.7 L83.4,267.9 L83.1,262.1 L82.9,259.3 L82.3,253.5 L81.7,247.7 L81.3,244.6 L80.5,239.1 L79.7,234.2 L79,230.4 L78.1,226 L77.2,221.8 M73.9,334.2 L74.8,328.6 L75.3,325.6 L76.3,319.8 L76.8,316.9 L77.7,311.1 L78.2,308.3 L79.1,302.5 L79.7,297.7 L80.1,293.8 L80.6,288.1 L80.9,282.3 L81.1,276.6 L81,270.8 L80.8,265 L80.5,259.3 L80,253.5 L79.6,250.6 L78.8,244.8 L78.1,240.2 L77.4,236.2 L76.5,231.2 L75.9,227.5 L74.9,221.8 L74.6,218.9 M71.6,334.2 L72.3,328.4 L73.2,322.7 L73.6,319.8 L74.5,314 L74.9,311.1 L75.7,305.4 L76.4,299.6 L76.8,296.7 L77.3,291 L77.8,285.2 L78,279.4 L78.1,276.6 L78.1,273.1 L78,267.9 L77.6,262.1 L77.1,256.4 L76.5,250.7 L76.1,247.7 L75.3,242 L74.8,238.3 L74.3,233.3 L73.6,227.5 L73.2,223.7 L72.8,218.9 M69.1,334.2 L69.5,328.4 L70,323.6 L70.4,319.8 L71,314 L71.6,309.7 L72.1,305.4 L72.8,299.6 L73.2,295.8 L73.6,291 L74,285.2 L74.2,279.4 L74.3,273.7 L74.2,267.9 L74,262.1 L73.6,256.4 L73.2,250.6 L73,247.7 L72.6,242 L72.2,236.2 L71.9,230.4 L71.6,225.8 L71.4,221.8 M66.3,334.2 L66.3,328.4 L66.3,322.7 L66.4,316.9 L66.6,311.1 L66.8,308.3 L67.3,302.5 L68,296.7 L68.3,293.6 L68.9,288.1 L69.4,282.3 L69.8,276.6 L70,273.7 L70.2,267.9 L70.3,262.1 L70.3,256.4 L70.3,250.6 L70.2,244.8 L70.1,239.1 L70.1,233.3 L70,229 L69.9,224.7 L69.8,218.9 M65.1,268.8 L65.8,265 L66.6,259.3 L66.9,256.4 L67.4,250.6 L67.7,244.8 L68,239.1 L68.2,233.3 L68.3,227.5 L68.4,224.7 L68.5,218.9 M65.1,246.2 L65.6,242 L66.2,236.2 L66.6,230.4 L66.8,227.5 L67.1,221.8 M65.1,229.5 L65.3,227.5 L65.6,224.7 L65.8,221.8 L66,218.9" fill="none" stroke="#000" stroke-opacity="0.16" stroke-width="0.35"/>
<path d="M65.1 218.9V334.2H195.1V218.9ZM65.1 334.2v2M81.3 334.2v1.1M97.6 334.2v2M113.8 334.2v1.1M130.1 334.2v2M146.3 334.2v1.1M162.6 334.2v2M178.8 334.2v1.1M195.1 334.2v2M65.1 334.2h-2.4M65.1 305.4h-1.3M65.1 276.6h-2.4M65.1 247.7h-1.3M65.1 218.9h-2.4" stroke="#333" stroke-width="0.5" fill="none"/>
<text x="65.1" y="342" font-size="4.4" text-anchor="middle" fill="#222">Oak</text>
<text x="97.6" y="342" font-size="4.4" text-anchor="middle" fill="#222">2Oak:HDPE</text>
<text x="130.1" y="342" font-size="4.4" text-anchor="middle" fill="#222">Oak:HDPE</text>
<text x="162.6" y="342" font-size="4.4" text-anchor="middle" fill="#222">Oak:2HDPE</text>
<text x="195.1" y="342" font-size="4.4" text-anchor="middle" fill="#222">HDPE</text>
<text x="61.2" y="335.8" font-size="4.4" text-anchor="end" fill="#222">100</text>
<text x="61.2" y="278.2" font-size="4.4" text-anchor="end" fill="#222">150</text>
<text x="61.2" y="220.5" font-size="4.4" text-anchor="end" fill="#222">200</text>
<text x="130.4" y="350.4" font-size="5.8" text-anchor="middle" font-weight="bold" fill="#222">Biomass:Plastic ratio</text>
<text transform="translate(49.3 276.6) rotate(-90)" font-size="5.5" font-weight="bold" text-anchor="middle" fill="#222">H<tspan font-size="3.8" dy="1.2">2</tspan><tspan dy="-1.2"> Pressure (psi)</tspan></text>
<path d="M195 237V258" stroke="#333" stroke-width="0.7" fill="none"/>
<path d="M319.2,127.6 L398.2,89.8 L486.7,120.5 M318.1,115.3 L398.1,78.8 L487.6,108.4 M317.1,102.8 L398,67.6 L488.5,96.1 M316,90 L397.9,56.1 L489.4,83.5 M314.9,76.8 L397.8,44.5 L490.4,70.6 M313.8,63.4 L397.7,32.5 L491.4,57.4 M312.6,49.6 L397.6,20.4 L492.4,43.9 M340.8,149.2 L418.3,107.8 L419.2,13 M362.7,159.6 L439.5,115.5 L442.3,18.3 M386.3,170.6 L462,123.6 L467,24 M451.7,155.4 L362,118.7" fill="none" stroke="#eaeaea" stroke-width="0.5"/>
<path d="M311.5,35.4 L397.4,8 L493.4,30 L485.9,132.2 M397.4,8 L398.3,100.5 M320.2,139.6 L398.3,100.5 L485.9,132.2" fill="none" stroke="#cbcbcb" stroke-width="0.6"/>
<defs><linearGradient id="sb0" gradientUnits="userSpaceOnUse" x1="313.3" y1="52" x2="397.9" y2="14"><stop offset="0" stop-color="#da0043"/><stop offset="0.112" stop-color="#db0041"/><stop offset="0.221" stop-color="#dd003e"/><stop offset="0.327" stop-color="#de003b"/><stop offset="0.43" stop-color="#e00037"/><stop offset="0.531" stop-color="#e30033"/><stop offset="0.629" stop-color="#e5002f"/><stop offset="0.725" stop-color="#e8002a"/><stop offset="0.819" stop-color="#eb0024"/><stop offset="0.91" stop-color="#ee001e"/><stop offset="1" stop-color="#f20018"/></linearGradient><linearGradient id="sb1" gradientUnits="userSpaceOnUse" x1="314.3" y1="53.5" x2="398.8" y2="16.1"><stop offset="0" stop-color="#d70048"/><stop offset="0.114" stop-color="#d90045"/><stop offset="0.224" stop-color="#db0041"/><stop offset="0.331" stop-color="#dd003d"/><stop offset="0.435" stop-color="#df0039"/><stop offset="0.536" stop-color="#e20035"/><stop offset="0.634" stop-color="#e40031"/><stop offset="0.729" stop-color="#e6002d"/><stop offset="0.822" stop-color="#e80029"/><stop offset="0.912" stop-color="#ea0025"/><stop offset="1" stop-color="#ed0021"/></linearGradient><linearGradient id="sb2" gradientUnits="userSpaceOnUse" x1="315.3" y1="55.2" x2="399.7" y2="18.1"><stop offset="0" stop-color="#d4004e"/><stop offset="0.115" stop-color="#d70049"/><stop offset="0.227" stop-color="#d90044"/><stop offset="0.335" stop-color="#dc0040"/><stop offset="0.439" stop-color="#de003c"/><stop offset="0.54" stop-color="#e00038"/><stop offset="0.638" stop-color="#e20034"/><stop offset="0.733" stop-color="#e40031"/><stop offset="0.825" stop-color="#e5002f"/><stop offset="0.914" stop-color="#e7002c"/><stop offset="1" stop-color="#e8002a"/></linearGradient><linearGradient id="sb3" gradientUnits="userSpaceOnUse" x1="316.3" y1="56.9" x2="400.6" y2="20"><stop offset="0" stop-color="#d00055"/><stop offset="0.117" stop-color="#d4004e"/><stop offset="0.229" stop-color="#d70048"/><stop offset="0.338" stop-color="#da0043"/><stop offset="0.443" stop-color="#dd003e"/><stop offset="0.544" stop-color="#df003b"/><stop offset="0.642" stop-color="#e00038"/><stop offset="0.736" stop-color="#e20035"/><stop offset="0.827" stop-color="#e20034"/><stop offset="0.915" stop-color="#e30033"/><stop offset="1" stop-color="#e30033"/></linearGradient><linearGradient id="sb4" gradientUnits="userSpaceOnUse" x1="317.3" y1="58.7" x2="401.5" y2="21.9"><stop offset="0" stop-color="#cd005b"/><stop offset="0.118" stop-color="#d10053"/><stop offset="0.232" stop-color="#d5004c"/><stop offset="0.341" stop-color="#d80046"/><stop offset="0.447" stop-color="#db0041"/><stop offset="0.548" stop-color="#dd003d"/><stop offset="0.646" stop-color="#de003b"/><stop offset="0.74" stop-color="#df0039"/><stop offset="0.83" stop-color="#e00039"/><stop offset="0.917" stop-color="#df003a"/><stop offset="1" stop-color="#de003b"/></linearGradient><linearGradient id="sb5" gradientUnits="userSpaceOnUse" x1="318.3" y1="60.5" x2="402.4" y2="23.7"><stop offset="0" stop-color="#c90062"/><stop offset="0.119" stop-color="#ce0059"/><stop offset="0.234" stop-color="#d30050"/><stop offset="0.344" stop-color="#d6004a"/><stop offset="0.45" stop-color="#d90044"/><stop offset="0.552" stop-color="#db0041"/><stop offset="0.649" stop-color="#dd003e"/><stop offset="0.743" stop-color="#dd003d"/><stop offset="0.832" stop-color="#dd003e"/><stop offset="0.918" stop-color="#dc0040"/><stop offset="1" stop-color="#da0044"/></linearGradient><linearGradient id="sb6" gradientUnits="userSpaceOnUse" x1="319.4" y1="62.5" x2="403.3" y2="25.5"><stop offset="0" stop-color="#c4006a"/><stop offset="0.121" stop-color="#cb005f"/><stop offset="0.236" stop-color="#d00055"/><stop offset="0.347" stop-color="#d4004e"/><stop offset="0.454" stop-color="#d70048"/><stop offset="0.556" stop-color="#d90044"/><stop offset="0.653" stop-color="#db0042"/><stop offset="0.746" stop-color="#db0042"/><stop offset="0.835" stop-color="#da0043"/><stop offset="0.919" stop-color="#d80046"/><stop offset="1" stop-color="#d5004b"/></linearGradient><linearGradient id="sb7" gradientUnits="userSpaceOnUse" x1="320.4" y1="64.6" x2="404.2" y2="27.2"><stop offset="0" stop-color="#c00072"/><stop offset="0.122" stop-color="#c70065"/><stop offset="0.239" stop-color="#cd005b"/><stop offset="0.351" stop-color="#d20052"/><stop offset="0.457" stop-color="#d5004c"/><stop offset="0.559" stop-color="#d70048"/><stop offset="0.657" stop-color="#d90046"/><stop offset="0.749" stop-color="#d90046"/><stop offset="0.837" stop-color="#d70048"/><stop offset="0.921" stop-color="#d5004c"/><stop offset="1" stop-color="#d10053"/></linearGradient><linearGradient id="sb8" gradientUnits="userSpaceOnUse" x1="321.4" y1="66.7" x2="405" y2="28.8"><stop offset="0" stop-color="#bb007a"/><stop offset="0.123" stop-color="#c3006c"/><stop offset="0.241" stop-color="#ca0060"/><stop offset="0.354" stop-color="#cf0057"/><stop offset="0.461" stop-color="#d30050"/><stop offset="0.563" stop-color="#d5004b"/><stop offset="0.66" stop-color="#d60049"/><stop offset="0.752" stop-color="#d6004a"/><stop offset="0.84" stop-color="#d5004d"/><stop offset="0.922" stop-color="#d20052"/><stop offset="1" stop-color="#cd005a"/></linearGradient><linearGradient id="sb9" gradientUnits="userSpaceOnUse" x1="322.5" y1="68.8" x2="405.9" y2="30.3"><stop offset="0" stop-color="#b70082"/><stop offset="0.124" stop-color="#c00073"/><stop offset="0.243" stop-color="#c70066"/><stop offset="0.356" stop-color="#cc005c"/><stop offset="0.464" stop-color="#d00054"/><stop offset="0.566" stop-color="#d30050"/><stop offset="0.663" stop-color="#d4004e"/><stop offset="0.755" stop-color="#d4004e"/><stop offset="0.842" stop-color="#d20052"/><stop offset="0.923" stop-color="#ce0058"/><stop offset="1" stop-color="#ca0061"/></linearGradient><linearGradient id="sb10" gradientUnits="userSpaceOnUse" x1="323.5" y1="70.7" x2="406.8" y2="31.8"><stop offset="0" stop-color="#b3008a"/><stop offset="0.125" stop-color="#bc0079"/><stop offset="0.244" stop-color="#c3006c"/><stop offset="0.358" stop-color="#c90061"/><stop offset="0.466" stop-color="#ce0059"/><stop offset="0.568" stop-color="#d00054"/><stop offset="0.665" stop-color="#d20052"/><stop offset="0.757" stop-color="#d10053"/><stop offset="0.843" stop-color="#cf0057"/><stop offset="0.924" stop-color="#cb005d"/><stop offset="1" stop-color="#c60067"/></linearGradient><linearGradient id="sb11" gradientUnits="userSpaceOnUse" x1="324.5" y1="72.6" x2="407.7" y2="33.1"><stop offset="0" stop-color="#af0091"/><stop offset="0.126" stop-color="#b80080"/><stop offset="0.245" stop-color="#c00072"/><stop offset="0.359" stop-color="#c60067"/><stop offset="0.467" stop-color="#cb005e"/><stop offset="0.57" stop-color="#ce0059"/><stop offset="0.667" stop-color="#cf0057"/><stop offset="0.758" stop-color="#ce0058"/><stop offset="0.844" stop-color="#cc005c"/><stop offset="0.925" stop-color="#c80063"/><stop offset="1" stop-color="#c3006d"/></linearGradient><linearGradient id="sb12" gradientUnits="userSpaceOnUse" x1="325.5" y1="74.4" x2="408.6" y2="34.4"><stop offset="0" stop-color="#ab0098"/><stop offset="0.126" stop-color="#b50086"/><stop offset="0.246" stop-color="#bd0078"/><stop offset="0.36" stop-color="#c3006c"/><stop offset="0.469" stop-color="#c80064"/><stop offset="0.571" stop-color="#cb005f"/><stop offset="0.668" stop-color="#cc005c"/><stop offset="0.759" stop-color="#cc005d"/><stop offset="0.845" stop-color="#c90061"/><stop offset="0.925" stop-color="#c60068"/><stop offset="1" stop-color="#c00072"/></linearGradient><linearGradient id="sb13" gradientUnits="userSpaceOnUse" x1="326.6" y1="76.3" x2="409.5" y2="35.7"><stop offset="0" stop-color="#a7009f"/><stop offset="0.126" stop-color="#b1008d"/><stop offset="0.247" stop-color="#b9007e"/><stop offset="0.361" stop-color="#c00072"/><stop offset="0.47" stop-color="#c50069"/><stop offset="0.572" stop-color="#c80064"/><stop offset="0.669" stop-color="#c90062"/><stop offset="0.76" stop-color="#c90062"/><stop offset="0.846" stop-color="#c60066"/><stop offset="0.925" stop-color="#c3006d"/><stop offset="1" stop-color="#bd0078"/></linearGradient><linearGradient id="sb14" gradientUnits="userSpaceOnUse" x1="327.6" y1="78.1" x2="410.4" y2="37.1"><stop offset="0" stop-color="#a300a6"/><stop offset="0.127" stop-color="#ae0093"/><stop offset="0.248" stop-color="#b60084"/><stop offset="0.362" stop-color="#bd0078"/><stop offset="0.471" stop-color="#c2006f"/><stop offset="0.574" stop-color="#c50069"/><stop offset="0.67" stop-color="#c60067"/><stop offset="0.761" stop-color="#c60068"/><stop offset="0.846" stop-color="#c4006c"/><stop offset="0.926" stop-color="#c00073"/><stop offset="1" stop-color="#ba007d"/></linearGradient><linearGradient id="sb15" gradientUnits="userSpaceOnUse" x1="328.6" y1="80" x2="411.3" y2="38.4"><stop offset="0" stop-color="#a000ad"/><stop offset="0.127" stop-color="#aa009a"/><stop offset="0.249" stop-color="#b3008a"/><stop offset="0.364" stop-color="#ba007e"/><stop offset="0.472" stop-color="#bf0074"/><stop offset="0.575" stop-color="#c2006f"/><stop offset="0.672" stop-color="#c3006c"/><stop offset="0.762" stop-color="#c3006d"/><stop offset="0.847" stop-color="#c10071"/><stop offset="0.926" stop-color="#bd0078"/><stop offset="1" stop-color="#b70083"/></linearGradient><linearGradient id="sb16" gradientUnits="userSpaceOnUse" x1="329.6" y1="81.8" x2="412.2" y2="39.9"><stop offset="0" stop-color="#9c00b4"/><stop offset="0.128" stop-color="#a600a0"/><stop offset="0.25" stop-color="#af0090"/><stop offset="0.365" stop-color="#b60083"/><stop offset="0.474" stop-color="#bc007a"/><stop offset="0.577" stop-color="#bf0074"/><stop offset="0.673" stop-color="#c00071"/><stop offset="0.764" stop-color="#c00072"/><stop offset="0.848" stop-color="#bd0077"/><stop offset="0.927" stop-color="#b9007e"/><stop offset="1" stop-color="#b30089"/></linearGradient><linearGradient id="sb17" gradientUnits="userSpaceOnUse" x1="330.6" y1="83.7" x2="413" y2="41.5"><stop offset="0" stop-color="#9800bb"/><stop offset="0.129" stop-color="#a300a7"/><stop offset="0.251" stop-color="#ac0096"/><stop offset="0.366" stop-color="#b30089"/><stop offset="0.476" stop-color="#b9007f"/><stop offset="0.578" stop-color="#bc0079"/><stop offset="0.675" stop-color="#bd0077"/><stop offset="0.765" stop-color="#bd0078"/><stop offset="0.849" stop-color="#ba007d"/><stop offset="0.928" stop-color="#b60085"/><stop offset="1" stop-color="#af0090"/></linearGradient><linearGradient id="sb18" gradientUnits="userSpaceOnUse" x1="331.7" y1="85.5" x2="413.9" y2="43.1"><stop offset="0" stop-color="#9400c2"/><stop offset="0.129" stop-color="#9f00ad"/><stop offset="0.252" stop-color="#a9009c"/><stop offset="0.368" stop-color="#b0008f"/><stop offset="0.477" stop-color="#b60085"/><stop offset="0.58" stop-color="#b9007f"/><stop offset="0.677" stop-color="#ba007d"/><stop offset="0.767" stop-color="#b9007e"/><stop offset="0.851" stop-color="#b70083"/><stop offset="0.928" stop-color="#b2008b"/><stop offset="1" stop-color="#ab0098"/></linearGradient><linearGradient id="sb19" gradientUnits="userSpaceOnUse" x1="332.7" y1="87.3" x2="414.8" y2="44.8"><stop offset="0" stop-color="#9000c8"/><stop offset="0.13" stop-color="#9c00b3"/><stop offset="0.253" stop-color="#a600a2"/><stop offset="0.369" stop-color="#ad0094"/><stop offset="0.479" stop-color="#b2008b"/><stop offset="0.582" stop-color="#b60085"/><stop offset="0.678" stop-color="#b70082"/><stop offset="0.768" stop-color="#b60084"/><stop offset="0.851" stop-color="#b30089"/><stop offset="0.929" stop-color="#ae0092"/><stop offset="1" stop-color="#a7009f"/></linearGradient><linearGradient id="sb20" gradientUnits="userSpaceOnUse" x1="333.7" y1="89" x2="415.7" y2="46.5"><stop offset="0" stop-color="#8d00cf"/><stop offset="0.13" stop-color="#9900b9"/><stop offset="0.254" stop-color="#a200a8"/><stop offset="0.37" stop-color="#aa009a"/><stop offset="0.48" stop-color="#af0090"/><stop offset="0.583" stop-color="#b3008a"/><stop offset="0.679" stop-color="#b40088"/><stop offset="0.769" stop-color="#b3008a"/><stop offset="0.852" stop-color="#b00090"/><stop offset="0.929" stop-color="#a09"/><stop offset="1" stop-color="#a300a6"/></linearGradient><linearGradient id="sb21" gradientUnits="userSpaceOnUse" x1="334.7" y1="90.7" x2="416.6" y2="48.2"><stop offset="0" stop-color="#8900d5"/><stop offset="0.131" stop-color="#9500bf"/><stop offset="0.254" stop-color="#9f00ae"/><stop offset="0.371" stop-color="#a700a0"/><stop offset="0.481" stop-color="#ac0096"/><stop offset="0.584" stop-color="#af0090"/><stop offset="0.68" stop-color="#b0008e"/><stop offset="0.77" stop-color="#af0090"/><stop offset="0.853" stop-color="#ac0096"/><stop offset="0.93" stop-color="#a700a0"/><stop offset="1" stop-color="#9f00ae"/></linearGradient><linearGradient id="sb22" gradientUnits="userSpaceOnUse" x1="335.7" y1="92.4" x2="417.5" y2="49.8"><stop offset="0" stop-color="#8600db"/><stop offset="0.131" stop-color="#9200c5"/><stop offset="0.255" stop-color="#9c00b4"/><stop offset="0.372" stop-color="#a300a6"/><stop offset="0.482" stop-color="#a9009c"/><stop offset="0.585" stop-color="#ac0096"/><stop offset="0.681" stop-color="#ad0094"/><stop offset="0.771" stop-color="#ac0097"/><stop offset="0.854" stop-color="#a8009d"/><stop offset="0.93" stop-color="#a300a7"/><stop offset="1" stop-color="#9b00b5"/></linearGradient><linearGradient id="sb23" gradientUnits="userSpaceOnUse" x1="336.7" y1="93.9" x2="418.4" y2="51.4"><stop offset="0" stop-color="#8300e1"/><stop offset="0.131" stop-color="#8f00cb"/><stop offset="0.255" stop-color="#9900b9"/><stop offset="0.372" stop-color="#a000ac"/><stop offset="0.482" stop-color="#a500a2"/><stop offset="0.585" stop-color="#a9009d"/><stop offset="0.681" stop-color="#a9009b"/><stop offset="0.771" stop-color="#a8009d"/><stop offset="0.854" stop-color="#a500a3"/><stop offset="0.93" stop-color="#9f00ae"/><stop offset="1" stop-color="#9700bc"/></linearGradient><linearGradient id="sb24" gradientUnits="userSpaceOnUse" x1="337.7" y1="95.3" x2="419.3" y2="53.1"><stop offset="0" stop-color="#8000e6"/><stop offset="0.131" stop-color="#8c00d0"/><stop offset="0.255" stop-color="#9500bf"/><stop offset="0.372" stop-color="#9d00b2"/><stop offset="0.482" stop-color="#a200a8"/><stop offset="0.585" stop-color="#a500a3"/><stop offset="0.681" stop-color="#a600a1"/><stop offset="0.771" stop-color="#a400a4"/><stop offset="0.853" stop-color="#a100aa"/><stop offset="0.93" stop-color="#9b00b5"/><stop offset="1" stop-color="#9300c3"/></linearGradient><linearGradient id="sb25" gradientUnits="userSpaceOnUse" x1="338.7" y1="96.6" x2="420.2" y2="54.7"><stop offset="0" stop-color="#7e00ea"/><stop offset="0.131" stop-color="#8900d5"/><stop offset="0.254" stop-color="#9200c5"/><stop offset="0.371" stop-color="#9a00b8"/><stop offset="0.481" stop-color="#9e00af"/><stop offset="0.584" stop-color="#a100aa"/><stop offset="0.68" stop-color="#a200a8"/><stop offset="0.77" stop-color="#a100ab"/><stop offset="0.853" stop-color="#9d00b1"/><stop offset="0.93" stop-color="#9700bc"/><stop offset="1" stop-color="#8f00ca"/></linearGradient><linearGradient id="sb26" gradientUnits="userSpaceOnUse" x1="339.7" y1="97.9" x2="421.1" y2="56.2"><stop offset="0" stop-color="#7b00ee"/><stop offset="0.13" stop-color="#8600da"/><stop offset="0.254" stop-color="#8f00ca"/><stop offset="0.37" stop-color="#9600be"/><stop offset="0.48" stop-color="#9b00b5"/><stop offset="0.583" stop-color="#9e00b0"/><stop offset="0.679" stop-color="#9e00af"/><stop offset="0.769" stop-color="#9d00b2"/><stop offset="0.852" stop-color="#9900b9"/><stop offset="0.929" stop-color="#9300c3"/><stop offset="1" stop-color="#8c00d1"/></linearGradient><linearGradient id="sb27" gradientUnits="userSpaceOnUse" x1="340.7" y1="99" x2="421.9" y2="57.7"><stop offset="0" stop-color="#7900f2"/><stop offset="0.13" stop-color="#8400df"/><stop offset="0.253" stop-color="#8c00cf"/><stop offset="0.369" stop-color="#9300c4"/><stop offset="0.478" stop-color="#9700bb"/><stop offset="0.581" stop-color="#9a00b7"/><stop offset="0.678" stop-color="#9a00b6"/><stop offset="0.768" stop-color="#9900b9"/><stop offset="0.851" stop-color="#9500c0"/><stop offset="0.929" stop-color="#9000ca"/><stop offset="1" stop-color="#8800d8"/></linearGradient><linearGradient id="sb28" gradientUnits="userSpaceOnUse" x1="341.7" y1="100.1" x2="422.8" y2="59.2"><stop offset="0" stop-color="#7700f5"/><stop offset="0.129" stop-color="#8200e3"/><stop offset="0.252" stop-color="#8a00d4"/><stop offset="0.368" stop-color="#9000c9"/><stop offset="0.477" stop-color="#9400c2"/><stop offset="0.58" stop-color="#9600be"/><stop offset="0.676" stop-color="#9700bd"/><stop offset="0.766" stop-color="#9500c0"/><stop offset="0.85" stop-color="#9100c6"/><stop offset="0.928" stop-color="#8c00d1"/><stop offset="1" stop-color="#8400de"/></linearGradient><linearGradient id="sb29" gradientUnits="userSpaceOnUse" x1="342.6" y1="101.2" x2="423.7" y2="60.7"><stop offset="0" stop-color="#7601f7"/><stop offset="0.129" stop-color="#7f00e7"/><stop offset="0.251" stop-color="#8700da"/><stop offset="0.366" stop-color="#8d00cf"/><stop offset="0.475" stop-color="#9100c8"/><stop offset="0.578" stop-color="#9300c4"/><stop offset="0.675" stop-color="#9300c4"/><stop offset="0.765" stop-color="#9100c7"/><stop offset="0.849" stop-color="#8e00cd"/><stop offset="0.927" stop-color="#8800d7"/><stop offset="1" stop-color="#8100e4"/></linearGradient><linearGradient id="sb30" gradientUnits="userSpaceOnUse" x1="343.6" y1="102.3" x2="424.6" y2="62.1"><stop offset="0" stop-color="#7404f4"/><stop offset="0.128" stop-color="#7d00ec"/><stop offset="0.25" stop-color="#8400de"/><stop offset="0.365" stop-color="#8a00d5"/><stop offset="0.474" stop-color="#8d00ce"/><stop offset="0.577" stop-color="#8f00ca"/><stop offset="0.673" stop-color="#8f00ca"/><stop offset="0.764" stop-color="#8e00cd"/><stop offset="0.848" stop-color="#8a00d4"/><stop offset="0.927" stop-color="#8500de"/><stop offset="1" stop-color="#7d00ea"/></linearGradient><linearGradient id="sb31" gradientUnits="userSpaceOnUse" x1="344.6" y1="103.4" x2="425.5" y2="63.5"><stop offset="0" stop-color="#7208f1"/><stop offset="0.128" stop-color="#7b00f0"/><stop offset="0.249" stop-color="#8100e3"/><stop offset="0.364" stop-color="#8700da"/><stop offset="0.472" stop-color="#8a00d4"/><stop offset="0.575" stop-color="#8c00d1"/><stop offset="0.672" stop-color="#8c00d1"/><stop offset="0.762" stop-color="#8a00d4"/><stop offset="0.847" stop-color="#8600da"/><stop offset="0.926" stop-color="#8100e4"/><stop offset="1" stop-color="#7a00f0"/></linearGradient><linearGradient id="sb32" gradientUnits="userSpaceOnUse" x1="345.6" y1="104.4" x2="426.4" y2="64.9"><stop offset="0" stop-color="#710bed"/><stop offset="0.127" stop-color="#7800f4"/><stop offset="0.248" stop-color="#7f00e8"/><stop offset="0.362" stop-color="#8400df"/><stop offset="0.471" stop-color="#8700da"/><stop offset="0.573" stop-color="#8800d7"/><stop offset="0.67" stop-color="#8800d7"/><stop offset="0.761" stop-color="#8600da"/><stop offset="0.846" stop-color="#8300e1"/><stop offset="0.926" stop-color="#7e00ea"/><stop offset="1" stop-color="#7700f6"/></linearGradient><linearGradient id="sb33" gradientUnits="userSpaceOnUse" x1="346.6" y1="105.4" x2="427.3" y2="66.2"><stop offset="0" stop-color="#700eeb"/><stop offset="0.126" stop-color="#7600f7"/><stop offset="0.247" stop-color="#7c00ed"/><stop offset="0.361" stop-color="#8100e5"/><stop offset="0.469" stop-color="#8400df"/><stop offset="0.571" stop-color="#8500dd"/><stop offset="0.668" stop-color="#8500de"/><stop offset="0.759" stop-color="#8300e1"/><stop offset="0.845" stop-color="#7f00e7"/><stop offset="0.925" stop-color="#7a00f0"/><stop offset="1" stop-color="#7404f4"/></linearGradient><linearGradient id="sb34" gradientUnits="userSpaceOnUse" x1="347.5" y1="106.2" x2="428.2" y2="67.5"><stop offset="0" stop-color="#6f10e9"/><stop offset="0.125" stop-color="#7503f5"/><stop offset="0.245" stop-color="#7a00f1"/><stop offset="0.359" stop-color="#7e00ea"/><stop offset="0.467" stop-color="#8000e5"/><stop offset="0.569" stop-color="#8100e3"/><stop offset="0.666" stop-color="#8100e4"/><stop offset="0.757" stop-color="#7f00e7"/><stop offset="0.843" stop-color="#7c00ed"/><stop offset="0.924" stop-color="#7700f6"/><stop offset="1" stop-color="#7209ef"/></linearGradient><linearGradient id="sb35" gradientUnits="userSpaceOnUse" x1="348.5" y1="106.8" x2="429.1" y2="68.8"><stop offset="0" stop-color="#6e11e8"/><stop offset="0.125" stop-color="#7306f3"/><stop offset="0.243" stop-color="#7800f5"/><stop offset="0.357" stop-color="#7b00ef"/><stop offset="0.464" stop-color="#7d00eb"/><stop offset="0.567" stop-color="#7e00e9"/><stop offset="0.663" stop-color="#7e00ea"/><stop offset="0.755" stop-color="#7c00ee"/><stop offset="0.842" stop-color="#7800f3"/><stop offset="0.923" stop-color="#7404f4"/><stop offset="1" stop-color="#6f0fea"/></linearGradient><linearGradient id="sb36" gradientUnits="userSpaceOnUse" x1="349.5" y1="107.4" x2="430" y2="70.1"><stop offset="0" stop-color="#6e12e6"/><stop offset="0.124" stop-color="#7208f0"/><stop offset="0.242" stop-color="#7600f8"/><stop offset="0.354" stop-color="#7900f3"/><stop offset="0.462" stop-color="#7a00f0"/><stop offset="0.564" stop-color="#7b00ef"/><stop offset="0.661" stop-color="#7a00f1"/><stop offset="0.753" stop-color="#7800f4"/><stop offset="0.84" stop-color="#7502f6"/><stop offset="0.922" stop-color="#710aef"/><stop offset="1" stop-color="#6d14e5"/></linearGradient><linearGradient id="sb37" gradientUnits="userSpaceOnUse" x1="350.4" y1="108" x2="430.9" y2="71.3"><stop offset="0" stop-color="#6d13e6"/><stop offset="0.123" stop-color="#710bee"/><stop offset="0.24" stop-color="#7404f4"/><stop offset="0.352" stop-color="#7600f8"/><stop offset="0.459" stop-color="#7700f6"/><stop offset="0.561" stop-color="#7800f5"/><stop offset="0.658" stop-color="#7700f7"/><stop offset="0.75" stop-color="#7502f6"/><stop offset="0.838" stop-color="#7208f0"/><stop offset="0.921" stop-color="#6f10e9"/><stop offset="1" stop-color="#6a19e0"/></linearGradient><linearGradient id="sb38" gradientUnits="userSpaceOnUse" x1="351.4" y1="108.6" x2="431.8" y2="72.5"><stop offset="0" stop-color="#6d14e5"/><stop offset="0.122" stop-color="#700deb"/><stop offset="0.238" stop-color="#7208f0"/><stop offset="0.35" stop-color="#7405f3"/><stop offset="0.456" stop-color="#7503f5"/><stop offset="0.558" stop-color="#7503f5"/><stop offset="0.655" stop-color="#7405f3"/><stop offset="0.748" stop-color="#7209f0"/><stop offset="0.836" stop-color="#6f0eea"/><stop offset="0.92" stop-color="#6c15e3"/><stop offset="1" stop-color="#681edb"/></linearGradient><linearGradient id="sb39" gradientUnits="userSpaceOnUse" x1="352.4" y1="109.3" x2="432.7" y2="73.6"><stop offset="0" stop-color="#6c15e3"/><stop offset="0.121" stop-color="#6f10e9"/><stop offset="0.237" stop-color="#700cec"/><stop offset="0.348" stop-color="#720aef"/><stop offset="0.454" stop-color="#7209f0"/><stop offset="0.556" stop-color="#7209ef"/><stop offset="0.653" stop-color="#710bed"/><stop offset="0.746" stop-color="#6f0fe9"/><stop offset="0.835" stop-color="#6d14e4"/><stop offset="0.919" stop-color="#6a1bde"/><stop offset="1" stop-color="#6623d6"/></linearGradient><linearGradient id="sb40" gradientUnits="userSpaceOnUse" x1="353.4" y1="110" x2="433.6" y2="74.8"><stop offset="0" stop-color="#6b17e2"/><stop offset="0.12" stop-color="#6d13e6"/><stop offset="0.235" stop-color="#6f10e8"/><stop offset="0.346" stop-color="#6f0fea"/><stop offset="0.452" stop-color="#6f0eea"/><stop offset="0.553" stop-color="#6f0fe9"/><stop offset="0.651" stop-color="#6e12e7"/><stop offset="0.744" stop-color="#6c15e3"/><stop offset="0.833" stop-color="#6a1adf"/><stop offset="0.918" stop-color="#6720d9"/><stop offset="1" stop-color="#6428d2"/></linearGradient><linearGradient id="sb41" gradientUnits="userSpaceOnUse" x1="354.4" y1="110.8" x2="434.5" y2="75.9"><stop offset="0" stop-color="#6a19e0"/><stop offset="0.119" stop-color="#6c16e2"/><stop offset="0.234" stop-color="#6d14e4"/><stop offset="0.344" stop-color="#6d14e5"/><stop offset="0.449" stop-color="#6d14e5"/><stop offset="0.551" stop-color="#6c15e3"/><stop offset="0.648" stop-color="#6b18e1"/><stop offset="0.742" stop-color="#691bde"/><stop offset="0.832" stop-color="#6720d9"/><stop offset="0.918" stop-color="#6525d4"/><stop offset="1" stop-color="#622ccd"/></linearGradient><linearGradient id="sb42" gradientUnits="userSpaceOnUse" x1="355.3" y1="111.7" x2="435.4" y2="77"><stop offset="0" stop-color="#691bde"/><stop offset="0.118" stop-color="#6a19df"/><stop offset="0.232" stop-color="#6b19e0"/><stop offset="0.342" stop-color="#6b19e0"/><stop offset="0.447" stop-color="#6a19df"/><stop offset="0.549" stop-color="#691bde"/><stop offset="0.646" stop-color="#681edb"/><stop offset="0.74" stop-color="#6721d8"/><stop offset="0.83" stop-color="#6525d4"/><stop offset="0.917" stop-color="#622acf"/><stop offset="1" stop-color="#6030c9"/></linearGradient><linearGradient id="sb43" gradientUnits="userSpaceOnUse" x1="356.3" y1="112.5" x2="436.3" y2="78"><stop offset="0" stop-color="#681ddc"/><stop offset="0.118" stop-color="#691ddc"/><stop offset="0.231" stop-color="#691ddc"/><stop offset="0.34" stop-color="#681edb"/><stop offset="0.445" stop-color="#681fda"/><stop offset="0.546" stop-color="#6721d8"/><stop offset="0.644" stop-color="#6624d5"/><stop offset="0.738" stop-color="#6427d2"/><stop offset="0.829" stop-color="#622bcf"/><stop offset="0.916" stop-color="#602fca"/><stop offset="1" stop-color="#5e34c5"/></linearGradient><linearGradient id="sb44" gradientUnits="userSpaceOnUse" x1="357.3" y1="113.2" x2="437.3" y2="78.9"><stop offset="0" stop-color="#681fda"/><stop offset="0.117" stop-color="#6720d9"/><stop offset="0.229" stop-color="#6721d8"/><stop offset="0.338" stop-color="#6622d7"/><stop offset="0.443" stop-color="#6524d5"/><stop offset="0.544" stop-color="#6427d2"/><stop offset="0.642" stop-color="#6329d0"/><stop offset="0.736" stop-color="#612ccd"/><stop offset="0.827" stop-color="#6030c9"/><stop offset="0.915" stop-color="#5e34c6"/><stop offset="1" stop-color="#5c38c2"/></linearGradient><linearGradient id="sb45" gradientUnits="userSpaceOnUse" x1="358.3" y1="113.8" x2="438.2" y2="79.9"><stop offset="0" stop-color="#6720d9"/><stop offset="0.116" stop-color="#6622d7"/><stop offset="0.228" stop-color="#6524d5"/><stop offset="0.336" stop-color="#6427d2"/><stop offset="0.44" stop-color="#6329d0"/><stop offset="0.541" stop-color="#622ccd"/><stop offset="0.639" stop-color="#602fca"/><stop offset="0.734" stop-color="#5f32c8"/><stop offset="0.825" stop-color="#5e35c5"/><stop offset="0.914" stop-color="#5c38c1"/><stop offset="1" stop-color="#5b3bbe"/></linearGradient><linearGradient id="sb46" gradientUnits="userSpaceOnUse" x1="359.3" y1="114.3" x2="439.1" y2="80.8"><stop offset="0" stop-color="#6720d9"/><stop offset="0.115" stop-color="#6524d5"/><stop offset="0.226" stop-color="#6428d2"/><stop offset="0.333" stop-color="#622bce"/><stop offset="0.438" stop-color="#612ecb"/><stop offset="0.538" stop-color="#5f31c8"/><stop offset="0.636" stop-color="#5e34c5"/><stop offset="0.731" stop-color="#5c37c2"/><stop offset="0.823" stop-color="#5b3ac0"/><stop offset="0.913" stop-color="#5a3cbd"/><stop offset="1" stop-color="#593fbb"/></linearGradient><linearGradient id="sb47" gradientUnits="userSpaceOnUse" x1="360.3" y1="114.7" x2="440" y2="81.6"><stop offset="0" stop-color="#6720d9"/><stop offset="0.114" stop-color="#6526d3"/><stop offset="0.224" stop-color="#622bcf"/><stop offset="0.331" stop-color="#602fca"/><stop offset="0.435" stop-color="#5e33c6"/><stop offset="0.535" stop-color="#5d37c3"/><stop offset="0.633" stop-color="#5b3ac0"/><stop offset="0.729" stop-color="#5a3cbd"/><stop offset="0.821" stop-color="#593fbb"/><stop offset="0.912" stop-color="#5840b9"/><stop offset="1" stop-color="#5842b8"/></linearGradient><linearGradient id="sb48" gradientUnits="userSpaceOnUse" x1="361.3" y1="115.1" x2="440.9" y2="82.4"><stop offset="0" stop-color="#6720d9"/><stop offset="0.113" stop-color="#6427d2"/><stop offset="0.222" stop-color="#612ecc"/><stop offset="0.328" stop-color="#5e33c6"/><stop offset="0.432" stop-color="#5c38c2"/><stop offset="0.532" stop-color="#5a3cbe"/><stop offset="0.63" stop-color="#593fbb"/><stop offset="0.726" stop-color="#5842b8"/><stop offset="0.819" stop-color="#5743b7"/><stop offset="0.911" stop-color="#5644b6"/><stop offset="1" stop-color="#5644b5"/></linearGradient><linearGradient id="sb49" gradientUnits="userSpaceOnUse" x1="362.3" y1="115.5" x2="441.9" y2="83.1"><stop offset="0" stop-color="#6720d9"/><stop offset="0.112" stop-color="#6329d0"/><stop offset="0.22" stop-color="#6031c9"/><stop offset="0.326" stop-color="#5d37c2"/><stop offset="0.429" stop-color="#5a3cbd"/><stop offset="0.529" stop-color="#5841b9"/><stop offset="0.627" stop-color="#5644b6"/><stop offset="0.723" stop-color="#5546b4"/><stop offset="0.817" stop-color="#5548b2"/><stop offset="0.91" stop-color="#5548b2"/><stop offset="1" stop-color="#5547b3"/></linearGradient><linearGradient id="sb50" gradientUnits="userSpaceOnUse" x1="363.2" y1="115.9" x2="442.8" y2="83.8"><stop offset="0" stop-color="#6720d9"/><stop offset="0.11" stop-color="#622bcf"/><stop offset="0.218" stop-color="#5e33c6"/><stop offset="0.323" stop-color="#5b3bbf"/><stop offset="0.426" stop-color="#5841b9"/><stop offset="0.526" stop-color="#5646b4"/><stop offset="0.624" stop-color="#5449b1"/><stop offset="0.721" stop-color="#534baf"/><stop offset="0.815" stop-color="#534cae"/><stop offset="0.908" stop-color="#534baf"/><stop offset="1" stop-color="#5448b2"/></linearGradient><linearGradient id="sb51" gradientUnits="userSpaceOnUse" x1="364.2" y1="116.3" x2="443.7" y2="84.3"><stop offset="0" stop-color="#6720d9"/><stop offset="0.109" stop-color="#622ccd"/><stop offset="0.216" stop-color="#5d36c3"/><stop offset="0.32" stop-color="#593fbb"/><stop offset="0.422" stop-color="#5646b4"/><stop offset="0.523" stop-color="#534baf"/><stop offset="0.621" stop-color="#524eac"/><stop offset="0.718" stop-color="#5150ab"/><stop offset="0.813" stop-color="#514fab"/><stop offset="0.907" stop-color="#524ead"/><stop offset="1" stop-color="#544ab0"/></linearGradient><linearGradient id="sb52" gradientUnits="userSpaceOnUse" x1="365.2" y1="116.7" x2="444.7" y2="84.9"><stop offset="0" stop-color="#6720d9"/><stop offset="0.108" stop-color="#612ecc"/><stop offset="0.214" stop-color="#5c39c0"/><stop offset="0.318" stop-color="#5743b7"/><stop offset="0.419" stop-color="#544ab0"/><stop offset="0.519" stop-color="#514fab"/><stop offset="0.618" stop-color="#5053a8"/><stop offset="0.715" stop-color="#4f54a6"/><stop offset="0.811" stop-color="#5053a7"/><stop offset="0.906" stop-color="#5150aa"/><stop offset="1" stop-color="#534caf"/></linearGradient><linearGradient id="sb53" gradientUnits="userSpaceOnUse" x1="366.2" y1="116.9" x2="445.6" y2="85.5"><stop offset="0" stop-color="#6720d9"/><stop offset="0.107" stop-color="#602fcb"/><stop offset="0.212" stop-color="#5a3cbe"/><stop offset="0.315" stop-color="#5646b4"/><stop offset="0.416" stop-color="#524eac"/><stop offset="0.516" stop-color="#4f54a6"/><stop offset="0.615" stop-color="#4e57a3"/><stop offset="0.712" stop-color="#4d58a2"/><stop offset="0.809" stop-color="#4e57a3"/><stop offset="0.905" stop-color="#4f53a7"/><stop offset="1" stop-color="#524dad"/></linearGradient><linearGradient id="sb54" gradientUnits="userSpaceOnUse" x1="367.2" y1="116.9" x2="446.6" y2="86.2"><stop offset="0" stop-color="#681edb"/><stop offset="0.106" stop-color="#602fcb"/><stop offset="0.21" stop-color="#5a3dbd"/><stop offset="0.312" stop-color="#5449b1"/><stop offset="0.413" stop-color="#5052a8"/><stop offset="0.513" stop-color="#4d58a2"/><stop offset="0.612" stop-color="#4c5c9f"/><stop offset="0.71" stop-color="#4b5d9e"/><stop offset="0.807" stop-color="#4c5ba0"/><stop offset="0.904" stop-color="#4e56a4"/><stop offset="1" stop-color="#514fab"/></linearGradient><linearGradient id="sb55" gradientUnits="userSpaceOnUse" x1="368.2" y1="116.8" x2="447.5" y2="86.9"><stop offset="0" stop-color="#6a1bde"/><stop offset="0.105" stop-color="#612ecb"/><stop offset="0.208" stop-color="#593ebb"/><stop offset="0.31" stop-color="#534baf"/><stop offset="0.411" stop-color="#4e55a5"/><stop offset="0.51" stop-color="#4b5c9e"/><stop offset="0.609" stop-color="#49609a"/><stop offset="0.707" stop-color="#49619a"/><stop offset="0.805" stop-color="#4a5f9c"/><stop offset="0.903" stop-color="#4d5aa1"/><stop offset="1" stop-color="#5051a9"/></linearGradient><linearGradient id="sb56" gradientUnits="userSpaceOnUse" x1="369.2" y1="116.6" x2="448.4" y2="87.6"><stop offset="0" stop-color="#6b18e0"/><stop offset="0.104" stop-color="#612ecc"/><stop offset="0.207" stop-color="#593fba"/><stop offset="0.308" stop-color="#524eac"/><stop offset="0.408" stop-color="#4d59a2"/><stop offset="0.508" stop-color="#49619a"/><stop offset="0.606" stop-color="#476596"/><stop offset="0.705" stop-color="#476695"/><stop offset="0.803" stop-color="#486398"/><stop offset="0.902" stop-color="#4b5d9e"/><stop offset="1" stop-color="#4f54a7"/></linearGradient><linearGradient id="sb57" gradientUnits="userSpaceOnUse" x1="370.2" y1="116.5" x2="449.4" y2="88.4"><stop offset="0" stop-color="#6c16e3"/><stop offset="0.103" stop-color="#612dcc"/><stop offset="0.205" stop-color="#5841b9"/><stop offset="0.306" stop-color="#5150aa"/><stop offset="0.406" stop-color="#4b5c9e"/><stop offset="0.505" stop-color="#476596"/><stop offset="0.604" stop-color="#456992"/><stop offset="0.703" stop-color="#456a91"/><stop offset="0.802" stop-color="#466794"/><stop offset="0.901" stop-color="#49609a"/><stop offset="1" stop-color="#4e56a4"/></linearGradient><linearGradient id="sb58" gradientUnits="userSpaceOnUse" x1="371.2" y1="116.7" x2="450.3" y2="89.2"><stop offset="0" stop-color="#6c15e4"/><stop offset="0.103" stop-color="#612dcc"/><stop offset="0.204" stop-color="#5742b8"/><stop offset="0.305" stop-color="#5053a7"/><stop offset="0.404" stop-color="#4a609b"/><stop offset="0.504" stop-color="#466992"/><stop offset="0.602" stop-color="#436e8d"/><stop offset="0.701" stop-color="#436e8d"/><stop offset="0.801" stop-color="#446b90"/><stop offset="0.9" stop-color="#486497"/><stop offset="1" stop-color="#4d59a2"/></linearGradient><linearGradient id="sb59" gradientUnits="userSpaceOnUse" x1="372.2" y1="116.9" x2="451.3" y2="90.1"><stop offset="0" stop-color="#6d14e5"/><stop offset="0.102" stop-color="#612ecb"/><stop offset="0.203" stop-color="#5644b6"/><stop offset="0.303" stop-color="#4e56a4"/><stop offset="0.403" stop-color="#486497"/><stop offset="0.502" stop-color="#446d8e"/><stop offset="0.601" stop-color="#417289"/><stop offset="0.7" stop-color="#417388"/><stop offset="0.799" stop-color="#426f8c"/><stop offset="0.899" stop-color="#466893"/><stop offset="1" stop-color="#4b5c9f"/></linearGradient><linearGradient id="sb60" gradientUnits="userSpaceOnUse" x1="373.2" y1="117.2" x2="452.2" y2="91"><stop offset="0" stop-color="#6d13e5"/><stop offset="0.102" stop-color="#602fca"/><stop offset="0.203" stop-color="#5646b4"/><stop offset="0.302" stop-color="#4d59a2"/><stop offset="0.402" stop-color="#466794"/><stop offset="0.501" stop-color="#42718a"/><stop offset="0.6" stop-color="#3f7685"/><stop offset="0.699" stop-color="#3f7784"/><stop offset="0.799" stop-color="#407487"/><stop offset="0.899" stop-color="#446c8f"/><stop offset="1" stop-color="#4a5f9b"/></linearGradient><linearGradient id="sb61" gradientUnits="userSpaceOnUse" x1="374.3" y1="117.5" x2="453.1" y2="92.1"><stop offset="0" stop-color="#6d13e6"/><stop offset="0.102" stop-color="#6030c9"/><stop offset="0.202" stop-color="#5548b2"/><stop offset="0.302" stop-color="#4b5c9f"/><stop offset="0.401" stop-color="#446b90"/><stop offset="0.5" stop-color="#407586"/><stop offset="0.599" stop-color="#3d7b80"/><stop offset="0.698" stop-color="#3c7c7f"/><stop offset="0.798" stop-color="#3e7983"/><stop offset="0.899" stop-color="#42718b"/><stop offset="1" stop-color="#486497"/></linearGradient><linearGradient id="sb62" gradientUnits="userSpaceOnUse" x1="375.3" y1="117.8" x2="454.1" y2="93.3"><stop offset="0" stop-color="#6d12e6"/><stop offset="0.101" stop-color="#5f31c8"/><stop offset="0.202" stop-color="#544ab0"/><stop offset="0.301" stop-color="#4a5f9b"/><stop offset="0.4" stop-color="#436f8c"/><stop offset="0.499" stop-color="#3d7a81"/><stop offset="0.598" stop-color="#3b807b"/><stop offset="0.698" stop-color="#3a827a"/><stop offset="0.798" stop-color="#3c7e7e"/><stop offset="0.898" stop-color="#407586"/><stop offset="1" stop-color="#466893"/></linearGradient><linearGradient id="sb63" gradientUnits="userSpaceOnUse" x1="376.3" y1="118.2" x2="455" y2="94.5"><stop offset="0" stop-color="#6e12e6"/><stop offset="0.101" stop-color="#5f32c7"/><stop offset="0.201" stop-color="#524dad"/><stop offset="0.301" stop-color="#486398"/><stop offset="0.4" stop-color="#417388"/><stop offset="0.499" stop-color="#3b7f7d"/><stop offset="0.598" stop-color="#388576"/><stop offset="0.697" stop-color="#388775"/><stop offset="0.797" stop-color="#398378"/><stop offset="0.898" stop-color="#3d7b81"/><stop offset="1" stop-color="#446d8e"/></linearGradient><linearGradient id="sb64" gradientUnits="userSpaceOnUse" x1="377.4" y1="118.6" x2="455.9" y2="95.7"><stop offset="0" stop-color="#6e12e6"/><stop offset="0.101" stop-color="#5e33c6"/><stop offset="0.201" stop-color="#514fab"/><stop offset="0.301" stop-color="#476695"/><stop offset="0.4" stop-color="#3f7784"/><stop offset="0.498" stop-color="#398378"/><stop offset="0.597" stop-color="#368a71"/><stop offset="0.697" stop-color="#358c70"/><stop offset="0.797" stop-color="#378873"/><stop offset="0.898" stop-color="#3b807c"/><stop offset="1" stop-color="#417289"/></linearGradient><linearGradient id="sb65" gradientUnits="userSpaceOnUse" x1="378.4" y1="119.2" x2="456.9" y2="96.8"><stop offset="0" stop-color="#6d13e5"/><stop offset="0.101" stop-color="#5d35c4"/><stop offset="0.201" stop-color="#5052a8"/><stop offset="0.301" stop-color="#456992"/><stop offset="0.4" stop-color="#3d7b80"/><stop offset="0.498" stop-color="#378874"/><stop offset="0.597" stop-color="#348f6d"/><stop offset="0.697" stop-color="#33916b"/><stop offset="0.797" stop-color="#358d6e"/><stop offset="0.898" stop-color="#398577"/><stop offset="1" stop-color="#3f7685"/></linearGradient><linearGradient id="sb66" gradientUnits="userSpaceOnUse" x1="379.5" y1="120.1" x2="457.8" y2="98.1"><stop offset="0" stop-color="#6c15e4"/><stop offset="0.101" stop-color="#5c38c2"/><stop offset="0.201" stop-color="#4f55a6"/><stop offset="0.301" stop-color="#446c8f"/><stop offset="0.4" stop-color="#3b7f7d"/><stop offset="0.499" stop-color="#358c70"/><stop offset="0.597" stop-color="#329369"/><stop offset="0.697" stop-color="#319567"/><stop offset="0.797" stop-color="#32926a"/><stop offset="0.898" stop-color="#368972"/><stop offset="1" stop-color="#3d7b80"/></linearGradient><linearGradient id="sb67" gradientUnits="userSpaceOnUse" x1="380.5" y1="121.1" x2="458.7" y2="99.3"><stop offset="0" stop-color="#6b18e1"/><stop offset="0.102" stop-color="#5b3abf"/><stop offset="0.202" stop-color="#4d58a3"/><stop offset="0.301" stop-color="#426f8c"/><stop offset="0.4" stop-color="#3a827a"/><stop offset="0.499" stop-color="#348f6d"/><stop offset="0.598" stop-color="#309765"/><stop offset="0.697" stop-color="#2f9963"/><stop offset="0.797" stop-color="#309666"/><stop offset="0.898" stop-color="#348e6e"/><stop offset="1" stop-color="#3b817b"/></linearGradient><linearGradient id="sb68" gradientUnits="userSpaceOnUse" x1="381.6" y1="122.2" x2="459.7" y2="100.6"><stop offset="0" stop-color="#691bde"/><stop offset="0.102" stop-color="#5a3dbc"/><stop offset="0.203" stop-color="#4c5aa0"/><stop offset="0.302" stop-color="#417289"/><stop offset="0.401" stop-color="#398477"/><stop offset="0.5" stop-color="#33926a"/><stop offset="0.599" stop-color="#2f9a62"/><stop offset="0.698" stop-color="#2e9d60"/><stop offset="0.798" stop-color="#2f9a62"/><stop offset="0.898" stop-color="#32926a"/><stop offset="1" stop-color="#388676"/></linearGradient><linearGradient id="sb69" gradientUnits="userSpaceOnUse" x1="382.6" y1="123.4" x2="460.6" y2="101.8"><stop offset="0" stop-color="#681fda"/><stop offset="0.102" stop-color="#5840b9"/><stop offset="0.203" stop-color="#4b5d9e"/><stop offset="0.303" stop-color="#407487"/><stop offset="0.402" stop-color="#388775"/><stop offset="0.501" stop-color="#319468"/><stop offset="0.6" stop-color="#2e9c60"/><stop offset="0.699" stop-color="#2c9f5d"/><stop offset="0.799" stop-color="#2d9e5f"/><stop offset="0.899" stop-color="#309666"/><stop offset="1" stop-color="#368a71"/></linearGradient><linearGradient id="sb70" gradientUnits="userSpaceOnUse" x1="383.7" y1="124.6" x2="461.5" y2="102.9"><stop offset="0" stop-color="#6622d7"/><stop offset="0.103" stop-color="#5743b7"/><stop offset="0.204" stop-color="#4a5f9b"/><stop offset="0.304" stop-color="#3f7785"/><stop offset="0.403" stop-color="#378973"/><stop offset="0.502" stop-color="#309666"/><stop offset="0.601" stop-color="#2d9f5e"/><stop offset="0.7" stop-color="#2ba25a"/><stop offset="0.799" stop-color="#2ca15c"/><stop offset="0.899" stop-color="#2f9a62"/><stop offset="1" stop-color="#348f6d"/></linearGradient><linearGradient id="sb71" gradientUnits="userSpaceOnUse" x1="384.8" y1="125.9" x2="462.5" y2="103.9"><stop offset="0" stop-color="#6426d3"/><stop offset="0.103" stop-color="#5547b3"/><stop offset="0.204" stop-color="#496298"/><stop offset="0.304" stop-color="#3e7982"/><stop offset="0.404" stop-color="#368b71"/><stop offset="0.503" stop-color="#2f9864"/><stop offset="0.602" stop-color="#2ca15c"/><stop offset="0.701" stop-color="#2aa458"/><stop offset="0.8" stop-color="#2aa359"/><stop offset="0.9" stop-color="#2d9d5f"/><stop offset="1" stop-color="#329369"/></linearGradient><linearGradient id="sb72" gradientUnits="userSpaceOnUse" x1="385.9" y1="127.3" x2="463.4" y2="104.9"><stop offset="0" stop-color="#622bce"/><stop offset="0.103" stop-color="#544bb0"/><stop offset="0.204" stop-color="#476695"/><stop offset="0.305" stop-color="#3d7c80"/><stop offset="0.404" stop-color="#358e6e"/><stop offset="0.503" stop-color="#2e9b62"/><stop offset="0.602" stop-color="#2ba359"/><stop offset="0.701" stop-color="#29a756"/><stop offset="0.8" stop-color="#29a657"/><stop offset="0.9" stop-color="#2ca05c"/><stop offset="1" stop-color="#319666"/></linearGradient><linearGradient id="sb73" gradientUnits="userSpaceOnUse" x1="387" y1="128.8" x2="464.4" y2="105.9"><stop offset="0" stop-color="#6030c9"/><stop offset="0.103" stop-color="#524fab"/><stop offset="0.204" stop-color="#456992"/><stop offset="0.305" stop-color="#3b7f7c"/><stop offset="0.404" stop-color="#33906c"/><stop offset="0.503" stop-color="#2d9d5f"/><stop offset="0.602" stop-color="#29a557"/><stop offset="0.701" stop-color="#28a953"/><stop offset="0.8" stop-color="#28a854"/><stop offset="0.9" stop-color="#2aa359"/><stop offset="1" stop-color="#2f9a63"/></linearGradient><linearGradient id="sb74" gradientUnits="userSpaceOnUse" x1="388" y1="130.4" x2="465.3" y2="106.9"><stop offset="0" stop-color="#5d36c4"/><stop offset="0.103" stop-color="#4f54a7"/><stop offset="0.204" stop-color="#436d8e"/><stop offset="0.305" stop-color="#3a8379"/><stop offset="0.404" stop-color="#329469"/><stop offset="0.504" stop-color="#2ca05c"/><stop offset="0.602" stop-color="#28a854"/><stop offset="0.701" stop-color="#26ac51"/><stop offset="0.8" stop-color="#27ac51"/><stop offset="0.9" stop-color="#29a756"/><stop offset="1" stop-color="#2d9d5f"/></linearGradient><linearGradient id="sb75" gradientUnits="userSpaceOnUse" x1="389.1" y1="132.1" x2="466.3" y2="108"><stop offset="0" stop-color="#5b3bbe"/><stop offset="0.103" stop-color="#4d59a2"/><stop offset="0.204" stop-color="#417289"/><stop offset="0.305" stop-color="#388775"/><stop offset="0.404" stop-color="#309865"/><stop offset="0.503" stop-color="#2aa459"/><stop offset="0.602" stop-color="#26ac51"/><stop offset="0.701" stop-color="#25b04d"/><stop offset="0.8" stop-color="#25af4d"/><stop offset="0.9" stop-color="#27ab52"/><stop offset="1" stop-color="#2ba25b"/></linearGradient><linearGradient id="sb76" gradientUnits="userSpaceOnUse" x1="390.2" y1="133.8" x2="467.2" y2="109.3"><stop offset="0" stop-color="#5841b9"/><stop offset="0.103" stop-color="#4a5e9c"/><stop offset="0.204" stop-color="#3f7784"/><stop offset="0.304" stop-color="#358c70"/><stop offset="0.404" stop-color="#2d9d60"/><stop offset="0.503" stop-color="#28a954"/><stop offset="0.602" stop-color="#24b14c"/><stop offset="0.701" stop-color="#22b548"/><stop offset="0.8" stop-color="#22b449"/><stop offset="0.9" stop-color="#25b04d"/><stop offset="1" stop-color="#29a756"/></linearGradient><linearGradient id="sb77" gradientUnits="userSpaceOnUse" x1="391.3" y1="135.7" x2="468.2" y2="110.8"><stop offset="0" stop-color="#5548b2"/><stop offset="0.103" stop-color="#476596"/><stop offset="0.204" stop-color="#3c7e7e"/><stop offset="0.304" stop-color="#32926a"/><stop offset="0.403" stop-color="#2ba35a"/><stop offset="0.503" stop-color="#25af4e"/><stop offset="0.602" stop-color="#21b746"/><stop offset="0.701" stop-color="#20bb42"/><stop offset="0.8" stop-color="#20ba43"/><stop offset="0.9" stop-color="#22b647"/><stop offset="1" stop-color="#26ad50"/></linearGradient><linearGradient id="sb78" gradientUnits="userSpaceOnUse" x1="392.4" y1="137.6" x2="469.1" y2="112.3"><stop offset="0" stop-color="#524fab"/><stop offset="0.102" stop-color="#446c8f"/><stop offset="0.203" stop-color="#398477"/><stop offset="0.303" stop-color="#2f9963"/><stop offset="0.403" stop-color="#28a953"/><stop offset="0.502" stop-color="#22b548"/><stop offset="0.601" stop-color="#1ebd40"/><stop offset="0.7" stop-color="#1dc13c"/><stop offset="0.8" stop-color="#1dc13d"/><stop offset="0.899" stop-color="#1fbc41"/><stop offset="1" stop-color="#23b34a"/></linearGradient><linearGradient id="sb79" gradientUnits="userSpaceOnUse" x1="393.5" y1="139.6" x2="470" y2="113.7"><stop offset="0" stop-color="#4e56a4"/><stop offset="0.102" stop-color="#417389"/><stop offset="0.203" stop-color="#368b71"/><stop offset="0.303" stop-color="#2c9f5d"/><stop offset="0.402" stop-color="#25b04d"/><stop offset="0.502" stop-color="#1fbc42"/><stop offset="0.601" stop-color="#1cc33a"/><stop offset="0.7" stop-color="#1ac736"/><stop offset="0.799" stop-color="#1ac737"/><stop offset="0.899" stop-color="#1cc23b"/><stop offset="1" stop-color="#20b944"/></linearGradient><linearGradient id="sb80" gradientUnits="userSpaceOnUse" x1="394.6" y1="141.5" x2="471" y2="115.1"><stop offset="0" stop-color="#4b5d9d"/><stop offset="0.102" stop-color="#3e7982"/><stop offset="0.203" stop-color="#33916b"/><stop offset="0.303" stop-color="#2aa557"/><stop offset="0.402" stop-color="#22b548"/><stop offset="0.501" stop-color="#1dc13c"/><stop offset="0.6" stop-color="#19c935"/><stop offset="0.7" stop-color="#17cc31"/><stop offset="0.799" stop-color="#18cc32"/><stop offset="0.899" stop-color="#1ac736"/><stop offset="1" stop-color="#1ebf3e"/></linearGradient><linearGradient id="sb81" gradientUnits="userSpaceOnUse" x1="395.7" y1="143.5" x2="471.9" y2="116.3"><stop offset="0" stop-color="#486497"/><stop offset="0.102" stop-color="#3b807c"/><stop offset="0.203" stop-color="#309765"/><stop offset="0.303" stop-color="#27ab52"/><stop offset="0.402" stop-color="#20ba43"/><stop offset="0.501" stop-color="#1bc638"/><stop offset="0.6" stop-color="#17cd30"/><stop offset="0.7" stop-color="#15d12d"/><stop offset="0.799" stop-color="#16d12d"/><stop offset="0.899" stop-color="#18cc31"/><stop offset="1" stop-color="#1bc439"/></linearGradient><linearGradient id="sb82" gradientUnits="userSpaceOnUse" x1="396.8" y1="145.4" x2="472.8" y2="117.6"><stop offset="0" stop-color="#446b90"/><stop offset="0.102" stop-color="#388676"/><stop offset="0.203" stop-color="#2e9d60"/><stop offset="0.303" stop-color="#25b04d"/><stop offset="0.403" stop-color="#1ebf3e"/><stop offset="0.502" stop-color="#18ca33"/><stop offset="0.601" stop-color="#15d22c"/><stop offset="0.7" stop-color="#13d529"/><stop offset="0.799" stop-color="#13d529"/><stop offset="0.899" stop-color="#15d12d"/><stop offset="1" stop-color="#19c935"/></linearGradient><linearGradient id="sb83" gradientUnits="userSpaceOnUse" x1="397.9" y1="147.3" x2="473.8" y2="118.8"><stop offset="0" stop-color="#417289"/><stop offset="0.102" stop-color="#358c70"/><stop offset="0.203" stop-color="#2ba25a"/><stop offset="0.303" stop-color="#22b548"/><stop offset="0.403" stop-color="#1cc33a"/><stop offset="0.502" stop-color="#17ce2f"/><stop offset="0.601" stop-color="#13d628"/><stop offset="0.7" stop-color="#12d925"/><stop offset="0.8" stop-color="#12d925"/><stop offset="0.9" stop-color="#13d529"/><stop offset="1" stop-color="#17ce30"/></linearGradient><linearGradient id="sb84" gradientUnits="userSpaceOnUse" x1="399" y1="149.3" x2="474.7" y2="120"><stop offset="0" stop-color="#3e7982"/><stop offset="0.102" stop-color="#32926a"/><stop offset="0.204" stop-color="#29a755"/><stop offset="0.304" stop-color="#20b944"/><stop offset="0.404" stop-color="#1ac836"/><stop offset="0.503" stop-color="#15d22b"/><stop offset="0.602" stop-color="#11d925"/><stop offset="0.701" stop-color="#10dd21"/><stop offset="0.8" stop-color="#10dd21"/><stop offset="0.9" stop-color="#11d924"/><stop offset="1" stop-color="#15d22b"/></linearGradient><linearGradient id="sb85" gradientUnits="userSpaceOnUse" x1="400.1" y1="151.2" x2="475.7" y2="121.2"><stop offset="0" stop-color="#3b807c"/><stop offset="0.103" stop-color="#309864"/><stop offset="0.204" stop-color="#26ad50"/><stop offset="0.304" stop-color="#1ebe3f"/><stop offset="0.404" stop-color="#18cc32"/><stop offset="0.504" stop-color="#13d628"/><stop offset="0.603" stop-color="#10dd21"/><stop offset="0.702" stop-color="#0ee11d"/><stop offset="0.801" stop-color="#0ee11d"/><stop offset="0.9" stop-color="#0fde20"/><stop offset="1" stop-color="#13d727"/></linearGradient><linearGradient id="sb86" gradientUnits="userSpaceOnUse" x1="401.2" y1="153.1" x2="476.7" y2="122.3"><stop offset="0" stop-color="#388775"/><stop offset="0.103" stop-color="#2d9e5e"/><stop offset="0.204" stop-color="#24b24b"/><stop offset="0.305" stop-color="#1cc33b"/><stop offset="0.405" stop-color="#16d02e"/><stop offset="0.504" stop-color="#11da24"/><stop offset="0.603" stop-color="#0ee11d"/><stop offset="0.702" stop-color="#0ce41a"/><stop offset="0.801" stop-color="#0ce51a"/><stop offset="0.9" stop-color="#0ee21d"/><stop offset="1" stop-color="#11db23"/></linearGradient><linearGradient id="sb87" gradientUnits="userSpaceOnUse" x1="402.2" y1="155.1" x2="477.6" y2="123.4"><stop offset="0" stop-color="#348e6e"/><stop offset="0.103" stop-color="#2aa458"/><stop offset="0.205" stop-color="#21b746"/><stop offset="0.306" stop-color="#1ac736"/><stop offset="0.406" stop-color="#14d42a"/><stop offset="0.505" stop-color="#0fde20"/><stop offset="0.604" stop-color="#0ce41a"/><stop offset="0.703" stop-color="#0be816"/><stop offset="0.802" stop-color="#0be816"/><stop offset="0.901" stop-color="#0ce519"/><stop offset="1" stop-color="#0fdf1f"/></linearGradient><linearGradient id="sb88" gradientUnits="userSpaceOnUse" x1="403.3" y1="157" x2="478.6" y2="124.5"><stop offset="0" stop-color="#319567"/><stop offset="0.103" stop-color="#27aa52"/><stop offset="0.205" stop-color="#1fbd41"/><stop offset="0.306" stop-color="#18cc32"/><stop offset="0.407" stop-color="#12d826"/><stop offset="0.506" stop-color="#0ee21d"/><stop offset="0.605" stop-color="#0be816"/><stop offset="0.704" stop-color="#09eb13"/><stop offset="0.802" stop-color="#09ec13"/><stop offset="0.901" stop-color="#0ae915"/><stop offset="1" stop-color="#0de41b"/></linearGradient><linearGradient id="sb89" gradientUnits="userSpaceOnUse" x1="404.4" y1="159" x2="479.5" y2="125.6"><stop offset="0" stop-color="#2e9c60"/><stop offset="0.104" stop-color="#24b04c"/><stop offset="0.206" stop-color="#1cc23b"/><stop offset="0.307" stop-color="#15d12d"/><stop offset="0.407" stop-color="#10dd22"/><stop offset="0.507" stop-color="#0ce519"/><stop offset="0.606" stop-color="#09ec13"/><stop offset="0.705" stop-color="#07ef10"/><stop offset="0.803" stop-color="#07ef0f"/><stop offset="0.901" stop-color="#08ed12"/><stop offset="1" stop-color="#0be817"/></linearGradient><linearGradient id="sb90" gradientUnits="userSpaceOnUse" x1="405.5" y1="160.9" x2="480.5" y2="126.7"><stop offset="0" stop-color="#2ba359"/><stop offset="0.104" stop-color="#22b746"/><stop offset="0.206" stop-color="#1ac736"/><stop offset="0.308" stop-color="#13d528"/><stop offset="0.408" stop-color="#0ee11d"/><stop offset="0.508" stop-color="#0ae915"/><stop offset="0.607" stop-color="#07ef0f"/><stop offset="0.705" stop-color="#06f20c"/><stop offset="0.804" stop-color="#06f30c"/><stop offset="0.902" stop-color="#07f10e"/><stop offset="1" stop-color="#09ec13"/></linearGradient><linearGradient id="sb91" gradientUnits="userSpaceOnUse" x1="406.6" y1="162.7" x2="481.5" y2="127.8"><stop offset="0" stop-color="#28aa53"/><stop offset="0.104" stop-color="#1fbc41"/><stop offset="0.207" stop-color="#17cd31"/><stop offset="0.308" stop-color="#11da24"/><stop offset="0.409" stop-color="#0ce519"/><stop offset="0.508" stop-color="#08ed11"/><stop offset="0.607" stop-color="#06f30c"/><stop offset="0.706" stop-color="#04f609"/><stop offset="0.804" stop-color="#04f608"/><stop offset="0.902" stop-color="#05f40a"/><stop offset="1" stop-color="#07ef0f"/></linearGradient><linearGradient id="sb92" gradientUnits="userSpaceOnUse" x1="407.7" y1="164.5" x2="482.4" y2="128.8"><stop offset="0" stop-color="#25b04d"/><stop offset="0.104" stop-color="#1cc23b"/><stop offset="0.207" stop-color="#15d22c"/><stop offset="0.309" stop-color="#0fdf1f"/><stop offset="0.409" stop-color="#0ae915"/><stop offset="0.509" stop-color="#06f10d"/><stop offset="0.608" stop-color="#04f708"/><stop offset="0.706" stop-color="#02fa05"/><stop offset="0.804" stop-color="#02fa05"/><stop offset="0.902" stop-color="#03f807"/><stop offset="1" stop-color="#06f30c"/></linearGradient><linearGradient id="sb93" gradientUnits="userSpaceOnUse" x1="408.8" y1="166.2" x2="483.4" y2="129.8"><stop offset="0" stop-color="#22b548"/><stop offset="0.104" stop-color="#1ac736"/><stop offset="0.207" stop-color="#13d627"/><stop offset="0.309" stop-color="#0de31b"/><stop offset="0.409" stop-color="#08ed11"/><stop offset="0.509" stop-color="#05f509"/><stop offset="0.608" stop-color="#02fb04"/><stop offset="0.706" stop-color="#01fd02"/><stop offset="0.804" stop-color="#01fe01"/><stop offset="0.902" stop-color="#02fb04"/><stop offset="1" stop-color="#04f708"/></linearGradient><linearGradient id="sb94" gradientUnits="userSpaceOnUse" x1="409.9" y1="167.8" x2="484.4" y2="130.8"><stop offset="0" stop-color="#20bb42"/><stop offset="0.104" stop-color="#18cc31"/><stop offset="0.207" stop-color="#11db23"/><stop offset="0.309" stop-color="#0be817"/><stop offset="0.409" stop-color="#06f20d"/><stop offset="0.509" stop-color="#03f906"/><stop offset="0.608" stop-color="#00fe01"/><stop offset="0.708" stop-color="#0f0"/><stop offset="0.807" stop-color="#0f0"/><stop offset="0.902" stop-color="#0f0"/><stop offset="1" stop-color="#02fa05"/></linearGradient><linearGradient id="sb95" gradientUnits="userSpaceOnUse" x1="411" y1="169.3" x2="485.4" y2="131.8"><stop offset="0" stop-color="#1dc03d"/><stop offset="0.104" stop-color="#15d12d"/><stop offset="0.207" stop-color="#0fe01e"/><stop offset="0.309" stop-color="#09ec13"/><stop offset="0.409" stop-color="#04f609"/><stop offset="0.509" stop-color="#01fd02"/><stop offset="0.611" stop-color="#0f0"/><stop offset="0.712" stop-color="#0f0"/><stop offset="0.811" stop-color="#0f0"/><stop offset="0.906" stop-color="#0f0"/><stop offset="1" stop-color="#01fd02"/></linearGradient></defs>
<g stroke-width="0.8" stroke-linejoin="round"><path d="M312.8,51.3 322.5,47.6 331.8,43.9 340.9,40.1 349.7,36.4 358.3,32.6 366.6,28.7 374.6,24.8 382.4,20.9 390.1,16.9 397.5,13 398.4,15.1 391,18.6 383.4,22.2 375.5,25.8 367.5,29.5 359.2,33.2 350.6,37 341.8,40.9 332.8,44.8 323.4,48.7 313.8,52.8Z" fill="url(#sb0)" stroke="url(#sb0)"/><path d="M313.8,52.8 323.4,48.7 332.8,44.8 341.8,40.9 350.6,37 359.2,33.2 367.5,29.5 375.5,25.8 383.4,22.2 391,18.6 398.4,15.1 399.3,17.1 391.9,20.2 384.3,23.5 376.4,26.8 368.4,30.3 360.1,34 351.5,37.7 342.8,41.7 333.7,45.7 324.4,50 314.8,54.4Z" fill="url(#sb1)" stroke="url(#sb1)"/><path d="M314.8,54.4 324.4,50 333.7,45.7 342.8,41.7 351.5,37.7 360.1,34 368.4,30.3 376.4,26.8 384.3,23.5 391.9,20.2 399.3,17.1 400.2,19.1 392.8,21.8 385.2,24.7 377.3,27.9 369.3,31.2 361,34.8 352.5,38.5 343.7,42.5 334.7,46.8 325.4,51.3 315.8,56Z" fill="url(#sb2)" stroke="url(#sb2)"/><path d="M315.8,56 325.4,51.3 334.7,46.8 343.7,42.5 352.5,38.5 361,34.8 369.3,31.2 377.3,27.9 385.2,24.7 392.8,21.8 400.2,19.1 401.1,21 393.7,23.4 386.1,26 378.2,28.9 370.2,32.1 361.9,35.6 353.4,39.4 344.6,43.5 335.6,47.9 326.3,52.7 316.8,57.8Z" fill="url(#sb3)" stroke="url(#sb3)"/><path d="M316.8,57.8 326.3,52.7 335.6,47.9 344.6,43.5 353.4,39.4 361.9,35.6 370.2,32.1 378.2,28.9 386.1,26 393.7,23.4 401.1,21 401.9,22.8 394.6,24.9 387,27.3 379.2,30 371.1,33.1 362.8,36.5 354.3,40.3 345.6,44.5 336.6,49.1 327.3,54.1 317.8,59.6Z" fill="url(#sb4)" stroke="url(#sb4)"/><path d="M317.8,59.6 327.3,54.1 336.6,49.1 345.6,44.5 354.3,40.3 362.8,36.5 371.1,33.1 379.2,30 387,27.3 394.6,24.9 401.9,22.8 402.8,24.6 395.5,26.4 387.9,28.5 380.1,31.1 372,34 363.8,37.4 355.2,41.3 346.5,45.6 337.5,50.4 328.3,55.7 318.8,61.5Z" fill="url(#sb5)" stroke="url(#sb5)"/><path d="M318.8,61.5 328.3,55.7 337.5,50.4 346.5,45.6 355.2,41.3 363.8,37.4 372,34 380.1,31.1 387.9,28.5 395.5,26.4 402.8,24.6 403.7,26.4 396.4,27.8 388.8,29.8 381,32.2 372.9,35 364.7,38.4 356.2,42.3 347.5,46.8 338.5,51.8 329.3,57.3 319.9,63.5Z" fill="url(#sb6)" stroke="url(#sb6)"/><path d="M319.9,63.5 329.3,57.3 338.5,51.8 347.5,46.8 356.2,42.3 364.7,38.4 372.9,35 381,32.2 388.8,29.8 396.4,27.8 403.7,26.4 404.6,28 397.3,29.2 389.7,31 381.9,33.2 373.9,36 365.6,39.4 357.1,43.4 348.4,48 339.5,53.2 330.3,59.1 320.9,65.6Z" fill="url(#sb7)" stroke="url(#sb7)"/><path d="M320.9,65.6 330.3,59.1 339.5,53.2 348.4,48 357.1,43.4 365.6,39.4 373.9,36 381.9,33.2 389.7,31 397.3,29.2 404.6,28 405.5,29.6 398.2,30.6 390.6,32.2 382.8,34.4 374.8,37.1 366.5,40.5 358.1,44.6 349.4,49.3 340.4,54.7 331.3,60.9 322,67.7Z" fill="url(#sb8)" stroke="url(#sb8)"/><path d="M322,67.7 331.3,60.9 340.4,54.7 349.4,49.3 358.1,44.6 366.5,40.5 374.8,37.1 382.8,34.4 390.6,32.2 398.2,30.6 405.5,29.6 406.4,31.1 399.1,32 391.5,33.5 383.7,35.6 375.7,38.3 367.5,41.7 359,45.9 350.3,50.7 341.4,56.3 332.3,62.6 323,69.7Z" fill="url(#sb9)" stroke="url(#sb9)"/><path d="M323,69.7 332.3,62.6 341.4,56.3 350.3,50.7 359,45.9 367.5,41.7 375.7,38.3 383.7,35.6 391.5,33.5 399.1,32 406.4,31.1 407.3,32.5 400,33.3 392.4,34.7 384.6,36.8 376.6,39.6 368.4,43 360,47.2 351.3,52.1 342.4,57.8 333.3,64.3 324,71.6Z" fill="url(#sb10)" stroke="url(#sb10)"/><path d="M324,71.6 333.3,64.3 342.4,57.8 351.3,52.1 360,47.2 368.4,43 376.6,39.6 384.6,36.8 392.4,34.7 400,33.3 407.3,32.5 408.2,33.8 400.9,34.6 393.3,36 385.6,38.1 377.6,40.9 369.4,44.4 360.9,48.6 352.3,53.6 343.4,59.4 334.3,66 325,73.5Z" fill="url(#sb11)" stroke="url(#sb11)"/><path d="M325,73.5 334.3,66 343.4,59.4 352.3,53.6 360.9,48.6 369.4,44.4 377.6,40.9 385.6,38.1 393.3,36 400.9,34.6 408.2,33.8 409,35.1 401.8,35.9 394.2,37.3 386.5,39.4 378.5,42.2 370.3,45.7 361.9,50 353.2,55.1 344.4,61 335.3,67.8 326.1,75.3Z" fill="url(#sb12)" stroke="url(#sb12)"/><path d="M326.1,75.3 335.3,67.8 344.4,61 353.2,55.1 361.9,50 370.3,45.7 378.5,42.2 386.5,39.4 394.2,37.3 401.8,35.9 409,35.1 409.9,36.4 402.7,37.1 395.1,38.6 387.4,40.7 379.4,43.5 371.2,47.1 362.8,51.5 354.2,56.6 345.4,62.6 336.3,69.5 327.1,77.2Z" fill="url(#sb13)" stroke="url(#sb13)"/><path d="M327.1,77.2 336.3,69.5 345.4,62.6 354.2,56.6 362.8,51.5 371.2,47.1 379.4,43.5 387.4,40.7 395.1,38.6 402.7,37.1 409.9,36.4 410.8,37.7 403.6,38.5 396.1,39.9 388.3,42 380.4,44.9 372.2,48.5 363.8,52.9 355.2,58.2 346.3,64.2 337.3,71.2 328.1,79Z" fill="url(#sb14)" stroke="url(#sb14)"/><path d="M328.1,79 337.3,71.2 346.3,64.2 355.2,58.2 363.8,52.9 372.2,48.5 380.4,44.9 388.3,42 396.1,39.9 403.6,38.5 410.8,37.7 411.7,39.2 404.5,39.9 397,41.2 389.3,43.3 381.3,46.2 373.1,49.9 364.7,54.3 356.1,59.7 347.3,65.8 338.3,72.9 329.1,80.9Z" fill="url(#sb15)" stroke="url(#sb15)"/><path d="M329.1,80.9 338.3,72.9 347.3,65.8 356.1,59.7 364.7,54.3 373.1,49.9 381.3,46.2 389.3,43.3 397,41.2 404.5,39.9 411.7,39.2 412.6,40.7 405.4,41.3 397.9,42.6 390.2,44.7 382.2,47.6 374.1,51.3 365.7,55.8 357.1,61.2 348.3,67.4 339.3,74.6 330.1,82.8Z" fill="url(#sb16)" stroke="url(#sb16)"/><path d="M330.1,82.8 339.3,74.6 348.3,67.4 357.1,61.2 365.7,55.8 374.1,51.3 382.2,47.6 390.2,44.7 397.9,42.6 405.4,41.3 412.6,40.7 413.5,42.3 406.3,42.8 398.8,44.1 391.1,46.2 383.2,49 375,52.7 366.7,57.2 358.1,62.7 349.3,69 340.3,76.3 331.2,84.6Z" fill="url(#sb17)" stroke="url(#sb17)"/><path d="M331.2,84.6 340.3,76.3 349.3,69 358.1,62.7 366.7,57.2 375,52.7 383.2,49 391.1,46.2 398.8,44.1 406.3,42.8 413.5,42.3 414.4,44 407.2,44.4 399.7,45.6 392,47.6 384.1,50.4 376,54.1 367.6,58.7 359.1,64.2 350.3,70.6 341.3,78 332.2,86.4Z" fill="url(#sb18)" stroke="url(#sb18)"/><path d="M332.2,86.4 341.3,78 350.3,70.6 359.1,64.2 367.6,58.7 376,54.1 384.1,50.4 392,47.6 399.7,45.6 407.2,44.4 414.4,44 415.3,45.7 408.1,46 400.6,47.2 393,49.1 385.1,51.9 376.9,55.6 368.6,60.2 360,65.7 351.3,72.2 342.3,79.7 333.2,88.1Z" fill="url(#sb19)" stroke="url(#sb19)"/><path d="M333.2,88.1 342.3,79.7 351.3,72.2 360,65.7 368.6,60.2 376.9,55.6 385.1,51.9 393,49.1 400.6,47.2 408.1,46 415.3,45.7 416.2,47.3 409,47.7 401.6,48.7 393.9,50.7 386,53.4 377.9,57.1 369.6,61.7 361,67.2 352.3,73.8 343.3,81.3 334.2,89.9Z" fill="url(#sb20)" stroke="url(#sb20)"/><path d="M334.2,89.9 343.3,81.3 352.3,73.8 361,67.2 369.6,61.7 377.9,57.1 386,53.4 393.9,50.7 401.6,48.7 409,47.7 416.2,47.3 417,49 409.9,49.2 402.5,50.3 394.8,52.2 387,54.9 378.8,58.6 370.5,63.2 362,68.8 353.2,75.3 344.3,82.9 335.2,91.6Z" fill="url(#sb21)" stroke="url(#sb21)"/><path d="M335.2,91.6 344.3,82.9 353.2,75.3 362,68.8 370.5,63.2 378.8,58.6 387,54.9 394.8,52.2 402.5,50.3 409.9,49.2 417,49 417.9,50.6 410.8,50.8 403.4,51.9 395.8,53.7 387.9,56.5 379.8,60.1 371.5,64.7 363,70.3 354.2,76.9 345.3,84.5 336.2,93.2Z" fill="url(#sb22)" stroke="url(#sb22)"/><path d="M336.2,93.2 345.3,84.5 354.2,76.9 363,70.3 371.5,64.7 379.8,60.1 387.9,56.5 395.8,53.7 403.4,51.9 410.8,50.8 417.9,50.6 418.8,52.2 411.7,52.5 404.3,53.5 396.7,55.4 388.8,58.1 380.8,61.7 372.5,66.3 363.9,71.9 355.2,78.4 346.3,86 337.2,94.7Z" fill="url(#sb23)" stroke="url(#sb23)"/><path d="M337.2,94.7 346.3,86 355.2,78.4 363.9,71.9 372.5,66.3 380.8,61.7 388.8,58.1 396.7,55.4 404.3,53.5 411.7,52.5 418.8,52.2 419.7,53.9 412.6,54.1 405.2,55.2 397.6,57 389.8,59.8 381.7,63.4 373.4,67.9 364.9,73.4 356.2,79.9 347.3,87.5 338.2,96Z" fill="url(#sb24)" stroke="url(#sb24)"/><path d="M338.2,96 347.3,87.5 356.2,79.9 364.9,73.4 373.4,67.9 381.7,63.4 389.8,59.8 397.6,57 405.2,55.2 412.6,54.1 419.7,53.9 420.6,55.4 413.5,55.8 406.2,56.8 398.6,58.7 390.7,61.4 382.7,65 374.4,69.6 365.9,75 357.2,81.4 348.3,88.8 339.2,97.3Z" fill="url(#sb25)" stroke="url(#sb25)"/><path d="M339.2,97.3 348.3,88.8 357.2,81.4 365.9,75 374.4,69.6 382.7,65 390.7,61.4 398.6,58.7 406.2,56.8 413.5,55.8 420.6,55.4 421.5,57 414.4,57.4 407.1,58.5 399.5,60.4 391.7,63.1 383.6,66.7 375.4,71.2 366.9,76.6 358.2,82.9 349.3,90.2 340.2,98.5Z" fill="url(#sb26)" stroke="url(#sb26)"/><path d="M340.2,98.5 349.3,90.2 358.2,82.9 366.9,76.6 375.4,71.2 383.6,66.7 391.7,63.1 399.5,60.4 407.1,58.5 414.4,57.4 421.5,57 422.4,58.5 415.3,59 408,60.1 400.4,62.1 392.6,64.8 384.6,68.4 376.3,72.8 367.9,78.1 359.2,84.3 350.3,91.5 341.2,99.6Z" fill="url(#sb27)" stroke="url(#sb27)"/><path d="M341.2,99.6 350.3,91.5 359.2,84.3 367.9,78.1 376.3,72.8 384.6,68.4 392.6,64.8 400.4,62.1 408,60.1 415.3,59 422.4,58.5 423.3,60 416.2,60.5 408.9,61.8 401.4,63.7 393.6,66.5 385.6,70 377.3,74.4 368.8,79.6 360.1,85.7 351.2,92.7 342.1,100.7Z" fill="url(#sb28)" stroke="url(#sb28)"/><path d="M342.1,100.7 351.2,92.7 360.1,85.7 368.8,79.6 377.3,74.4 385.6,70 393.6,66.5 401.4,63.7 408.9,61.8 416.2,60.5 423.3,60 424.2,61.4 417.1,62.1 409.8,63.4 402.3,65.4 394.5,68.1 386.5,71.6 378.3,76 369.8,81.1 361.1,87.1 352.2,94 343.1,101.8Z" fill="url(#sb29)" stroke="url(#sb29)"/><path d="M343.1,101.8 352.2,94 361.1,87.1 369.8,81.1 378.3,76 386.5,71.6 394.5,68.1 402.3,65.4 409.8,63.4 417.1,62.1 424.2,61.4 425.1,62.8 418,63.6 410.8,64.9 403.2,67 395.5,69.7 387.5,73.2 379.3,77.5 370.8,82.6 362.1,88.5 353.2,95.2 344.1,102.9Z" fill="url(#sb30)" stroke="url(#sb30)"/><path d="M344.1,102.9 353.2,95.2 362.1,88.5 370.8,82.6 379.3,77.5 387.5,73.2 395.5,69.7 403.2,67 410.8,64.9 418,63.6 425.1,62.8 426,64.2 418.9,65 411.7,66.5 404.2,68.6 396.4,71.3 388.4,74.8 380.2,79.1 371.8,84.1 363.1,89.9 354.2,96.5 345.1,103.9Z" fill="url(#sb31)" stroke="url(#sb31)"/><path d="M345.1,103.9 354.2,96.5 363.1,89.9 371.8,84.1 380.2,79.1 388.4,74.8 396.4,71.3 404.2,68.6 411.7,66.5 418.9,65 426,64.2 426.9,65.6 419.8,66.5 412.6,68 405.1,70.1 397.4,72.9 389.4,76.4 381.2,80.6 372.8,85.5 364.1,91.2 355.2,97.7 346.1,104.9Z" fill="url(#sb32)" stroke="url(#sb32)"/><path d="M346.1,104.9 355.2,97.7 364.1,91.2 372.8,85.5 381.2,80.6 389.4,76.4 397.4,72.9 405.1,70.1 412.6,68 419.8,66.5 426.9,65.6 427.8,66.9 420.8,67.9 413.5,69.5 406,71.7 398.3,74.5 390.4,78 382.2,82.1 373.7,86.9 365.1,92.5 356.2,98.7 347.1,105.8Z" fill="url(#sb33)" stroke="url(#sb33)"/><path d="M347.1,105.8 356.2,98.7 365.1,92.5 373.7,86.9 382.2,82.1 390.4,78 398.3,74.5 406,71.7 413.5,69.5 420.8,67.9 427.8,66.9 428.7,68.2 421.7,69.3 414.4,71 407,73.3 399.3,76.1 391.3,79.5 383.1,83.6 374.7,88.3 366.1,93.6 357.2,99.7 348,106.5Z" fill="url(#sb34)" stroke="url(#sb34)"/><path d="M348,106.5 357.2,99.7 366.1,93.6 374.7,88.3 383.1,83.6 391.3,79.5 399.3,76.1 407,73.3 414.4,71 421.7,69.3 428.7,68.2 429.6,69.4 422.6,70.7 415.4,72.5 407.9,74.8 400.2,77.7 392.3,81 384.1,85 375.7,89.6 367,94.8 358.1,100.6 349,107.1Z" fill="url(#sb35)" stroke="url(#sb35)"/><path d="M349,107.1 358.1,100.6 367,94.8 375.7,89.6 384.1,85 392.3,81 400.2,77.7 407.9,74.8 415.4,72.5 422.6,70.7 429.6,69.4 430.5,70.7 423.5,72.1 416.3,74 408.8,76.4 401.2,79.2 393.2,82.6 385.1,86.5 376.7,90.9 368,95.9 359.1,101.5 350,107.7Z" fill="url(#sb36)" stroke="url(#sb36)"/><path d="M350,107.7 359.1,101.5 368,95.9 376.7,90.9 385.1,86.5 393.2,82.6 401.2,79.2 408.8,76.4 416.3,74 423.5,72.1 430.5,70.7 431.4,71.9 424.4,73.5 417.2,75.5 409.8,77.9 402.1,80.8 394.2,84.1 386.1,87.9 377.7,92.2 369,97 360.1,102.4 350.9,108.3Z" fill="url(#sb37)" stroke="url(#sb37)"/><path d="M350.9,108.3 360.1,102.4 369,97 377.7,92.2 386.1,87.9 394.2,84.1 402.1,80.8 409.8,77.9 417.2,75.5 424.4,73.5 431.4,71.9 432.3,73 425.3,74.8 418.1,76.9 410.7,79.4 403.1,82.3 395.2,85.6 387,89.4 378.6,93.5 370,98.2 361.1,103.3 351.9,108.9Z" fill="url(#sb38)" stroke="url(#sb38)"/><path d="M351.9,108.9 361.1,103.3 370,98.2 378.6,93.5 387,89.4 395.2,85.6 403.1,82.3 410.7,79.4 418.1,76.9 425.3,74.8 432.3,73 433.2,74.2 426.2,76.1 419.1,78.4 411.7,80.9 404,83.8 396.1,87.1 388,90.8 379.6,94.9 371,99.4 362.1,104.3 352.9,109.6Z" fill="url(#sb39)" stroke="url(#sb39)"/><path d="M352.9,109.6 362.1,104.3 371,99.4 379.6,94.9 388,90.8 396.1,87.1 404,83.8 411.7,80.9 419.1,78.4 426.2,76.1 433.2,74.2 434.1,75.3 427.1,77.4 420,79.8 412.6,82.4 405,85.4 397.1,88.6 389,92.3 380.6,96.2 372,100.6 363,105.3 353.9,110.4Z" fill="url(#sb40)" stroke="url(#sb40)"/><path d="M353.9,110.4 363,105.3 372,100.6 380.6,96.2 389,92.3 397.1,88.6 405,85.4 412.6,82.4 420,79.8 427.1,77.4 434.1,75.3 435,76.4 428.1,78.7 420.9,81.1 413.5,83.9 405.9,86.9 398.1,90.1 389.9,93.7 381.6,97.6 372.9,101.8 364,106.4 354.8,111.3Z" fill="url(#sb41)" stroke="url(#sb41)"/><path d="M354.8,111.3 364,106.4 372.9,101.8 381.6,97.6 389.9,93.7 398.1,90.1 405.9,86.9 413.5,83.9 420.9,81.1 428.1,78.7 435,76.4 435.9,77.5 429,79.9 421.8,82.5 414.5,85.3 406.9,88.3 399,91.6 390.9,95.2 382.6,99 373.9,103 365,107.4 355.8,112.1Z" fill="url(#sb42)" stroke="url(#sb42)"/><path d="M355.8,112.1 365,107.4 373.9,103 382.6,99 390.9,95.2 399,91.6 406.9,88.3 414.5,85.3 421.8,82.5 429,79.9 435.9,77.5 436.8,78.5 429.9,81 422.8,83.7 415.4,86.7 407.8,89.8 400,93.1 391.9,96.6 383.6,100.3 374.9,104.2 366,108.4 356.8,112.9Z" fill="url(#sb43)" stroke="url(#sb43)"/><path d="M356.8,112.9 366,108.4 374.9,104.2 383.6,100.3 391.9,96.6 400,93.1 407.8,89.8 415.4,86.7 422.8,83.7 429.9,81 436.8,78.5 437.7,79.4 430.8,82.1 423.7,85 416.3,88 408.8,91.2 400.9,94.5 392.9,97.9 384.5,101.6 375.9,105.4 367,109.4 357.8,113.5Z" fill="url(#sb44)" stroke="url(#sb44)"/><path d="M357.8,113.5 367,109.4 375.9,105.4 384.5,101.6 392.9,97.9 400.9,94.5 408.8,91.2 416.3,88 423.7,85 430.8,82.1 437.7,79.4 438.6,80.3 431.7,83.3 424.6,86.3 417.3,89.4 409.7,92.6 401.9,95.9 393.9,99.3 385.5,102.8 376.9,106.4 368,110.2 358.8,114.1Z" fill="url(#sb45)" stroke="url(#sb45)"/><path d="M358.8,114.1 368,110.2 376.9,106.4 385.5,102.8 393.9,99.3 401.9,95.9 409.7,92.6 417.3,89.4 424.6,86.3 431.7,83.3 438.6,80.3 439.6,81.2 432.7,84.3 425.6,87.5 418.2,90.7 410.7,94 402.9,97.3 394.8,100.6 386.5,104 377.9,107.4 369,110.9 359.8,114.5Z" fill="url(#sb46)" stroke="url(#sb46)"/><path d="M359.8,114.5 369,110.9 377.9,107.4 386.5,104 394.8,100.6 402.9,97.3 410.7,94 418.2,90.7 425.6,87.5 432.7,84.3 439.6,81.2 440.5,82 433.6,85.4 426.5,88.7 419.2,92 411.6,95.3 403.8,98.6 395.8,101.9 387.5,105.2 378.9,108.4 370,111.7 360.8,114.9Z" fill="url(#sb47)" stroke="url(#sb47)"/><path d="M360.8,114.9 370,111.7 378.9,108.4 387.5,105.2 395.8,101.9 403.8,98.6 411.6,95.3 419.2,92 426.5,88.7 433.6,85.4 440.5,82 441.4,82.8 434.5,86.4 427.4,89.9 420.1,93.3 412.6,96.7 404.8,100 396.8,103.2 388.5,106.3 379.9,109.4 371,112.4 361.8,115.3Z" fill="url(#sb48)" stroke="url(#sb48)"/><path d="M361.8,115.3 371,112.4 379.9,109.4 388.5,106.3 396.8,103.2 404.8,100 412.6,96.7 420.1,93.3 427.4,89.9 434.5,86.4 441.4,82.8 442.3,83.5 435.4,87.3 428.4,91 421.1,94.5 413.5,98 405.8,101.3 397.8,104.4 389.5,107.5 380.9,110.4 372,113.1 362.7,115.7Z" fill="url(#sb49)" stroke="url(#sb49)"/><path d="M362.7,115.7 372,113.1 380.9,110.4 389.5,107.5 397.8,104.4 405.8,101.3 413.5,98 421.1,94.5 428.4,91 435.4,87.3 442.3,83.5 443.3,84.1 436.4,88.1 429.3,92 422,95.7 414.5,99.2 406.8,102.6 398.7,105.7 390.5,108.6 381.9,111.3 373,113.8 363.7,116.1Z" fill="url(#sb50)" stroke="url(#sb50)"/><path d="M363.7,116.1 373,113.8 381.9,111.3 390.5,108.6 398.7,105.7 406.8,102.6 414.5,99.2 422,95.7 429.3,92 436.4,88.1 443.3,84.1 444.2,84.6 437.3,89 430.2,93 423,96.9 415.5,100.5 407.7,103.8 399.7,106.9 391.5,109.8 382.9,112.3 374,114.6 364.7,116.5Z" fill="url(#sb51)" stroke="url(#sb51)"/><path d="M364.7,116.5 374,114.6 382.9,112.3 391.5,109.8 399.7,106.9 407.7,103.8 415.5,100.5 423,96.9 430.2,93 437.3,89 444.2,84.6 445.1,85.2 438.3,89.8 431.2,94.1 423.9,98 416.4,101.7 408.7,105.1 400.7,108.1 392.5,110.9 383.9,113.2 375,115.2 365.7,116.9Z" fill="url(#sb52)" stroke="url(#sb52)"/><path d="M365.7,116.9 375,115.2 383.9,113.2 392.5,110.9 400.7,108.1 408.7,105.1 416.4,101.7 423.9,98 431.2,94.1 438.3,89.8 445.1,85.2 446.1,85.8 439.2,90.6 432.1,95.1 424.9,99.2 417.4,102.9 409.7,106.3 401.7,109.3 393.4,111.9 384.9,114 376,115.7 366.7,117Z" fill="url(#sb53)" stroke="url(#sb53)"/><path d="M366.7,117 376,115.7 384.9,114 393.4,111.9 401.7,109.3 409.7,106.3 417.4,102.9 424.9,99.2 432.1,95.1 439.2,90.6 446.1,85.8 447,86.5 440.1,91.6 433.1,96.2 425.8,100.4 418.3,104.2 410.6,107.5 402.7,110.4 394.4,112.8 385.9,114.7 377,116.1 367.7,116.9Z" fill="url(#sb54)" stroke="url(#sb54)"/><path d="M367.7,116.9 377,116.1 385.9,114.7 394.4,112.8 402.7,110.4 410.6,107.5 418.3,104.2 425.8,100.4 433.1,96.2 440.1,91.6 447,86.5 448,87.2 441.1,92.5 434,97.3 426.8,101.6 419.3,105.4 411.6,108.7 403.7,111.4 395.4,113.7 386.9,115.3 378,116.3 368.7,116.7Z" fill="url(#sb55)" stroke="url(#sb55)"/><path d="M368.7,116.7 378,116.3 386.9,115.3 395.4,113.7 403.7,111.4 411.6,108.7 419.3,105.4 426.8,101.6 434,97.3 441.1,92.5 448,87.2 448.9,88 442,93.4 435,98.4 427.7,102.7 420.3,106.6 412.6,109.8 404.7,112.5 396.4,114.5 387.9,115.9 379,116.6 369.7,116.6Z" fill="url(#sb56)" stroke="url(#sb56)"/><path d="M369.7,116.6 379,116.6 387.9,115.9 396.4,114.5 404.7,112.5 412.6,109.8 420.3,106.6 427.7,102.7 435,98.4 442,93.4 448.9,88 449.8,88.8 443,94.4 435.9,99.5 428.7,103.9 421.2,107.8 413.6,111 405.6,113.5 397.4,115.4 388.9,116.6 380,117 370.7,116.6Z" fill="url(#sb57)" stroke="url(#sb57)"/><path d="M370.7,116.6 380,117 388.9,116.6 397.4,115.4 405.6,113.5 413.6,111 421.2,107.8 428.7,103.9 435.9,99.5 443,94.4 449.8,88.8 450.8,89.6 443.9,95.4 436.9,100.6 429.6,105.1 422.2,108.9 414.5,112.1 406.6,114.6 398.4,116.4 389.9,117.3 381,117.5 371.7,116.8Z" fill="url(#sb58)" stroke="url(#sb58)"/><path d="M371.7,116.8 381,117.5 389.9,117.3 398.4,116.4 406.6,114.6 414.5,112.1 422.2,108.9 429.6,105.1 436.9,100.6 443.9,95.4 450.8,89.6 451.7,90.5 444.8,96.5 437.8,101.7 430.6,106.3 423.2,110.1 415.5,113.3 407.6,115.7 399.4,117.3 390.9,118.1 382,118.1 372.7,117.1Z" fill="url(#sb59)" stroke="url(#sb59)"/><path d="M372.7,117.1 382,118.1 390.9,118.1 399.4,117.3 407.6,115.7 415.5,113.3 423.2,110.1 430.6,106.3 437.8,101.7 444.8,96.5 451.7,90.5 452.7,91.6 445.8,97.6 438.7,102.9 431.5,107.5 424.1,111.4 416.5,114.5 408.6,116.8 400.4,118.3 391.9,118.9 383,118.6 373.7,117.4Z" fill="url(#sb60)" stroke="url(#sb60)"/><path d="M373.7,117.4 383,118.6 391.9,118.9 400.4,118.3 408.6,116.8 416.5,114.5 424.1,111.4 431.5,107.5 438.7,102.9 445.8,97.6 452.7,91.6 453.6,92.7 446.7,98.8 439.7,104.2 432.5,108.8 425.1,112.7 417.5,115.8 409.6,118 401.4,119.3 392.9,119.8 384.1,119.2 374.8,117.7Z" fill="url(#sb61)" stroke="url(#sb61)"/><path d="M374.8,117.7 384.1,119.2 392.9,119.8 401.4,119.3 409.6,118 417.5,115.8 425.1,112.7 432.5,108.8 439.7,104.2 446.7,98.8 453.6,92.7 454.5,93.9 447.7,100.1 440.6,105.5 433.5,110.2 426.1,114 418.5,117 410.6,119.2 402.5,120.4 394,120.6 385.1,119.9 375.8,118Z" fill="url(#sb62)" stroke="url(#sb62)"/><path d="M375.8,118 385.1,119.9 394,120.6 402.5,120.4 410.6,119.2 418.5,117 426.1,114 433.5,110.2 440.6,105.5 447.7,100.1 454.5,93.9 455.5,95.1 448.6,101.4 441.6,106.8 434.4,111.5 427,115.3 419.5,118.3 411.6,120.3 403.5,121.4 395,121.5 386.1,120.5 376.8,118.4Z" fill="url(#sb63)" stroke="url(#sb63)"/><path d="M376.8,118.4 386.1,120.5 395,121.5 403.5,121.4 411.6,120.3 419.5,118.3 427,115.3 434.4,111.5 441.6,106.8 448.6,101.4 455.5,95.1 456.4,96.2 449.5,102.6 442.5,108.1 435.4,112.8 428,116.6 420.4,119.5 412.6,121.5 404.5,122.5 396,122.4 387.2,121.2 377.9,118.9Z" fill="url(#sb64)" stroke="url(#sb64)"/><path d="M377.9,118.9 387.2,121.2 396,122.4 404.5,122.5 412.6,121.5 420.4,119.5 428,116.6 435.4,112.8 442.5,108.1 449.5,102.6 456.4,96.2 457.3,97.5 450.5,103.8 443.5,109.4 436.3,114 429,117.8 421.4,120.7 413.6,122.6 405.5,123.5 397,123.4 388.2,122.1 378.9,119.6Z" fill="url(#sb65)" stroke="url(#sb65)"/><path d="M378.9,119.6 388.2,122.1 397,123.4 405.5,123.5 413.6,122.6 421.4,120.7 429,117.8 436.3,114 443.5,109.4 450.5,103.8 457.3,97.5 458.3,98.7 451.4,105 444.4,110.5 437.3,115.2 430,118.9 422.4,121.8 414.6,123.7 406.5,124.6 398.1,124.4 389.2,123.1 380,120.6Z" fill="url(#sb66)" stroke="url(#sb66)"/><path d="M380,120.6 389.2,123.1 398.1,124.4 406.5,124.6 414.6,123.7 422.4,121.8 430,118.9 437.3,115.2 444.4,110.5 451.4,105 458.3,98.7 459.2,100 452.4,106.2 445.4,111.6 438.3,116.2 430.9,119.9 423.4,122.8 415.6,124.6 407.5,125.5 399.1,125.4 390.3,124.1 381,121.6Z" fill="url(#sb67)" stroke="url(#sb67)"/><path d="M381,121.6 390.3,124.1 399.1,125.4 407.5,125.5 415.6,124.6 423.4,122.8 430.9,119.9 438.3,116.2 445.4,111.6 452.4,106.2 459.2,100 460.1,101.2 453.3,107.3 446.4,112.7 439.2,117.2 431.9,120.8 424.4,123.6 416.6,125.5 408.5,126.4 400.1,126.3 391.3,125.1 382.1,122.8Z" fill="url(#sb68)" stroke="url(#sb68)"/><path d="M382.1,122.8 391.3,125.1 400.1,126.3 408.5,126.4 416.6,125.5 424.4,123.6 431.9,120.8 439.2,117.2 446.4,112.7 453.3,107.3 460.1,101.2 461.1,102.4 454.3,108.4 447.3,113.6 440.2,118.1 432.9,121.7 425.4,124.4 417.6,126.3 409.6,127.3 401.2,127.2 392.4,126.2 383.2,124Z" fill="url(#sb69)" stroke="url(#sb69)"/><path d="M383.2,124 392.4,126.2 401.2,127.2 409.6,127.3 417.6,126.3 425.4,124.4 432.9,121.7 440.2,118.1 447.3,113.6 454.3,108.4 461.1,102.4 462,103.4 455.2,109.3 448.3,114.5 441.2,118.9 433.9,122.5 426.4,125.2 418.6,127.1 410.6,128.1 402.2,128.2 393.4,127.2 384.3,125.2Z" fill="url(#sb70)" stroke="url(#sb70)"/><path d="M384.3,125.2 393.4,127.2 402.2,128.2 410.6,128.1 418.6,127.1 426.4,125.2 433.9,122.5 441.2,118.9 448.3,114.5 455.2,109.3 462,103.4 463,104.4 456.2,110.2 449.3,115.3 442.2,119.7 434.9,123.3 427.4,126 419.7,128 411.6,129.1 403.2,129.2 394.5,128.4 385.3,126.6Z" fill="url(#sb71)" stroke="url(#sb71)"/><path d="M385.3,126.6 394.5,128.4 403.2,129.2 411.6,129.1 419.7,128 427.4,126 434.9,123.3 442.2,119.7 449.3,115.3 456.2,110.2 463,104.4 463.9,105.4 457.1,111.1 450.2,116.2 443.2,120.5 435.9,124.1 428.4,126.9 420.7,128.9 412.6,130.1 404.3,130.4 395.6,129.7 386.4,128Z" fill="url(#sb72)" stroke="url(#sb72)"/><path d="M386.4,128 395.6,129.7 404.3,130.4 412.6,130.1 420.7,128.9 428.4,126.9 435.9,124.1 443.2,120.5 450.2,116.2 457.1,111.1 463.9,105.4 464.9,106.4 458.1,112.1 451.2,117 444.2,121.3 436.9,124.9 429.4,127.8 421.7,129.9 413.7,131.1 405.3,131.6 396.6,131.1 387.5,129.6Z" fill="url(#sb73)" stroke="url(#sb73)"/><path d="M387.5,129.6 396.6,131.1 405.3,131.6 413.7,131.1 421.7,129.9 429.4,127.8 436.9,124.9 444.2,121.3 451.2,117 458.1,112.1 464.9,106.4 465.8,107.5 459.1,113.1 452.2,118 445.1,122.3 437.9,125.9 430.4,128.8 422.7,131 414.7,132.3 406.4,132.9 397.7,132.5 388.6,131.3Z" fill="url(#sb74)" stroke="url(#sb74)"/><path d="M388.6,131.3 397.7,132.5 406.4,132.9 414.7,132.3 422.7,131 430.4,128.8 437.9,125.9 445.1,122.3 452.2,118 459.1,113.1 465.8,107.5 466.8,108.7 460,114.3 453.2,119.2 446.1,123.5 438.9,127.2 431.4,130.1 423.7,132.3 415.7,133.7 407.4,134.3 398.7,134.1 389.7,132.9Z" fill="url(#sb75)" stroke="url(#sb75)"/><path d="M389.7,132.9 398.7,134.1 407.4,134.3 415.7,133.7 423.7,132.3 431.4,130.1 438.9,127.2 446.1,123.5 453.2,119.2 460,114.3 466.8,108.7 467.7,110 461,115.6 454.1,120.6 447.1,124.9 439.9,128.6 432.4,131.6 424.7,133.8 416.7,135.3 408.5,136 399.8,135.8 390.8,134.7Z" fill="url(#sb76)" stroke="url(#sb76)"/><path d="M390.8,134.7 399.8,135.8 408.5,136 416.7,135.3 424.7,133.8 432.4,131.6 439.9,128.6 447.1,124.9 454.1,120.6 461,115.6 467.7,110 468.6,111.5 461.9,117.1 455.1,122.1 448,126.5 440.8,130.2 433.4,133.2 425.7,135.4 417.8,137 409.5,137.7 400.9,137.6 391.9,136.6Z" fill="url(#sb77)" stroke="url(#sb77)"/><path d="M391.9,136.6 400.9,137.6 409.5,137.7 417.8,137 425.7,135.4 433.4,133.2 440.8,130.2 448,126.5 455.1,122.1 461.9,117.1 468.6,111.5 469.5,113 462.9,118.6 456,123.6 449,128 441.8,131.7 434.4,134.8 426.7,137.1 418.8,138.7 410.6,139.5 401.9,139.5 392.9,138.6Z" fill="url(#sb78)" stroke="url(#sb78)"/><path d="M392.9,138.6 401.9,139.5 410.6,139.5 418.8,138.7 426.7,137.1 434.4,134.8 441.8,131.7 449,128 456,123.6 462.9,118.6 469.5,113 470.5,114.4 463.8,120 457,125.1 450,129.5 442.8,133.2 435.4,136.3 427.8,138.7 419.8,140.4 411.6,141.3 403,141.3 394,140.6Z" fill="url(#sb79)" stroke="url(#sb79)"/><path d="M394,140.6 403,141.3 411.6,141.3 419.8,140.4 427.8,138.7 435.4,136.3 442.8,133.2 450,129.5 457,125.1 463.8,120 470.5,114.4 471.4,115.7 464.8,121.3 457.9,126.3 451,130.7 443.8,134.5 436.4,137.7 428.8,140.1 420.9,141.9 412.6,142.9 404.1,143.1 395.1,142.5Z" fill="url(#sb80)" stroke="url(#sb80)"/><path d="M395.1,142.5 404.1,143.1 412.6,142.9 420.9,141.9 428.8,140.1 436.4,137.7 443.8,134.5 451,130.7 457.9,126.3 464.8,121.3 471.4,115.7 472.4,117 465.7,122.5 458.9,127.5 451.9,131.9 444.8,135.8 437.4,138.9 429.8,141.5 421.9,143.3 413.7,144.5 405.2,144.9 396.2,144.4Z" fill="url(#sb81)" stroke="url(#sb81)"/><path d="M396.2,144.4 405.2,144.9 413.7,144.5 421.9,143.3 429.8,141.5 437.4,138.9 444.8,135.8 451.9,131.9 458.9,127.5 465.7,122.5 472.4,117 473.3,118.2 466.7,123.7 459.9,128.7 452.9,133.1 445.8,136.9 438.4,140.2 430.8,142.8 422.9,144.7 414.8,146 406.2,146.6 397.3,146.4Z" fill="url(#sb82)" stroke="url(#sb82)"/><path d="M397.3,146.4 406.2,146.6 414.8,146 422.9,144.7 430.8,142.8 438.4,140.2 445.8,136.9 452.9,133.1 459.9,128.7 466.7,123.7 473.3,118.2 474.3,119.4 467.6,124.9 460.9,129.8 453.9,134.2 446.8,138.1 439.4,141.4 431.8,144.1 424,146.1 415.8,147.6 407.3,148.3 398.4,148.3Z" fill="url(#sb83)" stroke="url(#sb83)"/><path d="M398.4,148.3 407.3,148.3 415.8,147.6 424,146.1 431.8,144.1 439.4,141.4 446.8,138.1 453.9,134.2 460.9,129.8 467.6,124.9 474.3,119.4 475.2,120.6 468.6,126 461.8,130.9 454.9,135.3 447.8,139.2 440.4,142.5 432.9,145.3 425,147.5 416.9,149.1 408.4,150 399.5,150.2Z" fill="url(#sb84)" stroke="url(#sb84)"/><path d="M399.5,150.2 408.4,150 416.9,149.1 425,147.5 432.9,145.3 440.4,142.5 447.8,139.2 454.9,135.3 461.8,130.9 468.6,126 475.2,120.6 476.2,121.7 469.6,127.1 462.8,132 455.9,136.4 448.8,140.3 441.5,143.7 433.9,146.6 426,148.9 417.9,150.6 409.4,151.7 400.6,152.2Z" fill="url(#sb85)" stroke="url(#sb85)"/><path d="M400.6,152.2 409.4,151.7 417.9,150.6 426,148.9 433.9,146.6 441.5,143.7 448.8,140.3 455.9,136.4 462.8,132 469.6,127.1 476.2,121.7 477.1,122.9 470.5,128.2 463.8,133 456.9,137.4 449.8,141.4 442.5,144.8 434.9,147.8 427.1,150.2 419,152.1 410.5,153.4 401.7,154.1Z" fill="url(#sb86)" stroke="url(#sb86)"/><path d="M401.7,154.1 410.5,153.4 419,152.1 427.1,150.2 434.9,147.8 442.5,144.8 449.8,141.4 456.9,137.4 463.8,133 470.5,128.2 477.1,122.9 478.1,124 471.5,129.2 464.8,134.1 457.9,138.5 450.8,142.5 443.5,146 435.9,149 428.1,151.6 420,153.6 411.6,155.1 402.8,156Z" fill="url(#sb87)" stroke="url(#sb87)"/><path d="M402.8,156 411.6,155.1 420,153.6 428.1,151.6 435.9,149 443.5,146 450.8,142.5 457.9,138.5 464.8,134.1 471.5,129.2 478.1,124 479.1,125.1 472.5,130.3 465.8,135.1 458.9,139.5 451.8,143.5 444.5,147.1 437,150.3 429.2,153 421.1,155.2 412.7,156.8 403.9,158Z" fill="url(#sb88)" stroke="url(#sb88)"/><path d="M403.9,158 412.7,156.8 421.1,155.2 429.2,153 437,150.3 444.5,147.1 451.8,143.5 458.9,139.5 465.8,135.1 472.5,130.3 479.1,125.1 480,126.2 473.5,131.3 466.8,136.2 459.9,140.6 452.8,144.6 445.5,148.3 438,151.5 430.2,154.3 422.1,156.7 413.7,158.6 405,159.9Z" fill="url(#sb89)" stroke="url(#sb89)"/><path d="M405,159.9 413.7,158.6 422.1,156.7 430.2,154.3 438,151.5 445.5,148.3 452.8,144.6 459.9,140.6 466.8,136.2 473.5,131.3 480,126.2 481,127.2 474.5,132.4 467.8,137.2 460.9,141.7 453.8,145.8 446.5,149.5 439,152.8 431.3,155.7 423.2,158.2 414.8,160.3 406.1,161.8Z" fill="url(#sb90)" stroke="url(#sb90)"/><path d="M406.1,161.8 414.8,160.3 423.2,158.2 431.3,155.7 439,152.8 446.5,149.5 453.8,145.8 460.9,141.7 467.8,137.2 474.5,132.4 481,127.2 482,128.3 475.4,133.4 468.8,138.3 461.9,142.7 454.8,146.9 447.6,150.7 440.1,154.1 432.3,157.1 424.3,159.7 415.9,161.9 407.2,163.6Z" fill="url(#sb91)" stroke="url(#sb91)"/><path d="M407.2,163.6 415.9,161.9 424.3,159.7 432.3,157.1 440.1,154.1 447.6,150.7 454.8,146.9 461.9,142.7 468.8,138.3 475.4,133.4 482,128.3 482.9,129.3 476.4,134.5 469.7,139.3 462.9,143.8 455.8,148 448.6,151.8 441.1,155.3 433.3,158.4 425.3,161.1 417,163.5 408.3,165.3Z" fill="url(#sb92)" stroke="url(#sb92)"/><path d="M408.3,165.3 417,163.5 425.3,161.1 433.3,158.4 441.1,155.3 448.6,151.8 455.8,148 462.9,143.8 469.7,139.3 476.4,134.5 482.9,129.3 483.9,130.3 477.4,135.5 470.7,140.3 463.9,144.9 456.9,149.1 449.6,153 442.1,156.6 434.4,159.7 426.4,162.6 418,165 409.4,167Z" fill="url(#sb93)" stroke="url(#sb93)"/><path d="M409.4,167 418,165 426.4,162.6 434.4,159.7 442.1,156.6 449.6,153 456.9,149.1 463.9,144.9 470.7,140.3 477.4,135.5 483.9,130.3 484.9,131.3 478.4,136.2 471.8,140.7 464.9,145.3 457.9,150 450.6,154.2 443.2,157.8 435.4,161.1 427.4,163.9 419.1,166.5 410.5,168.6Z" fill="url(#sb94)" stroke="url(#sb94)"/><path d="M410.5,168.6 419.1,166.5 427.4,163.9 435.4,161.1 443.2,157.8 450.6,154.2 457.9,150 464.9,145.3 471.8,140.7 478.4,136.2 484.9,131.3 485.9,132.2 479.4,136.6 472.8,141.1 466,145.7 458.9,150.4 451.7,155.4 444.2,159 436.5,162.3 428.5,165.3 420.2,167.9 411.6,170.1Z" fill="url(#sb95)" stroke="url(#sb95)"/></g>
<path d="M311.5,35.4 L320.2,139.6 L411.5,182.5 L485.9,132.2 M320.2,139.6 l-2,0.4 M319.2,127.6 l-2,0.4 M318.1,115.3 l-2,0.4 M317.1,102.8 l-2,0.4 M316,90 l-2,0.4 M314.9,76.8 l-2,0.4 M313.8,63.4 l-2,0.4 M312.6,49.6 l-2,0.4 M311.5,35.4 l-2,0.4 M320.2,139.6 l-1.8,1.2 M340.8,149.2 l-1.8,1.2 M362.7,159.6 l-1.8,1.2 M386.3,170.6 l-1.8,1.2 M411.5,182.5 l-1.8,1.2 M330.3,144.3 l-1,0.7 M351.6,154.3 l-1,0.7 M374.3,165 l-1,0.7 M398.7,176.5 l-1,0.7 M411.5,182.5 l2,0.9 M451.7,155.4 l2,0.9 M485.9,132.2 l2,0.9 M432.4,168.4 l1.1,0.5 M469.4,143.4 l1.1,0.5" fill="none" stroke="#444" stroke-width="0.55"/>
<text transform="translate(316.3 129.9) rotate(-22)" font-size="4.5" text-anchor="end" fill="#333">10</text>
<text transform="translate(315.2 117.6) rotate(-22)" font-size="4.5" text-anchor="end" fill="#333">20</text>
<text transform="translate(314.2 105.1) rotate(-22)" font-size="4.5" text-anchor="end" fill="#333">30</text>
<text transform="translate(313.1 92.3) rotate(-22)" font-size="4.5" text-anchor="end" fill="#333">40</text>
<text transform="translate(312 79.1) rotate(-22)" font-size="4.5" text-anchor="end" fill="#333">50</text>
<text transform="translate(310.9 65.7) rotate(-22)" font-size="4.5" text-anchor="end" fill="#333">60</text>
<text transform="translate(309.7 51.9) rotate(-22)" font-size="4.5" text-anchor="end" fill="#333">70</text>
<text transform="translate(308.6 37.7) rotate(-22)" font-size="4.5" text-anchor="end" fill="#333">80</text>
<text transform="translate(307.4 92.5) rotate(-94)" font-size="5.1" font-weight="bold" text-anchor="middle" fill="#222">Oxygenated Compounds (%)</text>
<text transform="matrix(0.891 -0.454 0.600 0.660 317.270 141.283)" font-size="4.6" text-anchor="end" fill="#333">Oak</text>
<text transform="matrix(0.891 -0.454 0.600 0.660 337.852 150.949)" font-size="4.6" text-anchor="end" fill="#333">2Oak:LDPE</text>
<text transform="matrix(0.891 -0.454 0.600 0.660 359.838 161.274)" font-size="4.6" text-anchor="end" fill="#333">Oak:LDPE</text>
<text transform="matrix(0.891 -0.454 0.600 0.660 383.374 172.328)" font-size="4.6" text-anchor="end" fill="#333">Oak:2LDPE</text>
<text transform="matrix(0.891 -0.454 0.600 0.660 408.633 184.190)" font-size="4.6" text-anchor="end" fill="#333">LDPE</text>
<text transform="matrix(0.891 0.454 -0.720 0.500 333.138 177.574)" font-size="5.2" text-anchor="middle" font-weight="bold" stroke="#222" stroke-width="0.12" fill="#222">Biomass:Plastic ratio</text>
<text transform="matrix(0.940 0.342 -0.600 0.620 414.533 186.290)" font-size="4.6" fill="#333">100</text>
<text transform="matrix(0.940 0.342 -0.600 0.620 454.671 159.156)" font-size="4.6" fill="#333">150</text>
<text transform="matrix(0.940 0.342 -0.600 0.620 488.872 136.036)" font-size="4.6" fill="#333">200</text>
<text transform="matrix(0.785 -0.479 0.640 0.660 467.271 164.356)" font-size="5.0" text-anchor="middle" font-weight="bold" stroke="#222" stroke-width="0.12" fill="#222">H<tspan font-size="3.4" dy="1">2</tspan><tspan dy="-1"> Pressure (psi)</tspan></text>
<text x="469.9" y="12.4" font-size="7" fill="#222">Oxygenated Compounds</text>
<defs><linearGradient id="g511" x1="0" y1="0" x2="0" y2="1"><stop offset="0.012" stop-color="#f00"/><stop offset="0.500" stop-color="#7600f8"/><stop offset="0.987" stop-color="#0f0"/></linearGradient></defs>
<rect x="511.6" y="17.2" width="5.9" height="105.1" fill="url(#g511)"/>
<rect x="511.6" y="121.3" width="5.9" height="1.2" fill="#111"/>
<rect x="511.6" y="16.9" width="5.9" height="0.7" fill="#e99"/>
<text x="522" y="20.3" font-size="5" fill="#333">79</text>
<text x="522" y="30.5" font-size="5" fill="#333">71</text>
<text x="522" y="40.8" font-size="5" fill="#333">64</text>
<text x="522" y="51" font-size="5" fill="#333">56</text>
<text x="522" y="61.3" font-size="5" fill="#333">48</text>
<text x="522" y="71.5" font-size="5" fill="#333">40</text>
<text x="522" y="81.7" font-size="5" fill="#333">32</text>
<text x="522" y="92" font-size="5" fill="#333">24</text>
<text x="522" y="102.2" font-size="5" fill="#333">16</text>
<text x="522" y="112.5" font-size="5" fill="#333">8</text>
<text x="522" y="122.7" font-size="5" fill="#333">0</text>
<path d="M517.8 18.5h1.8M517.8 28.7h1.8M517.8 39h1.8M517.8 49.2h1.8M517.8 59.5h1.8M517.8 69.7h1.8M517.8 79.9h1.8M517.8 90.2h1.8M517.8 100.4h1.8M517.8 110.7h1.8M517.8 120.9h1.8" stroke="#444" stroke-width="0.5" fill="none"/>
<text x="293.4" y="11.6" font-size="11.8" fill="#222" stroke="#222" stroke-width="0.25">(b)</text>
<defs><linearGradient id="hb0" x1="0" y1="0" x2="0" y2="1"><stop offset="0" stop-color="#f1001a"/><stop offset="0.125" stop-color="#ed0021"/><stop offset="0.25" stop-color="#e90028"/><stop offset="0.375" stop-color="#e6002e"/><stop offset="0.5" stop-color="#e20034"/><stop offset="0.625" stop-color="#e00039"/><stop offset="0.75" stop-color="#dd003d"/><stop offset="0.875" stop-color="#db0041"/><stop offset="1" stop-color="#d90044"/></linearGradient><linearGradient id="hb1" x1="0" y1="0" x2="0" y2="1"><stop offset="0" stop-color="#e90028"/><stop offset="0.125" stop-color="#e7002b"/><stop offset="0.25" stop-color="#e5002f"/><stop offset="0.375" stop-color="#e30033"/><stop offset="0.5" stop-color="#e10037"/><stop offset="0.625" stop-color="#de003c"/><stop offset="0.75" stop-color="#db0041"/><stop offset="0.875" stop-color="#d80047"/><stop offset="1" stop-color="#d5004d"/></linearGradient><linearGradient id="hb2" x1="0" y1="0" x2="0" y2="1"><stop offset="0" stop-color="#e20035"/><stop offset="0.125" stop-color="#e20034"/><stop offset="0.25" stop-color="#e20035"/><stop offset="0.375" stop-color="#e00038"/><stop offset="0.5" stop-color="#de003b"/><stop offset="0.625" stop-color="#dc0040"/><stop offset="0.75" stop-color="#d80046"/><stop offset="0.875" stop-color="#d4004d"/><stop offset="1" stop-color="#cf0056"/></linearGradient><linearGradient id="hb3" x1="0" y1="0" x2="0" y2="1"><stop offset="0" stop-color="#db0041"/><stop offset="0.125" stop-color="#dd003d"/><stop offset="0.25" stop-color="#de003c"/><stop offset="0.375" stop-color="#dd003d"/><stop offset="0.5" stop-color="#dc0040"/><stop offset="0.625" stop-color="#d90045"/><stop offset="0.75" stop-color="#d5004c"/><stop offset="0.875" stop-color="#d00055"/><stop offset="1" stop-color="#ca0060"/></linearGradient><linearGradient id="hb4" x1="0" y1="0" x2="0" y2="1"><stop offset="0" stop-color="#d5004d"/><stop offset="0.125" stop-color="#d80046"/><stop offset="0.25" stop-color="#da0043"/><stop offset="0.375" stop-color="#da0042"/><stop offset="0.5" stop-color="#d90045"/><stop offset="0.625" stop-color="#d6004a"/><stop offset="0.75" stop-color="#d20052"/><stop offset="0.875" stop-color="#cc005d"/><stop offset="1" stop-color="#c4006b"/></linearGradient><linearGradient id="hb5" x1="0" y1="0" x2="0" y2="1"><stop offset="0" stop-color="#cf0057"/><stop offset="0.125" stop-color="#d4004e"/><stop offset="0.25" stop-color="#d70049"/><stop offset="0.375" stop-color="#d70048"/><stop offset="0.5" stop-color="#d6004a"/><stop offset="0.625" stop-color="#d30050"/><stop offset="0.75" stop-color="#ce0059"/><stop offset="0.875" stop-color="#c60066"/><stop offset="1" stop-color="#bd0077"/></linearGradient><linearGradient id="hb6" x1="0" y1="0" x2="0" y2="1"><stop offset="0" stop-color="#c90061"/><stop offset="0.125" stop-color="#cf0057"/><stop offset="0.25" stop-color="#d30050"/><stop offset="0.375" stop-color="#d4004e"/><stop offset="0.5" stop-color="#d30050"/><stop offset="0.625" stop-color="#cf0056"/><stop offset="0.75" stop-color="#c90061"/><stop offset="0.875" stop-color="#c10070"/><stop offset="1" stop-color="#b70083"/></linearGradient><linearGradient id="hb7" x1="0" y1="0" x2="0" y2="1"><stop offset="0" stop-color="#c4006a"/><stop offset="0.125" stop-color="#cb005f"/><stop offset="0.25" stop-color="#cf0057"/><stop offset="0.375" stop-color="#d00055"/><stop offset="0.5" stop-color="#cf0057"/><stop offset="0.625" stop-color="#cb005e"/><stop offset="0.75" stop-color="#c50069"/><stop offset="0.875" stop-color="#bc0079"/><stop offset="1" stop-color="#b1008e"/></linearGradient><linearGradient id="hb8" x1="0" y1="0" x2="0" y2="1"><stop offset="0" stop-color="#c00072"/><stop offset="0.125" stop-color="#c60066"/><stop offset="0.25" stop-color="#cb005f"/><stop offset="0.375" stop-color="#cc005d"/><stop offset="0.5" stop-color="#cb005f"/><stop offset="0.625" stop-color="#c70066"/><stop offset="0.75" stop-color="#c00072"/><stop offset="0.875" stop-color="#b70083"/><stop offset="1" stop-color="#ab0098"/></linearGradient><linearGradient id="hb9" x1="0" y1="0" x2="0" y2="1"><stop offset="0" stop-color="#bb007a"/><stop offset="0.125" stop-color="#c2006e"/><stop offset="0.25" stop-color="#c60067"/><stop offset="0.375" stop-color="#c80064"/><stop offset="0.5" stop-color="#c60067"/><stop offset="0.625" stop-color="#c2006e"/><stop offset="0.75" stop-color="#bb007b"/><stop offset="0.875" stop-color="#b2008c"/><stop offset="1" stop-color="#a500a2"/></linearGradient><linearGradient id="hb10" x1="0" y1="0" x2="0" y2="1"><stop offset="0" stop-color="#b70083"/><stop offset="0.125" stop-color="#be0076"/><stop offset="0.25" stop-color="#c2006f"/><stop offset="0.375" stop-color="#c3006c"/><stop offset="0.5" stop-color="#c2006f"/><stop offset="0.625" stop-color="#be0076"/><stop offset="0.75" stop-color="#b60083"/><stop offset="0.875" stop-color="#ac0096"/><stop offset="1" stop-color="#a000ad"/></linearGradient><linearGradient id="hb11" x1="0" y1="0" x2="0" y2="1"><stop offset="0" stop-color="#b1008d"/><stop offset="0.125" stop-color="#b9007f"/><stop offset="0.25" stop-color="#bd0077"/><stop offset="0.375" stop-color="#bf0074"/><stop offset="0.5" stop-color="#bd0077"/><stop offset="0.625" stop-color="#b9007f"/><stop offset="0.75" stop-color="#b2008c"/><stop offset="0.875" stop-color="#a7009f"/><stop offset="1" stop-color="#9a00b7"/></linearGradient><linearGradient id="hb12" x1="0" y1="0" x2="0" y2="1"><stop offset="0" stop-color="#ab0097"/><stop offset="0.125" stop-color="#b40089"/><stop offset="0.25" stop-color="#b90080"/><stop offset="0.375" stop-color="#ba007c"/><stop offset="0.5" stop-color="#b9007f"/><stop offset="0.625" stop-color="#b40087"/><stop offset="0.75" stop-color="#ad0095"/><stop offset="0.875" stop-color="#a200a8"/><stop offset="1" stop-color="#9400c2"/></linearGradient><linearGradient id="hb13" x1="0" y1="0" x2="0" y2="1"><stop offset="0" stop-color="#a500a2"/><stop offset="0.125" stop-color="#ae0093"/><stop offset="0.25" stop-color="#b30089"/><stop offset="0.375" stop-color="#b60085"/><stop offset="0.5" stop-color="#b40087"/><stop offset="0.625" stop-color="#b0008f"/><stop offset="0.75" stop-color="#a8009d"/><stop offset="0.875" stop-color="#9d00b1"/><stop offset="1" stop-color="#8f00cb"/></linearGradient><linearGradient id="hb14" x1="0" y1="0" x2="0" y2="1"><stop offset="0" stop-color="#9f00ad"/><stop offset="0.125" stop-color="#a8009d"/><stop offset="0.25" stop-color="#ae0092"/><stop offset="0.375" stop-color="#b1008e"/><stop offset="0.5" stop-color="#b00090"/><stop offset="0.625" stop-color="#ab0098"/><stop offset="0.75" stop-color="#a300a6"/><stop offset="0.875" stop-color="#9800ba"/><stop offset="1" stop-color="#8a00d5"/></linearGradient><linearGradient id="hb15" x1="0" y1="0" x2="0" y2="1"><stop offset="0" stop-color="#9a00b8"/><stop offset="0.125" stop-color="#a300a7"/><stop offset="0.25" stop-color="#a9009c"/><stop offset="0.375" stop-color="#ac0097"/><stop offset="0.5" stop-color="#ab0099"/><stop offset="0.625" stop-color="#a600a1"/><stop offset="0.75" stop-color="#9f00af"/><stop offset="0.875" stop-color="#9300c3"/><stop offset="1" stop-color="#8500dd"/></linearGradient><linearGradient id="hb16" x1="0" y1="0" x2="0" y2="1"><stop offset="0" stop-color="#9400c2"/><stop offset="0.125" stop-color="#9d00b1"/><stop offset="0.25" stop-color="#a300a6"/><stop offset="0.375" stop-color="#a600a1"/><stop offset="0.5" stop-color="#a500a2"/><stop offset="0.625" stop-color="#a100aa"/><stop offset="0.75" stop-color="#9a00b7"/><stop offset="0.875" stop-color="#8f00cb"/><stop offset="1" stop-color="#8000e5"/></linearGradient><linearGradient id="hb17" x1="0" y1="0" x2="0" y2="1"><stop offset="0" stop-color="#8e00cd"/><stop offset="0.125" stop-color="#9700bb"/><stop offset="0.25" stop-color="#9e00b0"/><stop offset="0.375" stop-color="#a100ab"/><stop offset="0.5" stop-color="#a000ac"/><stop offset="0.625" stop-color="#9c00b3"/><stop offset="0.75" stop-color="#9500c0"/><stop offset="0.875" stop-color="#8b00d3"/><stop offset="1" stop-color="#7d00ec"/></linearGradient><linearGradient id="hb18" x1="0" y1="0" x2="0" y2="1"><stop offset="0" stop-color="#8900d6"/><stop offset="0.125" stop-color="#9200c6"/><stop offset="0.25" stop-color="#9800bb"/><stop offset="0.375" stop-color="#9b00b5"/><stop offset="0.5" stop-color="#9b00b6"/><stop offset="0.625" stop-color="#9700bc"/><stop offset="0.75" stop-color="#9100c8"/><stop offset="0.875" stop-color="#8700da"/><stop offset="1" stop-color="#7a00f1"/></linearGradient><linearGradient id="hb19" x1="0" y1="0" x2="0" y2="1"><stop offset="0" stop-color="#8300e0"/><stop offset="0.125" stop-color="#8c00d0"/><stop offset="0.25" stop-color="#9200c5"/><stop offset="0.375" stop-color="#9500c0"/><stop offset="0.5" stop-color="#9500c0"/><stop offset="0.625" stop-color="#9200c5"/><stop offset="0.75" stop-color="#8c00d0"/><stop offset="0.875" stop-color="#8300e1"/><stop offset="1" stop-color="#7700f6"/></linearGradient><linearGradient id="hb20" x1="0" y1="0" x2="0" y2="1"><stop offset="0" stop-color="#7e00e9"/><stop offset="0.125" stop-color="#8700d9"/><stop offset="0.25" stop-color="#8d00cf"/><stop offset="0.375" stop-color="#9000c9"/><stop offset="0.5" stop-color="#9000c9"/><stop offset="0.625" stop-color="#8d00ce"/><stop offset="0.75" stop-color="#8800d8"/><stop offset="0.875" stop-color="#7f00e7"/><stop offset="1" stop-color="#7403f5"/></linearGradient><linearGradient id="hb21" x1="0" y1="0" x2="0" y2="1"><stop offset="0" stop-color="#7900f2"/><stop offset="0.125" stop-color="#8200e3"/><stop offset="0.25" stop-color="#8700d8"/><stop offset="0.375" stop-color="#8a00d3"/><stop offset="0.5" stop-color="#8b00d2"/><stop offset="0.625" stop-color="#8800d7"/><stop offset="0.75" stop-color="#8300e0"/><stop offset="0.875" stop-color="#7c00ed"/><stop offset="1" stop-color="#7208f0"/></linearGradient><linearGradient id="hb22" x1="0" y1="0" x2="0" y2="1"><stop offset="0" stop-color="#7502f6"/><stop offset="0.125" stop-color="#7d00ec"/><stop offset="0.25" stop-color="#8200e2"/><stop offset="0.375" stop-color="#8500dc"/><stop offset="0.5" stop-color="#8600db"/><stop offset="0.625" stop-color="#8400df"/><stop offset="0.75" stop-color="#7f00e7"/><stop offset="0.875" stop-color="#7800f4"/><stop offset="1" stop-color="#700deb"/></linearGradient><linearGradient id="hb23" x1="0" y1="0" x2="0" y2="1"><stop offset="0" stop-color="#710bee"/><stop offset="0.125" stop-color="#7800f5"/><stop offset="0.25" stop-color="#7d00eb"/><stop offset="0.375" stop-color="#8000e6"/><stop offset="0.5" stop-color="#8100e4"/><stop offset="0.625" stop-color="#7f00e7"/><stop offset="0.75" stop-color="#7c00ee"/><stop offset="0.875" stop-color="#7601f7"/><stop offset="1" stop-color="#6f10e9"/></linearGradient><linearGradient id="hb24" x1="0" y1="0" x2="0" y2="1"><stop offset="0" stop-color="#6d12e6"/><stop offset="0.125" stop-color="#7306f3"/><stop offset="0.25" stop-color="#7800f5"/><stop offset="0.375" stop-color="#7b00ef"/><stop offset="0.5" stop-color="#7c00ed"/><stop offset="0.625" stop-color="#7b00ef"/><stop offset="0.75" stop-color="#7800f4"/><stop offset="0.875" stop-color="#7405f3"/><stop offset="1" stop-color="#6e12e7"/></linearGradient><linearGradient id="hb25" x1="0" y1="0" x2="0" y2="1"><stop offset="0" stop-color="#6a1adf"/><stop offset="0.125" stop-color="#6f0eea"/><stop offset="0.25" stop-color="#7306f2"/><stop offset="0.375" stop-color="#7600f8"/><stop offset="0.5" stop-color="#7700f6"/><stop offset="0.625" stop-color="#7700f7"/><stop offset="0.75" stop-color="#7503f6"/><stop offset="0.875" stop-color="#7209ef"/><stop offset="1" stop-color="#6d13e5"/></linearGradient><linearGradient id="hb26" x1="0" y1="0" x2="0" y2="1"><stop offset="0" stop-color="#6721d8"/><stop offset="0.125" stop-color="#6b17e2"/><stop offset="0.25" stop-color="#6f0fe9"/><stop offset="0.375" stop-color="#710aee"/><stop offset="0.5" stop-color="#7307f1"/><stop offset="0.625" stop-color="#7307f1"/><stop offset="0.75" stop-color="#7209ef"/><stop offset="0.875" stop-color="#700eeb"/><stop offset="1" stop-color="#6c15e4"/></linearGradient><linearGradient id="hb27" x1="0" y1="0" x2="0" y2="1"><stop offset="0" stop-color="#6328d1"/><stop offset="0.125" stop-color="#681fda"/><stop offset="0.25" stop-color="#6b18e1"/><stop offset="0.375" stop-color="#6d13e5"/><stop offset="0.5" stop-color="#6f10e8"/><stop offset="0.625" stop-color="#6f0fea"/><stop offset="0.75" stop-color="#6f10e9"/><stop offset="0.875" stop-color="#6d13e6"/><stop offset="1" stop-color="#6b17e1"/></linearGradient><linearGradient id="hb28" x1="0" y1="0" x2="0" y2="1"><stop offset="0" stop-color="#602fcb"/><stop offset="0.125" stop-color="#6427d2"/><stop offset="0.25" stop-color="#6721d8"/><stop offset="0.375" stop-color="#691cdd"/><stop offset="0.5" stop-color="#6b19e0"/><stop offset="0.625" stop-color="#6b17e2"/><stop offset="0.75" stop-color="#6c17e2"/><stop offset="0.875" stop-color="#6b18e1"/><stop offset="1" stop-color="#6a1ade"/></linearGradient><linearGradient id="hb29" x1="0" y1="0" x2="0" y2="1"><stop offset="0" stop-color="#5e35c5"/><stop offset="0.125" stop-color="#612ecb"/><stop offset="0.25" stop-color="#6329d0"/><stop offset="0.375" stop-color="#6525d4"/><stop offset="0.5" stop-color="#6721d8"/><stop offset="0.625" stop-color="#681fda"/><stop offset="0.75" stop-color="#681ddb"/><stop offset="0.875" stop-color="#691ddc"/><stop offset="1" stop-color="#681ddb"/></linearGradient><linearGradient id="hb30" x1="0" y1="0" x2="0" y2="1"><stop offset="0" stop-color="#5b3ac0"/><stop offset="0.125" stop-color="#5d35c4"/><stop offset="0.25" stop-color="#5f31c8"/><stop offset="0.375" stop-color="#612dcc"/><stop offset="0.5" stop-color="#632ad0"/><stop offset="0.625" stop-color="#6426d3"/><stop offset="0.75" stop-color="#6524d5"/><stop offset="0.875" stop-color="#6721d7"/><stop offset="1" stop-color="#6720d9"/></linearGradient><linearGradient id="hb31" x1="0" y1="0" x2="0" y2="1"><stop offset="0" stop-color="#593fbb"/><stop offset="0.125" stop-color="#5a3cbe"/><stop offset="0.25" stop-color="#5c39c1"/><stop offset="0.375" stop-color="#5d35c4"/><stop offset="0.5" stop-color="#5f31c8"/><stop offset="0.625" stop-color="#612ecc"/><stop offset="0.75" stop-color="#6329d0"/><stop offset="0.875" stop-color="#6525d4"/><stop offset="1" stop-color="#6720d9"/></linearGradient><linearGradient id="hb32" x1="0" y1="0" x2="0" y2="1"><stop offset="0" stop-color="#5743b7"/><stop offset="0.125" stop-color="#5742b8"/><stop offset="0.25" stop-color="#5840ba"/><stop offset="0.375" stop-color="#5a3dbd"/><stop offset="0.5" stop-color="#5c39c0"/><stop offset="0.625" stop-color="#5e34c5"/><stop offset="0.75" stop-color="#602fcb"/><stop offset="0.875" stop-color="#6428d1"/><stop offset="1" stop-color="#6720d9"/></linearGradient><linearGradient id="hb33" x1="0" y1="0" x2="0" y2="1"><stop offset="0" stop-color="#5547b3"/><stop offset="0.125" stop-color="#5548b2"/><stop offset="0.25" stop-color="#5547b3"/><stop offset="0.375" stop-color="#5645b5"/><stop offset="0.5" stop-color="#5841b9"/><stop offset="0.625" stop-color="#5b3bbf"/><stop offset="0.75" stop-color="#5e34c6"/><stop offset="0.875" stop-color="#622bce"/><stop offset="1" stop-color="#6720d9"/></linearGradient><linearGradient id="hb34" x1="0" y1="0" x2="0" y2="1"><stop offset="0" stop-color="#5449b1"/><stop offset="0.125" stop-color="#534dae"/><stop offset="0.25" stop-color="#524dad"/><stop offset="0.375" stop-color="#534cae"/><stop offset="0.5" stop-color="#5548b2"/><stop offset="0.625" stop-color="#5842b8"/><stop offset="0.75" stop-color="#5c39c1"/><stop offset="0.875" stop-color="#612ecb"/><stop offset="1" stop-color="#6720d9"/></linearGradient><linearGradient id="hb35" x1="0" y1="0" x2="0" y2="1"><stop offset="0" stop-color="#534baf"/><stop offset="0.125" stop-color="#5051a9"/><stop offset="0.25" stop-color="#4f54a7"/><stop offset="0.375" stop-color="#5053a7"/><stop offset="0.5" stop-color="#514fab"/><stop offset="0.625" stop-color="#5548b2"/><stop offset="0.75" stop-color="#593ebc"/><stop offset="0.875" stop-color="#5f31c9"/><stop offset="1" stop-color="#6720d9"/></linearGradient><linearGradient id="hb36" x1="0" y1="0" x2="0" y2="1"><stop offset="0" stop-color="#524eac"/><stop offset="0.125" stop-color="#4e56a5"/><stop offset="0.25" stop-color="#4d5aa1"/><stop offset="0.375" stop-color="#4d5aa1"/><stop offset="0.5" stop-color="#4e56a5"/><stop offset="0.625" stop-color="#524eac"/><stop offset="0.75" stop-color="#5742b8"/><stop offset="0.875" stop-color="#5f32c7"/><stop offset="1" stop-color="#681fda"/></linearGradient><linearGradient id="hb37" x1="0" y1="0" x2="0" y2="1"><stop offset="0" stop-color="#5151a9"/><stop offset="0.125" stop-color="#4c5ba0"/><stop offset="0.25" stop-color="#4a609b"/><stop offset="0.375" stop-color="#49609a"/><stop offset="0.5" stop-color="#4b5c9f"/><stop offset="0.625" stop-color="#5053a7"/><stop offset="0.75" stop-color="#5645b5"/><stop offset="0.875" stop-color="#5f33c7"/><stop offset="1" stop-color="#691bdd"/></linearGradient><linearGradient id="hb38" x1="0" y1="0" x2="0" y2="1"><stop offset="0" stop-color="#4f54a6"/><stop offset="0.125" stop-color="#4a609b"/><stop offset="0.25" stop-color="#476695"/><stop offset="0.375" stop-color="#466794"/><stop offset="0.5" stop-color="#496299"/><stop offset="0.625" stop-color="#4d58a3"/><stop offset="0.75" stop-color="#5548b2"/><stop offset="0.875" stop-color="#5f32c7"/><stop offset="1" stop-color="#6b17e1"/></linearGradient><linearGradient id="hb39" x1="0" y1="0" x2="0" y2="1"><stop offset="0" stop-color="#4d58a2"/><stop offset="0.125" stop-color="#476695"/><stop offset="0.25" stop-color="#446d8e"/><stop offset="0.375" stop-color="#436d8e"/><stop offset="0.5" stop-color="#466893"/><stop offset="0.625" stop-color="#4b5d9e"/><stop offset="0.75" stop-color="#534baf"/><stop offset="0.875" stop-color="#5e33c7"/><stop offset="1" stop-color="#6c15e4"/></linearGradient><linearGradient id="hb40" x1="0" y1="0" x2="0" y2="1"><stop offset="0" stop-color="#4b5d9e"/><stop offset="0.125" stop-color="#446b90"/><stop offset="0.25" stop-color="#417388"/><stop offset="0.375" stop-color="#407487"/><stop offset="0.5" stop-color="#436e8d"/><stop offset="0.625" stop-color="#496299"/><stop offset="0.75" stop-color="#524eac"/><stop offset="0.875" stop-color="#5e34c5"/><stop offset="1" stop-color="#6d14e5"/></linearGradient><linearGradient id="hb41" x1="0" y1="0" x2="0" y2="1"><stop offset="0" stop-color="#486398"/><stop offset="0.125" stop-color="#417289"/><stop offset="0.25" stop-color="#3e7a81"/><stop offset="0.375" stop-color="#3d7b80"/><stop offset="0.5" stop-color="#407587"/><stop offset="0.625" stop-color="#466794"/><stop offset="0.75" stop-color="#5052a8"/><stop offset="0.875" stop-color="#5d36c3"/><stop offset="1" stop-color="#6d13e6"/></linearGradient><linearGradient id="hb42" x1="0" y1="0" x2="0" y2="1"><stop offset="0" stop-color="#456991"/><stop offset="0.125" stop-color="#3e7982"/><stop offset="0.25" stop-color="#3a827a"/><stop offset="0.375" stop-color="#3a8279"/><stop offset="0.5" stop-color="#3d7b80"/><stop offset="0.625" stop-color="#446d8e"/><stop offset="0.75" stop-color="#4e56a4"/><stop offset="0.875" stop-color="#5c38c1"/><stop offset="1" stop-color="#6e12e6"/></linearGradient><linearGradient id="hb43" x1="0" y1="0" x2="0" y2="1"><stop offset="0" stop-color="#42708b"/><stop offset="0.125" stop-color="#3a817a"/><stop offset="0.25" stop-color="#368a72"/><stop offset="0.375" stop-color="#368a72"/><stop offset="0.5" stop-color="#3a8279"/><stop offset="0.625" stop-color="#417289"/><stop offset="0.75" stop-color="#4c5aa0"/><stop offset="0.875" stop-color="#5b3abf"/><stop offset="1" stop-color="#6e12e6"/></linearGradient><linearGradient id="hb44" x1="0" y1="0" x2="0" y2="1"><stop offset="0" stop-color="#3f7884"/><stop offset="0.125" stop-color="#378873"/><stop offset="0.25" stop-color="#33916b"/><stop offset="0.375" stop-color="#33916b"/><stop offset="0.5" stop-color="#378973"/><stop offset="0.625" stop-color="#3f7883"/><stop offset="0.75" stop-color="#4a5f9c"/><stop offset="0.875" stop-color="#5a3dbc"/><stop offset="1" stop-color="#6d13e5"/></linearGradient><linearGradient id="hb45" x1="0" y1="0" x2="0" y2="1"><stop offset="0" stop-color="#3b7f7c"/><stop offset="0.125" stop-color="#348f6d"/><stop offset="0.25" stop-color="#309765"/><stop offset="0.375" stop-color="#309765"/><stop offset="0.5" stop-color="#348e6e"/><stop offset="0.625" stop-color="#3c7d7f"/><stop offset="0.75" stop-color="#486397"/><stop offset="0.875" stop-color="#5841b8"/><stop offset="1" stop-color="#6b17e2"/></linearGradient><linearGradient id="hb46" x1="0" y1="0" x2="0" y2="1"><stop offset="0" stop-color="#388675"/><stop offset="0.125" stop-color="#319667"/><stop offset="0.25" stop-color="#2e9d60"/><stop offset="0.375" stop-color="#2e9b61"/><stop offset="0.5" stop-color="#32926a"/><stop offset="0.625" stop-color="#3a817b"/><stop offset="0.75" stop-color="#466794"/><stop offset="0.875" stop-color="#5646b4"/><stop offset="1" stop-color="#691cdd"/></linearGradient><linearGradient id="hb47" x1="0" y1="0" x2="0" y2="1"><stop offset="0" stop-color="#358d6f"/><stop offset="0.125" stop-color="#2e9b61"/><stop offset="0.25" stop-color="#2ba15b"/><stop offset="0.375" stop-color="#2c9f5d"/><stop offset="0.5" stop-color="#319667"/><stop offset="0.625" stop-color="#398478"/><stop offset="0.75" stop-color="#456b90"/><stop offset="0.875" stop-color="#544ab0"/><stop offset="1" stop-color="#6721d8"/></linearGradient><linearGradient id="hb48" x1="0" y1="0" x2="0" y2="1"><stop offset="0" stop-color="#329369"/><stop offset="0.125" stop-color="#2ca05d"/><stop offset="0.25" stop-color="#2aa558"/><stop offset="0.375" stop-color="#2ba25a"/><stop offset="0.5" stop-color="#2f9964"/><stop offset="0.625" stop-color="#378774"/><stop offset="0.75" stop-color="#436f8c"/><stop offset="0.875" stop-color="#524eac"/><stop offset="1" stop-color="#6427d2"/></linearGradient><linearGradient id="hb49" x1="0" y1="0" x2="0" y2="1"><stop offset="0" stop-color="#309864"/><stop offset="0.125" stop-color="#2aa459"/><stop offset="0.25" stop-color="#28a854"/><stop offset="0.375" stop-color="#29a657"/><stop offset="0.5" stop-color="#2e9c60"/><stop offset="0.625" stop-color="#368b71"/><stop offset="0.75" stop-color="#417388"/><stop offset="0.875" stop-color="#4f54a6"/><stop offset="1" stop-color="#612ecb"/></linearGradient><linearGradient id="hb50" x1="0" y1="0" x2="0" y2="1"><stop offset="0" stop-color="#2d9e5f"/><stop offset="0.125" stop-color="#28a954"/><stop offset="0.25" stop-color="#26ad50"/><stop offset="0.375" stop-color="#27aa53"/><stop offset="0.5" stop-color="#2ca05c"/><stop offset="0.625" stop-color="#33906c"/><stop offset="0.75" stop-color="#3e7982"/><stop offset="0.875" stop-color="#4c5ba0"/><stop offset="1" stop-color="#5d36c3"/></linearGradient><linearGradient id="hb51" x1="0" y1="0" x2="0" y2="1"><stop offset="0" stop-color="#2aa458"/><stop offset="0.125" stop-color="#25af4e"/><stop offset="0.25" stop-color="#23b34a"/><stop offset="0.375" stop-color="#25b04d"/><stop offset="0.5" stop-color="#29a756"/><stop offset="0.625" stop-color="#309766"/><stop offset="0.75" stop-color="#3b807c"/><stop offset="0.875" stop-color="#486298"/><stop offset="1" stop-color="#593ebb"/></linearGradient><linearGradient id="hb52" x1="0" y1="0" x2="0" y2="1"><stop offset="0" stop-color="#26ad50"/><stop offset="0.125" stop-color="#21b845"/><stop offset="0.25" stop-color="#1fbb42"/><stop offset="0.375" stop-color="#21b944"/><stop offset="0.5" stop-color="#25af4e"/><stop offset="0.625" stop-color="#2c9f5d"/><stop offset="0.75" stop-color="#378973"/><stop offset="0.875" stop-color="#446c8f"/><stop offset="1" stop-color="#5548b2"/></linearGradient><linearGradient id="hb53" x1="0" y1="0" x2="0" y2="1"><stop offset="0" stop-color="#22b647"/><stop offset="0.125" stop-color="#1dc13d"/><stop offset="0.25" stop-color="#1bc539"/><stop offset="0.375" stop-color="#1cc23b"/><stop offset="0.5" stop-color="#21b944"/><stop offset="0.625" stop-color="#28a954"/><stop offset="0.75" stop-color="#329369"/><stop offset="0.875" stop-color="#3f7685"/><stop offset="1" stop-color="#5052a8"/></linearGradient><linearGradient id="hb54" x1="0" y1="0" x2="0" y2="1"><stop offset="0" stop-color="#1ebf3e"/><stop offset="0.125" stop-color="#19c935"/><stop offset="0.25" stop-color="#17cd31"/><stop offset="0.375" stop-color="#19ca34"/><stop offset="0.5" stop-color="#1dc13c"/><stop offset="0.625" stop-color="#24b24b"/><stop offset="0.75" stop-color="#2e9c60"/><stop offset="0.875" stop-color="#3b807c"/><stop offset="1" stop-color="#4b5d9d"/></linearGradient><linearGradient id="hb55" x1="0" y1="0" x2="0" y2="1"><stop offset="0" stop-color="#1ac637"/><stop offset="0.125" stop-color="#16d02e"/><stop offset="0.25" stop-color="#14d32b"/><stop offset="0.375" stop-color="#15d12d"/><stop offset="0.5" stop-color="#1ac836"/><stop offset="0.625" stop-color="#20b944"/><stop offset="0.75" stop-color="#2aa459"/><stop offset="0.875" stop-color="#378973"/><stop offset="1" stop-color="#466793"/></linearGradient><linearGradient id="hb56" x1="0" y1="0" x2="0" y2="1"><stop offset="0" stop-color="#17cd30"/><stop offset="0.125" stop-color="#13d628"/><stop offset="0.25" stop-color="#11d925"/><stop offset="0.375" stop-color="#13d727"/><stop offset="0.5" stop-color="#17ce30"/><stop offset="0.625" stop-color="#1dc03e"/><stop offset="0.75" stop-color="#27ab51"/><stop offset="0.875" stop-color="#33916b"/><stop offset="1" stop-color="#417289"/></linearGradient><linearGradient id="hb57" x1="0" y1="0" x2="0" y2="1"><stop offset="0" stop-color="#14d42a"/><stop offset="0.125" stop-color="#10dc22"/><stop offset="0.25" stop-color="#0fdf1f"/><stop offset="0.375" stop-color="#10dc22"/><stop offset="0.5" stop-color="#14d42a"/><stop offset="0.625" stop-color="#1ac637"/><stop offset="0.75" stop-color="#23b34a"/><stop offset="0.875" stop-color="#2f9a62"/><stop offset="1" stop-color="#3d7c7f"/></linearGradient><linearGradient id="hb58" x1="0" y1="0" x2="0" y2="1"><stop offset="0" stop-color="#11db23"/><stop offset="0.125" stop-color="#0de21c"/><stop offset="0.25" stop-color="#0ce51a"/><stop offset="0.375" stop-color="#0ee21d"/><stop offset="0.5" stop-color="#11da24"/><stop offset="0.625" stop-color="#17cd31"/><stop offset="0.75" stop-color="#20ba43"/><stop offset="0.875" stop-color="#2ba35a"/><stop offset="1" stop-color="#388675"/></linearGradient><linearGradient id="hb59" x1="0" y1="0" x2="0" y2="1"><stop offset="0" stop-color="#0ee11d"/><stop offset="0.125" stop-color="#0be817"/><stop offset="0.25" stop-color="#0aea15"/><stop offset="0.375" stop-color="#0be717"/><stop offset="0.5" stop-color="#0fdf1f"/><stop offset="0.625" stop-color="#14d32b"/><stop offset="0.75" stop-color="#1cc23c"/><stop offset="0.875" stop-color="#27ab51"/><stop offset="1" stop-color="#33916b"/></linearGradient><linearGradient id="hb60" x1="0" y1="0" x2="0" y2="1"><stop offset="0" stop-color="#0be717"/><stop offset="0.125" stop-color="#08ed11"/><stop offset="0.25" stop-color="#07ef10"/><stop offset="0.375" stop-color="#09ec12"/><stop offset="0.5" stop-color="#0ce519"/><stop offset="0.625" stop-color="#11d925"/><stop offset="0.75" stop-color="#19c935"/><stop offset="0.875" stop-color="#23b449"/><stop offset="1" stop-color="#2e9b61"/></linearGradient><linearGradient id="hb61" x1="0" y1="0" x2="0" y2="1"><stop offset="0" stop-color="#08ed12"/><stop offset="0.125" stop-color="#06f30c"/><stop offset="0.25" stop-color="#05f40a"/><stop offset="0.375" stop-color="#06f20d"/><stop offset="0.5" stop-color="#09eb14"/><stop offset="0.625" stop-color="#0ee01e"/><stop offset="0.75" stop-color="#16d02d"/><stop offset="0.875" stop-color="#1fbd40"/><stop offset="1" stop-color="#2aa557"/></linearGradient><linearGradient id="hb62" x1="0" y1="0" x2="0" y2="1"><stop offset="0" stop-color="#06f20c"/><stop offset="0.125" stop-color="#03f807"/><stop offset="0.25" stop-color="#03fa05"/><stop offset="0.375" stop-color="#04f708"/><stop offset="0.5" stop-color="#07f10e"/><stop offset="0.625" stop-color="#0ce618"/><stop offset="0.75" stop-color="#12d826"/><stop offset="0.875" stop-color="#1bc538"/><stop offset="1" stop-color="#25ae4e"/></linearGradient><linearGradient id="hb63" x1="0" y1="0" x2="0" y2="1"><stop offset="0" stop-color="#03f807"/><stop offset="0.125" stop-color="#01fd02"/><stop offset="0.25" stop-color="#0f0"/><stop offset="0.375" stop-color="#01fd02"/><stop offset="0.5" stop-color="#04f608"/><stop offset="0.625" stop-color="#09ec12"/><stop offset="0.75" stop-color="#0fde20"/><stop offset="0.875" stop-color="#17cd31"/><stop offset="1" stop-color="#21b746"/></linearGradient><linearGradient id="hb64" x1="0" y1="0" x2="0" y2="1"><stop offset="0" stop-color="#01fd02"/><stop offset="0.125" stop-color="#0f0"/><stop offset="0.25" stop-color="#0f0"/><stop offset="0.375" stop-color="#0f0"/><stop offset="0.5" stop-color="#01fc03"/><stop offset="0.625" stop-color="#06f20c"/><stop offset="0.75" stop-color="#0ce519"/><stop offset="0.875" stop-color="#14d42a"/><stop offset="1" stop-color="#1ebf3f"/></linearGradient></defs>
<g shape-rendering="crispEdges"><path d="M350.1 218H352.1V333.4H350.1Z" fill="url(#hb0)"/><path d="M352.1 218H354.1V333.4H352.1Z" fill="url(#hb1)"/><path d="M354.1 218H356.1V333.4H354.1Z" fill="url(#hb2)"/><path d="M356.1 218H358.1V333.4H356.1Z" fill="url(#hb3)"/><path d="M358.1 218H360.1V333.4H358.1Z" fill="url(#hb4)"/><path d="M360.1 218H362.1V333.4H360.1Z" fill="url(#hb5)"/><path d="M362.1 218H364.1V333.4H362.1Z" fill="url(#hb6)"/><path d="M364.1 218H366.1V333.4H364.1Z" fill="url(#hb7)"/><path d="M366.1 218H368.1V333.4H366.1Z" fill="url(#hb8)"/><path d="M368.1 218H370.1V333.4H368.1Z" fill="url(#hb9)"/><path d="M370.1 218H372.1V333.4H370.1Z" fill="url(#hb10)"/><path d="M372.1 218H374.1V333.4H372.1Z" fill="url(#hb11)"/><path d="M374.1 218H376.1V333.4H374.1Z" fill="url(#hb12)"/><path d="M376.1 218H378.1V333.4H376.1Z" fill="url(#hb13)"/><path d="M378.1 218H380.1V333.4H378.1Z" fill="url(#hb14)"/><path d="M380.1 218H382.1V333.4H380.1Z" fill="url(#hb15)"/><path d="M382.1 218H384.1V333.4H382.1Z" fill="url(#hb16)"/><path d="M384.1 218H386.1V333.4H384.1Z" fill="url(#hb17)"/><path d="M386.1 218H388.1V333.4H386.1Z" fill="url(#hb18)"/><path d="M388.1 218H390.1V333.4H388.1Z" fill="url(#hb19)"/><path d="M390.1 218H392.1V333.4H390.1Z" fill="url(#hb20)"/><path d="M392.1 218H394.1V333.4H392.1Z" fill="url(#hb21)"/><path d="M394.1 218H396.1V333.4H394.1Z" fill="url(#hb22)"/><path d="M396.1 218H398.1V333.4H396.1Z" fill="url(#hb23)"/><path d="M398.1 218H400.1V333.4H398.1Z" fill="url(#hb24)"/><path d="M400.1 218H402.1V333.4H400.1Z" fill="url(#hb25)"/><path d="M402.1 218H404.1V333.4H402.1Z" fill="url(#hb26)"/><path d="M404.1 218H406.1V333.4H404.1Z" fill="url(#hb27)"/><path d="M406.1 218H408.1V333.4H406.1Z" fill="url(#hb28)"/><path d="M408.1 218H410.1V333.4H408.1Z" fill="url(#hb29)"/><path d="M410.1 218H412.1V333.4H410.1Z" fill="url(#hb30)"/><path d="M412.1 218H414.1V333.4H412.1Z" fill="url(#hb31)"/><path d="M414.1 218H416.1V333.4H414.1Z" fill="url(#hb32)"/><path d="M416.1 218H418.1V333.4H416.1Z" fill="url(#hb33)"/><path d="M418.1 218H420.1V333.4H418.1Z" fill="url(#hb34)"/><path d="M420.1 218H422.1V333.4H420.1Z" fill="url(#hb35)"/><path d="M422.1 218H424.1V333.4H422.1Z" fill="url(#hb36)"/><path d="M424.1 218H426.1V333.4H424.1Z" fill="url(#hb37)"/><path d="M426.1 218H428.1V333.4H426.1Z" fill="url(#hb38)"/><path d="M428.1 218H430.1V333.4H428.1Z" fill="url(#hb39)"/><path d="M430.1 218H432.1V333.4H430.1Z" fill="url(#hb40)"/><path d="M432.1 218H434.1V333.4H432.1Z" fill="url(#hb41)"/><path d="M434.1 218H436.1V333.4H434.1Z" fill="url(#hb42)"/><path d="M436.1 218H438.1V333.4H436.1Z" fill="url(#hb43)"/><path d="M438.1 218H440.1V333.4H438.1Z" fill="url(#hb44)"/><path d="M440.1 218H442.1V333.4H440.1Z" fill="url(#hb45)"/><path d="M442.1 218H444.1V333.4H442.1Z" fill="url(#hb46)"/><path d="M444.1 218H446.1V333.4H444.1Z" fill="url(#hb47)"/><path d="M446.1 218H448.1V333.4H446.1Z" fill="url(#hb48)"/><path d="M448.1 218H450.1V333.4H448.1Z" fill="url(#hb49)"/><path d="M450.1 218H452.1V333.4H450.1Z" fill="url(#hb50)"/><path d="M452.1 218H454.1V333.4H452.1Z" fill="url(#hb51)"/><path d="M454.1 218H456.1V333.4H454.1Z" fill="url(#hb52)"/><path d="M456.1 218H458.1V333.4H456.1Z" fill="url(#hb53)"/><path d="M458.1 218H460.1V333.4H458.1Z" fill="url(#hb54)"/><path d="M460.1 218H462.1V333.4H460.1Z" fill="url(#hb55)"/><path d="M462.1 218H464.1V333.4H462.1Z" fill="url(#hb56)"/><path d="M464.1 218H466.1V333.4H464.1Z" fill="url(#hb57)"/><path d="M466.1 218H468.1V333.4H466.1Z" fill="url(#hb58)"/><path d="M468.1 218H470.1V333.4H468.1Z" fill="url(#hb59)"/><path d="M470.1 218H472.1V333.4H470.1Z" fill="url(#hb60)"/><path d="M472.1 218H474.1V333.4H472.1Z" fill="url(#hb61)"/><path d="M474.1 218H476.1V333.4H474.1Z" fill="url(#hb62)"/><path d="M476.1 218H478.1V333.4H476.1Z" fill="url(#hb63)"/><path d="M478.1 218H480.1V333.4H478.1Z" fill="url(#hb64)"/></g>
<path d="M480.1,294.3 L479,290.1 L478.2,287.2 L476.9,281.5 L476.2,278.6 L475.2,273.6 L474.5,269.9 L473.7,264.2 L473.3,261.3 L472.7,255.5 L472.4,249.7 L472.3,244 L472.5,238.2 L472.9,232.4 L473.6,226.7 L474,223.8 L475,218 M480.1,307.4 L478.5,302.5 L477.3,298.8 L476.5,295.9 L475.2,291.6 L474,287.2 L473.3,284.4 L472,279.1 L471.2,275.7 L470.4,271.9 L469.4,267 L468.7,263.2 L468.1,258.4 L467.6,252.6 L467.3,246.8 L467.5,241.1 L467.9,235.3 L468.5,229.5 L468.9,226.7 L469.9,220.9 L470.5,218 M480.1,318.1 L478.5,313.8 L477.3,310.3 L476.3,307.4 L475.2,304.3 L473.6,299.2 L472.6,295.9 L471.7,293 L470.4,288.6 L469.1,284.4 L468.2,281.5 L467.1,277.5 L465.9,272.8 L465.2,269.9 L464.1,264.2 L463.7,261.3 L463.1,255.5 L462.8,249.7 L462.8,244 L463.1,238.2 L463.7,232.4 L464.1,229.5 L465.1,223.8 L465.7,220.9 M480.1,327.5 L478.5,323.5 L476.9,319.2 L475.7,316.1 L474.7,313.2 L473.6,310.1 L472,305.2 L470.8,301.7 L469.8,298.8 L468.7,295.8 L467.1,291.2 L465.7,287.2 L464.8,284.4 L463.9,281.4 L462.2,275.7 L461.5,272.8 L460.6,268.4 L459.9,264.2 L459.2,258.4 L459,255.5 L458.8,249.7 L458.8,244 L459,240.8 L459.5,235.3 L460.2,229.5 L460.7,226.7 L461.9,220.9 L462.5,218 M479.1,333.4 L477.8,330.5 L476.7,327.6 L475.2,323.8 L473.6,319.4 L472.5,316.1 L471.4,313.2 L470.4,310.2 L468.7,305.8 L467.1,301.7 L466,298.8 L464.9,295.9 L463.8,293 L462.2,288.7 L460.8,284.4 L459.9,281.5 L459,278 L457.9,272.8 L457.4,269.6 L456.7,264.2 L456.1,258.4 L455.8,252.6 L455.8,246.8 L455.9,241.1 L456.3,235.3 L456.9,229.5 L457.4,226.5 L458.4,220.9 L459,218 M475.8,333.4 L474.7,330.5 L473.6,327.6 L472,323.1 L470.5,319 L469.4,316.1 L468.3,313.2 L467.1,310.3 L465.5,306.3 L463.9,302.4 L462.3,298.8 L461.2,295.9 L460.1,293 L459,289.8 L457.5,284.4 L456.8,281.5 L455.7,276.4 L455.1,272.8 L454.2,267 L453.8,264.2 L453.2,258.4 L452.8,252.6 L452.7,246.8 L452.9,241.1 L453.4,235.3 L454.1,229.6 L454.5,226.7 L455.5,220.9 L456,218 M473,333.4 L471.9,330.5 L470.4,326.2 L468.7,322 L467.5,319 L466.3,316.1 L465.1,313.2 L463.8,310.3 L462.2,306.7 L460.6,302.9 L459,298.9 L458,295.9 L457,293 L455.7,288.3 L454.7,284.4 L454,281.5 L452.5,275.7 L451.7,272.8 L450.9,269.6 L449.2,264.2 L448.4,261.3 L447.6,257.2 L447,252.6 L447,246.8 L447.6,241.4 L448.1,238.2 L449.2,233.5 L450.2,229.5 L450.9,226.7 L452.4,220.9 L453.1,218 M470.5,333.4 L469.4,330.5 L468.2,327.6 L467,324.7 L465.5,321.1 L463.9,317.4 L462.2,313.8 L460.6,310.3 L459.4,307.4 L458.2,304.5 L457.1,301.7 L455.7,297.4 L454.3,293 L453.3,290.1 L452.4,287.2 L450.9,283.5 L449.2,280.3 L447.6,277.5 L446,274.8 L444.4,271.7 L442.7,267.4 L442,264.2 L441.1,258.4 L441,255.5 L441.1,249.7 L441.3,246.8 L442,241.1 L442.7,237.2 L443.9,232.4 L444.7,229.5 L446,225.5 L447.6,221.2 L448.9,218 M468,333.4 L466.8,330.5 L465.5,327.5 L463.9,323.9 L462.2,320.3 L460.6,316.9 L459,313.3 L457.7,310.3 L456.6,307.4 L455.5,304.5 L454.1,300.7 L452.5,296.6 L450.8,293.3 L449.2,290.6 L447.6,288.3 L446,286.3 L444.3,284.4 L442.4,281.5 L440.9,278.6 L439.5,274.4 L438.4,269.9 L437.9,266.4 L437.3,261.3 L437.1,255.5 L437.2,249.7 L437.7,244 L438.1,241.1 L439.1,235.3 L439.8,232.4 L441.1,227.6 L442.3,223.8 L443.3,220.9 M465.5,333.4 L463.9,329.8 L462.2,326.3 L460.6,322.9 L459,319.5 L457.5,316.1 L456.3,313.2 L455.1,310.3 L453.9,307.4 L452.5,304.3 L450.9,301.3 L449.2,298.8 L446.8,295.9 L444.4,293.3 L442.7,291.6 L441.1,289.4 L439.5,286.5 L437.9,282.7 L436.5,278.6 L435.8,275.7 L434.8,269.9 L434.4,267 L433.9,261.3 L433.7,255.5 L433.9,249.7 L434.4,244 L434.7,241.1 L435.7,235.3 L436.3,232.4 L437.8,226.7 L438.7,223.8 L439.7,220.9 M463,333.4 L461.6,330.5 L460.2,327.6 L458.8,324.7 L457.4,321.7 L455.7,318 L454.1,314.4 L452.5,311 L450.9,308.2 L449.2,305.9 L447.6,303.9 L445.4,301.7 L442.7,299.2 L441.1,297.4 L439.5,295.2 L437.9,292.5 L436.2,289.3 L434.6,285.2 L433.4,281.5 L432.6,278.6 L431.4,272.8 L431,269.9 L430.4,264.2 L430.1,258.4 L430.1,252.6 L430.5,246.8 L431.2,241.1 L431.6,238.2 L432.8,232.4 L433.5,229.5 L434.6,225.6 L436.1,220.9 L437.2,218 M460.5,333.4 L459,330.4 L457.4,327.1 L455.7,323.6 L454.1,320.2 L452.5,317.1 L450.9,314.5 L449.2,312.2 L447.6,310.2 L444.7,307.4 L442.7,305.7 L441.1,304.1 L438.9,301.7 L436.7,298.8 L434.9,295.9 L433.4,293 L432,290.1 L430.9,287.2 L429.7,283.8 L428.4,278.6 L427.8,275.7 L426.9,269.9 L426.5,265.3 L426.2,261.3 L426.1,255.5 L426.2,249.7 L426.5,245.9 L427,241.1 L427.9,235.3 L428.5,232.4 L429.7,228.3 L431.3,223.8 L432.4,220.9 L433.5,218 M458,333.4 L456.5,330.5 L455.1,327.6 L453.6,324.7 L451.9,321.9 L450,319 L447.7,316.1 L446,314.3 L444.4,312.9 L441.3,310.3 L439.5,308.5 L437.9,306.9 L435.5,304.5 L433.2,301.7 L431.4,299 L429.7,296.2 L428.1,293 L426.9,290.1 L425.9,287.2 L424.9,283.1 L424,278.6 L423.2,272.8 L422.9,269.9 L422.5,264.2 L422.3,258.4 L422.2,252.6 L422.3,246.8 L422.6,241.1 L423.2,235.4 L423.7,232.4 L424.9,227.1 L425.9,223.8 L427,220.9 L428.5,218 M455.5,333.4 L454,330.5 L452.3,327.6 L450.4,324.7 L448.2,321.9 L446,319.5 L444.4,318.2 L441.8,316.1 L439.5,314.1 L437.9,312.8 L434.6,310.3 L433,308.9 L431.4,307.4 L428.7,304.5 L426.5,301.8 L424.9,299.2 L423.4,295.9 L422.5,293 L421.6,289 L420.8,284.4 L420,278.6 L419.7,275.7 L419.2,269.9 L418.8,264.2 L418.5,258.4 L418.4,255.4 L418.2,249.7 L418.1,244 L418,238.2 L418.1,232.4 L418.4,228.2 L418.8,223.8 L420,218.1 M452.8,333.4 L451,330.5 L449.2,328.1 L447.6,326.1 L446,324.4 L442.9,321.9 L441.1,320.4 L439.1,319 L436.2,317.3 L433.9,316.1 L431.4,314.6 L429.2,313.2 L426.5,311.7 L424.1,310.3 L422,307.4 L420.9,304.5 L420,301.5 L418.7,295.9 L418.2,293 L417.4,287.2 L416.7,281.5 L416.4,278.6 L416,272.8 L415.5,267 L415.2,261.3 L415,258.4 L414.7,252.6 L414.4,246.9 L414.1,241.1 L413.7,235.3 L413.5,231 L413.2,226.7 L412.8,220.9 M449.7,333.4 L447.6,330.7 L446,329 L444.3,327.6 L441.1,325.1 L439.5,323.9 L436.2,322.5 L434.1,321.9 L431.4,321 L428.1,320.1 L424.9,320.5 L421.6,319.8 L420,317.5 L418.4,314.1 L417.1,310.3 L416.4,307.4 L415.3,301.7 L414.9,298.8 L414.2,293 L413.7,287.2 L413.4,284.4 L413,278.6 L412.6,272.8 L412.3,267 L411.9,261.3 L411.7,258.4 L411.4,252.6 L411,246.8 L410.5,241.1 L410.2,237.7 L409.7,232.4 L409,226.7 L408.6,223.6 L407.7,218 M446.1,333.4 L444.4,331.9 L442.6,330.5 L439.5,328.4 L437.6,327.6 L434.6,327.1 L431.4,326.8 L428.1,326.8 L426.5,327.6 L423.2,330.1 L421.6,330.8 L420,330.5 L416.7,329 L415.1,327.5 L413.5,324.6 L412.2,319 L411.9,316 L411.4,310.3 L411,304.5 L410.7,298.8 L410.4,293 L410.2,288.5 L410,284.4 L409.8,278.6 L409.5,272.8 L409.2,267 L408.8,261.3 L408.6,258 L408.2,252.6 L407.8,246.8 L407.2,241.1 L406.9,238.2 L406.2,232.4 L405.4,226.7 L404.9,223.8 L403.8,218 M404.6,333.4 L405.4,330.5 L406.2,324.7 L406.7,319 L406.9,313.2 L407,310.3 L407.1,304.5 L407.1,298.8 L407,293 L407,288.8 L406.9,284.4 L406.7,278.6 L406.5,272.8 L406.2,267 L405.9,261.3 L405.5,255.5 L405.3,252.6 L404.8,246.8 L404.2,241.1 L403.7,237.5 L403,232.4 L402.1,226.8 L401.5,223.8 L400.5,219.1 M440.9,333.4 L437.9,332 L434.6,331.9 L431.4,332.2 L428.1,333 M393.6,333.4 L395.4,330.5 L397.2,327.8 L398.9,325.2 L400.4,321.9 L401.3,319 L402.1,315.2 L402.8,310.3 L403.3,304.5 L403.6,298.8 L403.7,295.3 L403.8,290.1 L403.8,284.4 L403.7,278.6 L403.7,275.7 L403.5,269.9 L403.2,264.2 L402.9,258.4 L402.4,252.6 L402.1,248.8 L401.6,244 L400.9,238.2 L400.5,235.3 L399.5,229.5 L398.9,226.2 L397.7,220.9 L396.9,218 M388.5,333.4 L390.3,330.5 L391.9,327.6 L393.3,324.7 L394.5,321.9 L395.6,318.9 L397.2,314.1 L398.2,310.3 L398.9,307.2 L399.7,301.7 L400.2,295.9 L400.5,292.4 L400.7,287.2 L400.8,281.5 L400.8,275.7 L400.7,269.9 L400.5,264.5 L400.3,261.3 L399.9,255.5 L399.5,249.7 L398.9,244.1 L398.5,241.1 L397.6,235.3 L397.1,232.4 L396,226.7 L395.3,223.8 L394,218.6 M384.1,333.4 L385.8,330.5 L387.5,327.7 L389,324.7 L390.3,321.9 L391.5,319 L392.5,316.1 L394,311 L394.9,307.4 L395.6,303.8 L396.5,298.8 L397.1,293 L397.4,290.1 L397.7,284.4 L397.9,278.6 L398,272.8 L397.9,267 L397.6,261.3 L397.3,255.5 L397,252.6 L396.5,246.8 L395.8,241.1 L395.3,238.2 L394.3,232.4 L393.8,229.5 L392.4,223.8 L391.7,220.9 M380.7,333.4 L382.1,330.5 L383.6,327.6 L385.1,324.7 L386.4,321.9 L387.7,319 L389.1,315.2 L390.7,310.3 L391.4,307.4 L392.4,303.3 L393.2,298.8 L394,293.3 L394.3,290.1 L394.8,284.4 L395.1,278.6 L395.2,272.8 L395.2,267 L395,261.3 L394.6,255.5 L394.1,249.7 L393.8,246.8 L393.1,241.1 L392.4,236.6 L391.6,232.4 L390.7,228.1 L389.7,223.8 L389,220.9 M378,333.4 L379.3,330.1 L381,326.4 L382.6,322.6 L384.2,319 L385.3,316.1 L386.4,313.2 L387.5,309.7 L388.9,304.5 L389.5,301.7 L390.6,295.9 L391,293 L391.7,287.2 L392.2,281.5 L392.4,277.8 L392.5,272.8 L392.5,267 L392.4,262.1 L392.2,258.4 L391.8,252.6 L391.2,246.8 L390.7,243.2 L390,238.2 L389.1,233 L388.4,229.5 L387.5,225.3 L386.4,220.9 L385.6,218 M375.3,333.4 L376.5,330.5 L377.7,327.4 L379.4,323.3 L381,319.1 L382.1,316.1 L383.2,313.2 L384.2,310 L385.8,304.6 L386.5,301.7 L387.5,296.9 L388.1,293 L388.9,287.2 L389.2,284.4 L389.6,278.6 L389.8,272.8 L389.9,267 L389.7,261.3 L389.4,255.5 L389.1,251.4 L388.7,246.8 L387.9,241.1 L387.5,238 L386.5,232.4 L385.9,229.2 L384.6,223.8 L383.9,220.9 M372.9,333.4 L374.5,328.9 L376,324.7 L377.1,321.9 L378.2,319 L379.4,315.6 L381,310.8 L382,307.4 L382.8,304.5 L384.2,298.9 L384.8,295.9 L385.8,290.1 L386.2,287.2 L386.8,281.5 L387.2,275.7 L387.3,269.9 L387.3,264.2 L387.1,258.4 L386.8,252.6 L386.2,246.8 L385.9,243.7 L385.1,238.2 L384.2,233.2 L383.5,229.5 L382.6,225.3 L381.5,220.9 L380.8,218 M370.5,333.4 L371.4,330.5 L372.9,326.3 L374.4,321.9 L375.4,319 L376.4,316.1 L377.7,311.9 L379.1,307.4 L379.9,304.5 L381,300.5 L382,295.9 L382.6,293 L383.5,287.2 L384.2,281.5 L384.4,278.6 L384.8,272.8 L384.9,267 L384.8,261.3 L384.5,255.5 L384.2,251.1 L383.8,246.8 L383.1,241.1 L382.6,237.8 L381.7,232.4 L381,229 L379.8,223.8 L379.1,220.9 M368,333.4 L369.6,328.6 L370.8,324.7 L371.8,321.9 L372.9,318.4 L374.5,313.2 L375.4,310.3 L376.2,307.4 L377.7,301.9 L378.5,298.8 L379.4,295 L380.3,290.1 L381,285.7 L381.5,281.5 L382,275.7 L382.3,269.9 L382.4,264.2 L382.2,258.4 L381.9,252.6 L381.3,246.8 L381,243.7 L380.2,238.2 L379.4,233.4 L378.6,229.5 L377.7,225.3 L376.8,220.9 M365.6,333.4 L366.5,330.5 L368,325.7 L369.1,321.9 L370,319 L371.2,314.8 L372.5,310.3 L373.3,307.4 L374.5,303.1 L375.6,298.8 L376.2,295.9 L377.4,290.1 L377.9,287.2 L378.7,281.5 L379.2,275.7 L379.4,272.8 L379.6,267 L379.6,261.3 L379.4,255.5 L379.2,252.6 L378.7,246.8 L378,241.1 L377.6,238.2 L376.7,232.4 L376.1,229.3 L375,223.8 L374.4,220.9 M363.3,333.4 L364.7,328.1 L365.7,324.7 L366.5,321.9 L368,316.7 L368.9,313.2 L369.7,310.3 L371.2,304.5 L371.9,301.7 L372.9,297.6 L373.8,293 L374.5,289.5 L375.3,284.4 L376,278.6 L376.3,275.7 L376.7,269.9 L376.8,264.2 L376.8,258.4 L376.5,252.6 L376.1,247.6 L375.7,244 L375,238.2 L374.5,234.6 L373.6,229.5 L372.9,225.4 L371.9,220.9 M361.1,333.4 L361.7,330.5 L363.1,324.9 L363.9,321.9 L364.7,318.8 L366.2,313.2 L366.9,310.3 L368,306 L369,301.7 L369.6,298.8 L370.8,293 L371.3,290.1 L372.2,284.4 L372.9,279.7 L373.3,275.7 L373.7,269.9 L373.9,264.2 L373.9,258.4 L373.6,252.6 L373.2,246.8 L372.9,243.2 L372.2,238.2 L371.3,232.4 L370.8,229.5 L369.7,223.8 L369,220.9 M359,333.4 L359.9,329 L360.7,324.7 L361.5,321.3 L362.7,316.1 L363.4,313.2 L364.7,307.6 L365.4,304.5 L366.4,300.3 L367.2,295.9 L368,291.7 L368.7,287.2 L369.5,281.5 L369.8,278.6 L370.3,272.8 L370.7,267 L370.8,261.3 L370.7,255.5 L370.4,249.7 L369.8,244 L369.5,241.1 L368.7,235.3 L368,231 L367.1,226.7 L366.4,222.9 L365.2,218 M356.7,333.4 L357.7,327.6 L358.2,324.7 L359.3,319 L359.9,316.1 L361.1,310.3 L361.8,307.4 L363,301.7 L363.6,298.8 L364.7,293 L365.1,290.1 L366,284.4 L366.4,281.5 L366.9,275.7 L367.3,269.9 L367.5,264.2 L367.5,258.4 L367.3,252.6 L366.9,246.8 L366.4,241.8 L365.9,238.2 L365,232.4 L364.5,229.5 L363.5,223.8 L363,220.9 M354.2,333.4 L354.9,327.6 L355.3,324.7 L356.3,319 L356.8,316.1 L357.9,310.3 L358.4,307.4 L359.5,301.7 L360.1,298.8 L361.2,293 L361.7,290.1 L362.6,284.4 L363.1,280.2 L363.5,275.7 L363.9,269.9 L364.1,264.2 L364.1,258.4 L363.9,252.6 L363.5,246.8 L363.1,242.7 L362.6,238.2 L361.9,232.4 L361.5,229.5 L360.7,223.8 L360,218 M351.3,333.4 L351.7,327.6 L352,324.7 L352.5,319 L353.3,313.2 L353.8,310.3 L354.7,304.5 L355.2,301.7 L356.3,295.9 L356.8,293 L357.8,287.2 L358.2,284.3 L359,278.6 L359.6,272.8 L359.9,269.1 L360.1,264.2 L360.2,258.4 L360.1,252.6 L359.9,247.5 L359.7,244 L359.3,238.2 L358.9,232.4 L358.4,226.7 L358.2,223.8 L357.8,218 M350.1,294 L350.9,290.1 L351.7,286.9 L352.8,281.5 L353.4,278.6 L354.3,272.8 L355,267 L355.2,264.2 L355.7,258.4 L355.9,252.6 L356.1,246.8 L356.1,241.1 L356.1,235.3 L356,229.5 L355.9,223.8 L355.7,218 M350.1,261.1 L351.2,255.5 L351.7,251.9 L352.3,246.8 L352.8,241.1 L353.2,235.3 L353.4,231.9 L353.6,226.7 L353.7,220.9 M350.1,237.5 L350.7,232.4 L351.3,226.7 L351.7,220.9 L351.9,218" fill="none" stroke="#000" stroke-opacity="0.16" stroke-width="0.35"/>
<path d="M350.1 218V333.4H480.1V218ZM350.1 333.4v2M366.4 333.4v1.1M382.6 333.4v2M398.9 333.4v1.1M415.1 333.4v2M431.4 333.4v1.1M447.6 333.4v2M463.9 333.4v1.1M480.1 333.4v2M350.1 333.4h-2.4M350.1 304.5h-1.3M350.1 275.7h-2.4M350.1 246.8h-1.3M350.1 218h-2.4" stroke="#333" stroke-width="0.5" fill="none"/>
<text x="350.1" y="341.2" font-size="4.4" text-anchor="middle" fill="#222">Oak</text>
<text x="382.6" y="341.2" font-size="4.4" text-anchor="middle" fill="#222">2Oak:LDPE</text>
<text x="415.1" y="341.2" font-size="4.4" text-anchor="middle" fill="#222">Oak:LDPE</text>
<text x="447.6" y="341.2" font-size="4.4" text-anchor="middle" fill="#222">Oak:2LDPE</text>
<text x="480.1" y="341.2" font-size="4.4" text-anchor="middle" fill="#222">LDPE</text>
<text x="346.2" y="335" font-size="4.4" text-anchor="end" fill="#222">100</text>
<text x="346.2" y="277.3" font-size="4.4" text-anchor="end" fill="#222">150</text>
<text x="346.2" y="219.6" font-size="4.4" text-anchor="end" fill="#222">200</text>
<text x="415.4" y="349.6" font-size="5.8" text-anchor="middle" font-weight="bold" fill="#222">Biomass:Plastic ratio</text>
<text transform="translate(334.3 275.7) rotate(-90)" font-size="5.5" font-weight="bold" text-anchor="middle" fill="#222">H<tspan font-size="3.8" dy="1.2">2</tspan><tspan dy="-1.2"> Pressure (psi)</tspan></text>
</svg>
</body></html>
